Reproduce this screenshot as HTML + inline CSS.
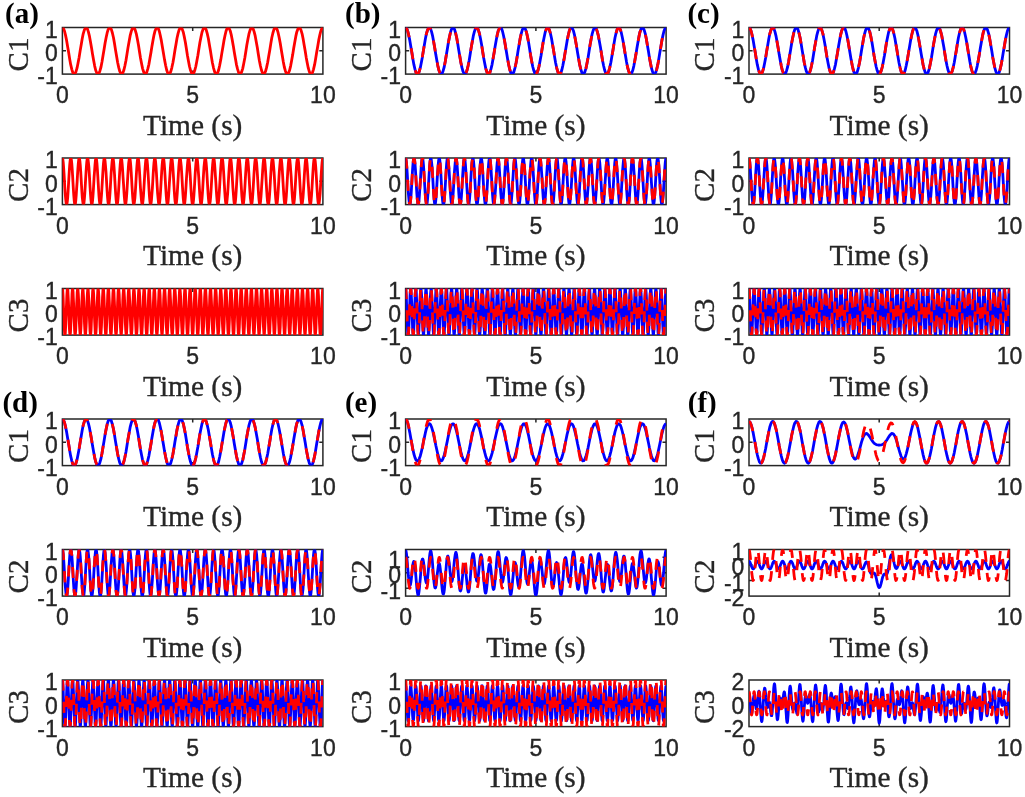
<!DOCTYPE html>
<html><head><meta charset="utf-8"><title>Figure</title><style>
html,body{margin:0;padding:0;background:#fff;}
body{width:1025px;height:797px;overflow:hidden;}
svg{display:block;}
path{fill:none;}
.r{fill:none;stroke:#ff0000;stroke-width:28.0;stroke-linejoin:round;}
.b{fill:none;stroke:#0000ff;stroke-width:28.0;stroke-linejoin:round;}
.rd{fill:none;stroke:#ff0000;stroke-width:28.0;stroke-linejoin:round;}
.box{fill:none;stroke:#262626;stroke-width:1.5;}
.tk{fill:none;stroke:#262626;stroke-width:1.5;}
.tl{font-family:"Liberation Sans",Arial,sans-serif;font-size:23px;fill:#262626;stroke:#262626;stroke-width:0.35px;}
.lb{font-family:"Liberation Serif","Times New Roman",serif;font-size:29.4px;fill:#262626;stroke:#262626;stroke-width:0.35px;}
.yl{font-family:"Liberation Serif","Times New Roman",serif;font-size:30.5px;fill:#262626;stroke:#262626;stroke-width:0.35px;}
.pl{font-family:"Liberation Serif","Times New Roman",serif;font-size:29px;font-weight:bold;fill:#000;}
</style></head>
<body>
<svg width="1025" height="797" viewBox="0 0 1025 797">
<defs>
<clipPath id="k00"><rect x="62.4" y="27.5" width="260.5" height="46.6"/></clipPath>
<clipPath id="k01"><rect x="62.4" y="158.0" width="260.5" height="46.6"/></clipPath>
<clipPath id="k02"><rect x="62.4" y="288.5" width="260.5" height="46.6"/></clipPath>
<clipPath id="k03"><rect x="62.4" y="419.0" width="260.5" height="46.6"/></clipPath>
<clipPath id="k04"><rect x="62.4" y="549.5" width="260.5" height="46.6"/></clipPath>
<clipPath id="k05"><rect x="62.4" y="680.0" width="260.5" height="46.6"/></clipPath>
<clipPath id="k10"><rect x="405.6" y="27.5" width="260.5" height="46.6"/></clipPath>
<clipPath id="k11"><rect x="405.6" y="158.0" width="260.5" height="46.6"/></clipPath>
<clipPath id="k12"><rect x="405.6" y="288.5" width="260.5" height="46.6"/></clipPath>
<clipPath id="k13"><rect x="405.6" y="419.0" width="260.5" height="46.6"/></clipPath>
<clipPath id="k14"><rect x="405.6" y="549.5" width="260.5" height="46.6"/></clipPath>
<clipPath id="k15"><rect x="405.6" y="680.0" width="260.5" height="46.6"/></clipPath>
<clipPath id="k20"><rect x="749.0" y="27.5" width="260.5" height="46.6"/></clipPath>
<clipPath id="k21"><rect x="749.0" y="158.0" width="260.5" height="46.6"/></clipPath>
<clipPath id="k22"><rect x="749.0" y="288.5" width="260.5" height="46.6"/></clipPath>
<clipPath id="k23"><rect x="749.0" y="419.0" width="260.5" height="46.6"/></clipPath>
<clipPath id="k24"><rect x="749.0" y="549.5" width="260.5" height="46.6"/></clipPath>
<clipPath id="k25"><rect x="749.0" y="680.0" width="260.5" height="46.6"/></clipPath>
</defs>
<rect width="1025" height="797" fill="#fff"/>
<text x="5.0" y="22.7" class="pl">(a)</text>
<rect class="box" x="62.4" y="27.5" width="260.5" height="46.6"/>
<path class="tk" d="M192.7 27.5v3.6M192.7 74.1v-3.6M62.4 50.8h3.6M322.9 50.8h-3.6"/>
<g clip-path="url(#k00)"><g transform="translate(62.4,27.5) scale(0.1)">
<path class="r" d="M0 0L10 9 21 35 31 76 42 129 52 189 63 253 73 316 83 372 94 418 104 450 115 465 125 462 135 443 146 407 156 358 167 299 177 236 188 172 198 113 208 63 219 26 229 5 240 1 250 14 260 44 271 89 281 145 292 207 302 271 313 332 323 386 333 428 344 455 354 466 365 459 375 434 386 395 396 343 406 282 417 218 427 155 438 98 448 52 458 19 469 2 479 3 490 21 500 55 511 103 521 161 531 224 542 288 552 348 563 399 573 437 584 460 594 466 604 454 615 425 625 382 636 327 646 265 656 201 667 139 677 84 688 41 698 12 709 0 719 6 729 29 740 67 750 118 761 178 771 242 781 305 792 363 802 411 813 445 823 463 834 464 844 447 854 414 865 368 875 311 886 248 896 184 907 123 917 71 927 32 938 7 948 0 959 11 969 38 979 80 990 134 1000 195 1011 259 1021 321 1032 377 1042 422 1052 452 1063 465 1073 461 1084 440 1094 403 1105 353 1115 294 1125 230 1136 167 1146 108 1157 59 1167 23 1177 4 1188 1 1198 16 1209 48 1219 94 1230 150 1240 213 1250 277 1261 337 1271 390 1282 431 1292 457 1302 466 1313 457 1323 431 1334 390 1344 337 1355 277 1365 213 1375 150 1386 94 1396 48 1407 16 1417 1 1428 4 1438 23 1448 59 1459 108 1469 167 1480 230 1490 294 1500 353 1511 403 1521 440 1532 461 1542 465 1553 452 1563 422 1573 377 1584 321 1594 259 1605 195 1615 134 1626 80 1636 38 1646 11 1657 0 1667 7 1678 32 1688 71 1698 123 1709 184 1719 248 1730 311 1740 368 1751 414 1761 447 1771 464 1782 463 1792 445 1803 411 1813 363 1824 305 1834 242 1844 178 1855 118 1865 67 1876 29 1886 6 1896 0 1907 12 1917 41 1928 84 1938 139 1949 201 1959 265 1969 327 1980 382 1990 425 2001 454 2011 466 2021 460 2032 437 2042 399 2053 348 2063 288 2074 224 2084 161 2094 103 2105 55 2115 21 2126 3 2136 2 2147 19 2157 52 2167 98 2178 155 2188 218 2199 282 2209 343 2219 395 2230 434 2240 459 2251 466 2261 455 2272 428 2282 386 2292 332 2303 271 2313 207 2324 145 2334 89 2344 44 2355 14 2365 1 2376 5 2386 26 2397 63 2407 113 2417 172 2428 236 2438 299 2449 358 2459 407 2470 443 2480 462 2490 465 2501 450 2511 418 2522 372 2532 316 2542 253 2553 189 2563 129 2574 76 2584 35 2595 9 2605 0"/>
</g></g>
<text class="tl" x="57.8" y="84.3" text-anchor="end">-1</text>
<text class="tl" x="57.8" y="61.0" text-anchor="end">0</text>
<text class="tl" x="57.8" y="37.7" text-anchor="end">1</text>
<text class="tl" x="62.4" y="103.2" text-anchor="middle">0</text>
<text class="tl" x="192.7" y="103.2" text-anchor="middle">5</text>
<text class="tl" x="322.9" y="103.2" text-anchor="middle">10</text>
<text class="lb" x="192.7" y="134.9" text-anchor="middle">Time (s)</text>
<text class="yl" transform="translate(27.5,54.5) rotate(-90) scale(0.95,1)" text-anchor="middle">C1</text>
<rect class="box" x="62.4" y="158.0" width="260.5" height="46.6"/>
<path class="tk" d="M192.7 158.0v3.6M192.7 204.6v-3.6M62.4 181.3h3.6M322.9 181.3h-3.6"/>
<g clip-path="url(#k01)"><g transform="translate(62.4,158.0) scale(0.1)">
<path class="r" d="M0 0L4 11 8 42 12 91 16 152 20 222 24 292 28 357 33 410 37 447 41 465 45 461 49 436 53 393 57 335 61 267 65 197 69 129 73 72 77 29 81 4 85 1 90 20 94 57 98 111 102 176 106 247 110 316 114 377 118 425 122 456 126 466 130 455 134 423 138 374 142 311 147 242 151 172 155 107 159 54 163 18 167 1 171 5 175 31 179 75 183 133 187 201 191 272 195 339 199 396 204 438 208 462 212 464 216 446 220 407 224 353 228 287 232 217 236 148 240 87 244 39 248 9 252 0 256 12 260 44 265 94 269 157 273 226 277 296 281 361 285 413 289 449 293 465 297 460 301 434 305 389 309 331 313 263 317 192 322 125 326 68 330 26 334 4 338 2 342 21 346 60 350 115 354 181 358 251 362 320 366 381 370 428 374 457 379 466 383 453 387 420 391 370 395 307 399 238 403 168 407 104 411 51 415 16 419 1 423 6 427 33 431 78 436 138 440 206 444 276 448 343 452 399 456 441 460 463 464 464 468 444 472 404 476 349 480 283 484 212 488 144 493 83 497 37 501 8 505 0 509 14 513 47 517 98 521 161 525 231 529 301 533 364 537 416 541 451 545 466 549 459 554 432 558 386 562 326 566 258 570 188 574 121 578 65 582 24 586 3 590 3 594 23 598 63 602 119 606 185 611 256 615 324 619 384 623 430 627 458 631 466 635 452 639 417 643 366 647 303 651 233 655 163 659 100 663 49 668 14 672 0 676 8 680 36 684 82 688 142 692 210 696 281 700 347 704 403 708 443 712 463 716 463 720 442 725 401 729 345 733 278 737 208 741 140 745 80 749 34 753 7 757 0 761 15 765 50 769 102 773 165 777 235 781 305 786 368 790 419 794 452 798 466 802 458 806 429 810 383 814 322 818 254 822 183 826 117 830 62 834 22 838 2 843 3 847 25 851 67 855 123 859 190 863 260 867 328 871 388 875 433 879 460 883 465 887 450 891 415 895 362 900 298 904 228 908 159 912 96 916 46 920 13 924 0 928 9 932 38 936 85 940 146 944 215 948 285 952 351 957 406 961 445 965 464 969 462 973 440 977 398 981 341 985 274 989 203 993 135 997 77 1001 32 1005 6 1009 1 1014 17 1018 53 1022 105 1026 170 1030 240 1034 309 1038 372 1042 422 1046 454 1050 466 1054 457 1058 427 1062 379 1066 318 1070 249 1075 179 1079 113 1083 59 1087 20 1091 2 1095 4 1099 28 1103 70 1107 127 1111 194 1115 265 1119 333 1123 391 1127 435 1132 461 1136 465 1140 448 1144 412 1148 359 1152 294 1156 224 1160 155 1164 92 1168 43 1172 11 1176 0 1180 10 1184 41 1189 89 1193 150 1197 219 1201 290 1205 355 1209 409 1213 446 1217 465 1221 462 1225 437 1229 394 1233 337 1237 269 1241 199 1246 131 1250 73 1254 30 1258 5 1262 1 1266 19 1270 56 1274 109 1278 174 1282 244 1286 314 1290 375 1294 424 1298 455 1302 466 1307 455 1311 424 1315 375 1319 314 1323 244 1327 174 1331 109 1335 56 1339 19 1343 1 1347 5 1351 30 1355 73 1359 131 1364 199 1368 269 1372 337 1376 394 1380 437 1384 462 1388 465 1392 446 1396 409 1400 355 1404 290 1408 219 1412 150 1416 89 1421 41 1425 10 1429 0 1433 11 1437 43 1441 92 1445 155 1449 224 1453 294 1457 359 1461 412 1465 448 1469 465 1473 461 1478 435 1482 391 1486 333 1490 265 1494 194 1498 127 1502 70 1506 28 1510 4 1514 2 1518 20 1522 59 1526 113 1530 179 1535 249 1539 318 1543 379 1547 427 1551 457 1555 466 1559 454 1563 422 1567 372 1571 309 1575 240 1579 170 1583 105 1587 53 1591 17 1596 1 1600 6 1604 32 1608 77 1612 135 1616 203 1620 274 1624 341 1628 398 1632 440 1636 462 1640 464 1644 445 1648 406 1653 351 1657 285 1661 215 1665 146 1669 85 1673 38 1677 9 1681 0 1685 13 1689 46 1693 96 1697 159 1701 228 1705 298 1710 362 1714 415 1718 450 1722 465 1726 460 1730 433 1734 388 1738 328 1742 260 1746 190 1750 123 1754 67 1758 25 1762 3 1767 2 1771 22 1775 62 1779 117 1783 183 1787 254 1791 322 1795 383 1799 429 1803 458 1807 466 1811 452 1815 419 1819 368 1824 305 1828 235 1832 165 1836 102 1840 50 1844 15 1848 0 1852 7 1856 34 1860 80 1864 140 1868 208 1872 278 1876 345 1880 401 1885 442 1889 463 1893 463 1897 443 1901 403 1905 347 1909 281 1913 210 1917 142 1921 82 1925 36 1929 8 1933 0 1937 14 1942 49 1946 100 1950 163 1954 233 1958 303 1962 366 1966 417 1970 452 1974 466 1978 458 1982 430 1986 384 1990 324 1994 256 1999 185 2003 119 2007 63 2011 23 2015 3 2019 3 2023 24 2027 65 2031 121 2035 188 2039 258 2043 326 2047 386 2051 432 2056 459 2060 466 2064 451 2068 416 2072 364 2076 301 2080 231 2084 161 2088 98 2092 47 2096 14 2100 0 2104 8 2108 37 2112 83 2117 144 2121 212 2125 283 2129 349 2133 404 2137 444 2141 464 2145 463 2149 441 2153 399 2157 343 2161 276 2165 206 2169 138 2174 78 2178 33 2182 6 2186 1 2190 16 2194 51 2198 104 2202 168 2206 238 2210 307 2214 370 2218 420 2222 453 2226 466 2231 457 2235 428 2239 381 2243 320 2247 251 2251 181 2255 115 2259 60 2263 21 2267 2 2271 4 2275 26 2279 68 2283 125 2288 192 2292 263 2296 331 2300 389 2304 434 2308 460 2312 465 2316 449 2320 413 2324 361 2328 296 2332 226 2336 157 2340 94 2344 44 2349 12 2353 0 2357 9 2361 39 2365 87 2369 148 2373 217 2377 287 2381 353 2385 407 2389 446 2393 464 2397 462 2401 438 2406 396 2410 339 2414 272 2418 201 2422 133 2426 75 2430 31 2434 5 2438 1 2442 18 2446 54 2450 107 2454 172 2458 242 2463 311 2467 374 2471 423 2475 455 2479 466 2483 456 2487 425 2491 377 2495 316 2499 247 2503 176 2507 111 2511 57 2515 20 2520 1 2524 4 2528 29 2532 72 2536 129 2540 197 2544 267 2548 335 2552 393 2556 436 2560 461 2564 465 2568 447 2572 410 2577 357 2581 292 2585 222 2589 152 2593 91 2597 42 2601 11 2605 0"/>
</g></g>
<text class="tl" x="57.8" y="214.8" text-anchor="end">-1</text>
<text class="tl" x="57.8" y="191.5" text-anchor="end">0</text>
<text class="tl" x="57.8" y="168.2" text-anchor="end">1</text>
<text class="tl" x="62.4" y="233.7" text-anchor="middle">0</text>
<text class="tl" x="192.7" y="233.7" text-anchor="middle">5</text>
<text class="tl" x="322.9" y="233.7" text-anchor="middle">10</text>
<text class="lb" x="192.7" y="265.4" text-anchor="middle">Time (s)</text>
<text class="yl" transform="translate(27.5,185.0) rotate(-90) scale(0.95,1)" text-anchor="middle">C2</text>
<rect class="box" x="62.4" y="288.5" width="260.5" height="46.6"/>
<path class="tk" d="M192.7 288.5v3.6M192.7 335.1v-3.6M62.4 311.8h3.6M322.9 311.8h-3.6"/>
<g clip-path="url(#k02)"><g transform="translate(62.4,288.5) scale(0.1)">
<path class="r" d="M0 0L3 12 5 46 8 100 10 167 13 240 16 313 18 378 21 428 23 458 26 466 29 449 31 411 34 354 36 285 39 211 42 139 44 77 47 30 49 4 52 2 55 23 57 65 60 125 63 195 65 269 68 340 70 400 73 443 76 464 78 462 81 436 83 390 86 328 89 256 91 182 94 113 96 56 99 17 102 1 104 7 107 37 109 87 112 151 115 224 117 298 120 365 122 419 125 454 128 466 130 455 133 421 135 368 138 301 141 227 143 154 146 89 148 39 151 8 154 0 156 16 159 54 162 111 164 179 167 253 169 326 172 388 175 435 177 461 180 464 182 444 185 402 188 343 190 272 193 198 195 127 198 67 201 24 203 2 206 4 208 29 211 75 214 136 216 208 219 282 221 352 224 409 227 448 229 465 232 459 234 430 237 380 240 316 242 243 245 169 247 102 250 48 253 13 255 0 258 11 260 44 263 97 266 164 268 237 271 311 274 376 276 427 279 458 281 466 284 450 287 413 289 357 292 288 294 214 297 142 300 79 302 32 305 5 307 1 310 22 313 63 315 122 318 192 320 267 323 337 326 398 328 441 331 464 333 462 336 438 339 392 341 331 344 259 346 185 349 116 352 58 354 19 357 1 359 7 362 35 365 84 367 149 370 221 373 295 375 363 378 417 380 453 383 466 386 455 388 422 391 370 393 304 396 230 399 157 401 91 404 40 406 9 409 0 412 15 414 53 417 108 419 176 422 251 425 323 427 386 430 434 432 461 435 465 438 445 440 404 443 345 445 275 448 201 451 130 453 69 456 25 458 3 461 3 464 27 466 72 469 134 472 205 474 280 477 349 479 407 482 447 485 465 487 460 490 431 492 383 495 319 498 246 500 172 503 104 505 50 508 14 511 0 513 10 516 43 518 95 521 161 524 234 526 308 529 373 531 425 534 457 537 466 539 451 542 414 544 359 547 291 550 217 552 145 555 81 557 33 560 6 563 1 565 20 568 61 570 119 573 189 576 264 578 335 581 396 584 440 586 463 589 463 591 439 594 395 597 334 599 262 602 188 604 118 607 60 610 20 612 1 615 6 617 34 620 82 623 146 625 218 628 292 630 360 633 415 636 452 638 466 641 456 643 424 646 372 649 306 651 233 654 160 656 94 659 42 662 10 664 0 667 14 669 51 672 106 675 174 677 248 680 320 683 384 685 432 688 460 690 465 693 446 696 406 698 348 701 278 703 204 706 132 709 71 711 27 714 3 716 3 719 26 722 70 724 131 727 202 729 277 732 347 735 405 737 446 740 465 742 460 745 433 748 385 750 321 753 249 755 175 758 107 761 52 763 15 766 0 768 9 771 41 774 93 776 158 779 232 781 305 784 371 787 423 789 456 792 466 795 452 797 416 800 362 802 294 805 220 808 147 810 83 813 35 815 6 818 1 821 19 823 59 826 117 828 186 831 261 834 332 836 394 839 439 841 463 844 463 847 441 849 397 852 336 854 265 857 191 860 121 862 62 865 21 867 1 870 5 873 32 875 80 878 143 880 215 883 290 886 358 888 413 891 451 894 466 896 457 899 426 901 375 904 309 907 236 909 162 912 96 914 44 917 11 920 0 922 13 925 49 927 103 930 171 933 245 935 317 938 382 940 431 943 459 946 465 948 447 951 408 953 350 956 281 959 207 961 135 964 74 966 28 969 4 972 2 974 25 977 68 979 129 982 199 985 274 987 344 990 403 993 444 995 465 998 461 1000 434 1003 387 1006 324 1008 252 1011 178 1013 109 1016 53 1019 16 1021 0 1024 8 1026 39 1029 90 1032 155 1034 229 1037 302 1039 369 1042 422 1045 455 1047 466 1050 453 1052 418 1055 364 1058 297 1060 223 1063 150 1065 86 1068 36 1071 7 1073 1 1076 18 1078 57 1081 114 1084 184 1086 258 1089 330 1091 391 1094 437 1097 462 1099 464 1102 442 1105 399 1107 339 1110 268 1112 194 1115 123 1118 64 1120 22 1123 2 1125 5 1128 31 1131 78 1133 140 1136 213 1138 287 1141 355 1144 412 1146 450 1149 466 1151 458 1154 427 1157 377 1159 312 1162 239 1164 165 1167 98 1170 45 1172 11 1175 0 1177 12 1180 47 1183 101 1185 168 1188 242 1190 315 1193 379 1196 429 1198 459 1201 465 1204 449 1206 410 1209 353 1211 284 1214 210 1217 138 1219 76 1222 30 1224 4 1227 2 1230 23 1232 66 1235 126 1237 197 1240 271 1243 341 1245 401 1248 443 1250 464 1253 462 1256 436 1258 389 1261 327 1263 255 1266 181 1269 112 1271 55 1274 17 1276 0 1279 8 1282 38 1284 88 1287 153 1289 226 1292 299 1295 366 1297 420 1300 454 1302 466 1305 454 1308 420 1310 366 1313 299 1316 226 1318 153 1321 88 1323 38 1326 8 1329 0 1331 17 1334 55 1336 112 1339 181 1342 255 1344 327 1347 389 1349 436 1352 462 1355 464 1357 443 1360 401 1362 341 1365 271 1368 197 1370 126 1373 66 1375 23 1378 2 1381 4 1383 30 1386 76 1388 138 1391 210 1394 284 1396 353 1399 410 1401 449 1404 465 1407 459 1409 429 1412 379 1415 315 1417 242 1420 168 1422 101 1425 47 1428 12 1430 0 1433 11 1435 45 1438 98 1441 165 1443 239 1446 312 1448 377 1451 427 1454 458 1456 466 1459 450 1461 412 1464 355 1467 287 1469 213 1472 140 1474 78 1477 31 1480 5 1482 2 1485 22 1487 64 1490 123 1493 194 1495 268 1498 339 1500 399 1503 442 1506 464 1508 462 1511 437 1514 391 1516 330 1519 258 1521 184 1524 114 1527 57 1529 18 1532 1 1534 7 1537 36 1540 86 1542 150 1545 223 1547 297 1550 364 1553 418 1555 453 1558 466 1560 455 1563 422 1566 369 1568 302 1571 229 1573 155 1576 90 1579 39 1581 8 1584 0 1586 16 1589 53 1592 109 1594 178 1597 252 1599 324 1602 387 1605 434 1607 461 1610 465 1612 444 1615 403 1618 344 1620 274 1623 199 1626 129 1628 68 1631 25 1633 2 1636 4 1639 28 1641 74 1644 135 1646 207 1649 281 1652 350 1654 408 1657 447 1659 465 1662 459 1665 431 1667 382 1670 317 1672 245 1675 171 1678 103 1680 49 1683 13 1685 0 1688 11 1691 44 1693 96 1696 162 1698 236 1701 309 1704 375 1706 426 1709 457 1711 466 1714 451 1717 413 1719 358 1722 290 1725 215 1727 143 1730 80 1732 32 1735 5 1738 1 1740 21 1743 62 1745 121 1748 191 1751 265 1753 336 1756 397 1758 441 1761 463 1764 463 1766 439 1769 394 1771 332 1774 261 1777 186 1779 117 1782 59 1784 19 1787 1 1790 6 1792 35 1795 83 1797 147 1800 220 1803 294 1805 362 1808 416 1810 452 1813 466 1816 456 1818 423 1821 371 1824 305 1826 232 1829 158 1831 93 1834 41 1837 9 1839 0 1842 15 1844 52 1847 107 1850 175 1852 249 1855 321 1857 385 1860 433 1863 460 1865 465 1868 446 1870 405 1873 347 1876 277 1878 202 1881 131 1883 70 1886 26 1889 3 1891 3 1894 27 1896 71 1899 132 1902 204 1904 278 1907 348 1909 406 1912 446 1915 465 1917 460 1920 432 1922 384 1925 320 1928 248 1930 174 1933 106 1936 51 1938 14 1941 0 1943 10 1946 42 1949 94 1951 160 1954 233 1956 306 1959 372 1962 424 1964 456 1967 466 1969 452 1972 415 1975 360 1977 292 1980 218 1982 146 1985 82 1988 34 1990 6 1993 1 1995 20 1998 60 2001 118 2003 188 2006 262 2008 334 2011 395 2014 439 2016 463 2019 463 2021 440 2024 396 2027 335 2029 264 2032 189 2035 119 2037 61 2040 20 2042 1 2045 6 2048 33 2050 81 2053 145 2055 217 2058 291 2061 359 2063 414 2066 451 2068 466 2071 457 2074 425 2076 373 2079 308 2081 234 2084 161 2087 95 2089 43 2092 10 2094 0 2097 14 2100 50 2102 104 2105 172 2107 246 2110 319 2113 383 2115 431 2118 460 2120 465 2123 447 2126 407 2128 349 2131 280 2133 205 2136 134 2139 72 2141 27 2144 3 2147 3 2149 25 2152 69 2154 130 2157 201 2160 275 2162 345 2165 404 2167 445 2170 465 2173 461 2175 434 2178 386 2180 323 2183 251 2186 176 2188 108 2191 53 2193 15 2196 0 2199 9 2201 40 2204 91 2206 157 2209 230 2212 304 2214 370 2217 422 2219 455 2222 466 2225 453 2227 417 2230 363 2232 295 2235 221 2238 149 2240 84 2243 35 2246 7 2248 1 2251 19 2253 58 2256 116 2259 185 2261 259 2264 331 2266 392 2269 438 2272 462 2274 464 2277 441 2279 398 2282 337 2285 267 2287 192 2290 122 2292 63 2295 22 2298 1 2300 5 2303 32 2305 79 2308 142 2311 214 2313 288 2316 357 2318 413 2321 450 2324 466 2326 458 2329 427 2331 376 2334 311 2337 237 2339 164 2342 97 2344 44 2347 11 2350 0 2352 13 2355 48 2358 102 2360 169 2363 243 2365 316 2368 380 2371 430 2373 459 2376 465 2378 448 2381 409 2384 352 2386 282 2389 208 2391 136 2394 75 2397 29 2399 4 2402 2 2404 24 2407 67 2410 127 2412 198 2415 272 2417 343 2420 402 2423 444 2425 464 2428 461 2430 435 2433 388 2436 326 2438 253 2441 179 2443 111 2446 54 2449 16 2451 0 2454 8 2457 39 2459 89 2462 154 2464 227 2467 301 2470 368 2472 421 2475 455 2477 466 2480 454 2483 419 2485 365 2488 298 2490 224 2493 151 2496 87 2498 37 2501 7 2503 1 2506 17 2509 56 2511 113 2514 182 2516 256 2519 328 2522 390 2524 436 2527 462 2529 464 2532 443 2535 400 2537 340 2540 269 2542 195 2545 125 2548 65 2550 23 2553 2 2556 4 2558 30 2561 77 2563 139 2566 211 2569 285 2571 354 2574 411 2576 449 2579 466 2582 458 2584 428 2587 378 2589 313 2592 240 2595 167 2597 100 2600 46 2602 12 2605 0"/>
</g></g>
<text class="tl" x="57.8" y="345.3" text-anchor="end">-1</text>
<text class="tl" x="57.8" y="322.0" text-anchor="end">0</text>
<text class="tl" x="57.8" y="298.7" text-anchor="end">1</text>
<text class="tl" x="62.4" y="364.2" text-anchor="middle">0</text>
<text class="tl" x="192.7" y="364.2" text-anchor="middle">5</text>
<text class="tl" x="322.9" y="364.2" text-anchor="middle">10</text>
<text class="lb" x="192.7" y="395.9" text-anchor="middle">Time (s)</text>
<text class="yl" transform="translate(27.5,315.5) rotate(-90) scale(0.95,1)" text-anchor="middle">C3</text>
<text x="2.4" y="412.2" class="pl">(d)</text>
<rect class="box" x="62.4" y="419.0" width="260.5" height="46.6"/>
<path class="tk" d="M192.7 419.0v3.6M192.7 465.6v-3.6M62.4 442.3h3.6M322.9 442.3h-3.6"/>
<g clip-path="url(#k03)"><g transform="translate(62.4,419.0) scale(0.1)">
<path class="b" d="M0 0L10 9 21 35 31 76 42 129 52 189 63 253 73 316 83 372 94 418 104 450 115 465 125 462 135 443 146 407 156 358 167 299 177 236 188 172 198 113 208 63 219 26 229 5 240 1 250 14 260 44 271 89 281 145 292 207 302 271 313 332 323 386 333 428 344 455 354 466 365 459 375 434 386 395 396 343 406 282 417 218 427 155 438 98 448 52 458 19 469 2 479 3 490 21 500 55 511 103 521 161 531 224 542 288 552 348 563 399 573 437 584 460 594 466 604 454 615 425 625 382 636 327 646 265 656 201 667 139 677 84 688 41 698 12 709 0 719 6 729 29 740 67 750 118 761 178 771 242 781 305 792 363 802 411 813 445 823 463 834 464 844 447 854 414 865 368 875 311 886 248 896 184 907 123 917 71 927 32 938 7 948 0 959 11 969 38 979 80 990 134 1000 195 1011 259 1021 321 1032 377 1042 422 1052 452 1063 465 1073 461 1084 440 1094 403 1105 353 1115 294 1125 230 1136 167 1146 108 1157 59 1167 23 1177 4 1188 1 1198 16 1209 48 1219 94 1230 150 1240 213 1250 277 1261 337 1271 390 1282 431 1292 457 1302 466 1313 457 1323 431 1334 390 1344 337 1355 277 1365 213 1375 150 1386 94 1396 48 1407 16 1417 1 1428 4 1438 23 1448 59 1459 108 1469 167 1480 230 1490 294 1500 353 1511 403 1521 440 1532 461 1542 465 1553 452 1563 422 1573 377 1584 321 1594 259 1605 195 1615 134 1626 80 1636 38 1646 11 1657 0 1667 7 1678 32 1688 71 1698 123 1709 184 1719 248 1730 311 1740 368 1751 414 1761 447 1771 464 1782 463 1792 445 1803 411 1813 363 1824 305 1834 242 1844 178 1855 118 1865 67 1876 29 1886 6 1896 0 1907 12 1917 41 1928 84 1938 139 1949 201 1959 265 1969 327 1980 382 1990 425 2001 454 2011 466 2021 460 2032 437 2042 399 2053 348 2063 288 2074 224 2084 161 2094 103 2105 55 2115 21 2126 3 2136 2 2147 19 2157 52 2167 98 2178 155 2188 218 2199 282 2209 343 2219 395 2230 434 2240 459 2251 466 2261 455 2272 428 2282 386 2292 332 2303 271 2313 207 2324 145 2334 89 2344 44 2355 14 2365 1 2376 5 2386 26 2397 63 2407 113 2417 172 2428 236 2438 299 2449 358 2459 407 2470 443 2480 462 2490 465 2501 450 2511 418 2522 372 2532 316 2542 253 2553 189 2563 129 2574 76 2584 35 2595 9 2605 0"/>
<path class="rd" stroke-dasharray="111.66 111.66" stroke-dashoffset="4.98" d="M0 0L10 9 21 35 31 76 42 129 52 189 63 253 73 316 83 372 94 418 104 450 115 465 125 462 135 443 146 407 156 358 167 299 177 236 188 172 198 113 208 63 219 26 229 5 240 1 250 14 260 44 271 89 281 145 292 207 302 271 313 332 323 386 333 428 344 455 354 466 365 459 375 434 386 395 396 343 406 282 417 218 427 155 438 98 448 52 458 19 469 2 479 3 490 21 500 55 511 103 521 161 531 224 542 288 552 348 563 399 573 437 584 460 594 466 604 454 615 425 625 382 636 327 646 265 656 201 667 139 677 84 688 41 698 12 709 0 719 6 729 29 740 67 750 118 761 178 771 242 781 305 792 363 802 411 813 445 823 463 834 464 844 447 854 414 865 368 875 311 886 248 896 184 907 123 917 71 927 32 938 7 948 0 959 11 969 38 979 80 990 134 1000 195 1011 259 1021 321 1032 377 1042 422 1052 452 1063 465 1073 461 1084 440 1094 403 1105 353 1115 294 1125 230 1136 167 1146 108 1157 59 1167 23 1177 4 1188 1 1198 16 1209 48 1219 94 1230 150 1240 213 1250 277 1261 337 1271 390 1282 431 1292 457 1302 466 1313 457 1323 431 1334 390 1344 337 1355 277 1365 213 1375 150 1386 94 1396 48 1407 16 1417 1 1428 4 1438 23 1448 59 1459 108 1469 167 1480 230 1490 294 1500 353 1511 403 1521 440 1532 461 1542 465 1553 452 1563 422 1573 377 1584 321 1594 259 1605 195 1615 134 1626 80 1636 38 1646 11 1657 0 1667 7 1678 32 1688 71 1698 123 1709 184 1719 248 1730 311 1740 368 1751 414 1761 447 1771 464 1782 463 1792 445 1803 411 1813 363 1824 305 1834 242 1844 178 1855 118 1865 67 1876 29 1886 6 1896 0 1907 12 1917 41 1928 84 1938 139 1949 201 1959 265 1969 327 1980 382 1990 425 2001 454 2011 466 2021 460 2032 437 2042 399 2053 348 2063 288 2074 224 2084 161 2094 103 2105 55 2115 21 2126 3 2136 2 2147 19 2157 52 2167 98 2178 155 2188 218 2199 282 2209 343 2219 395 2230 434 2240 459 2251 466 2261 455 2272 428 2282 386 2292 332 2303 271 2313 207 2324 145 2334 89 2344 44 2355 14 2365 1 2376 5 2386 26 2397 63 2407 113 2417 172 2428 236 2438 299 2449 358 2459 407 2470 443 2480 462 2490 465 2501 450 2511 418 2522 372 2532 316 2542 253 2553 189 2563 129 2574 76 2584 35 2595 9 2605 0"/>
</g></g>
<text class="tl" x="57.8" y="475.8" text-anchor="end">-1</text>
<text class="tl" x="57.8" y="452.5" text-anchor="end">0</text>
<text class="tl" x="57.8" y="429.2" text-anchor="end">1</text>
<text class="tl" x="62.4" y="494.7" text-anchor="middle">0</text>
<text class="tl" x="192.7" y="494.7" text-anchor="middle">5</text>
<text class="tl" x="322.9" y="494.7" text-anchor="middle">10</text>
<text class="lb" x="192.7" y="526.4" text-anchor="middle">Time (s)</text>
<text class="yl" transform="translate(27.5,446.0) rotate(-90) scale(0.95,1)" text-anchor="middle">C1</text>
<rect class="box" x="62.4" y="549.5" width="260.5" height="46.6"/>
<path class="tk" d="M192.7 549.5v3.6M192.7 596.1v-3.6M62.4 572.8h3.6M322.9 572.8h-3.6"/>
<g clip-path="url(#k04)"><g transform="translate(62.4,549.5) scale(0.1)">
<path class="b" d="M0 0L4 11 8 42 12 91 16 152 20 222 24 292 28 357 33 410 37 447 41 465 45 461 49 436 53 393 57 335 61 267 65 197 69 129 73 72 77 29 81 4 85 1 90 20 94 57 98 111 102 176 106 247 110 316 114 377 118 425 122 456 126 466 130 455 134 423 138 374 142 311 147 242 151 172 155 107 159 54 163 18 167 1 171 5 175 31 179 75 183 133 187 201 191 272 195 339 199 396 204 438 208 462 212 464 216 446 220 407 224 353 228 287 232 217 236 148 240 87 244 39 248 9 252 0 256 12 260 44 265 94 269 157 273 226 277 296 281 361 285 413 289 449 293 465 297 460 301 434 305 389 309 331 313 263 317 192 322 125 326 68 330 26 334 4 338 2 342 21 346 60 350 115 354 181 358 251 362 320 366 381 370 428 374 457 379 466 383 453 387 420 391 370 395 307 399 238 403 168 407 104 411 51 415 16 419 1 423 6 427 33 431 78 436 138 440 206 444 276 448 343 452 399 456 441 460 463 464 464 468 444 472 404 476 349 480 283 484 212 488 144 493 83 497 37 501 8 505 0 509 14 513 47 517 98 521 161 525 231 529 301 533 364 537 416 541 451 545 466 549 459 554 432 558 386 562 326 566 258 570 188 574 121 578 65 582 24 586 3 590 3 594 23 598 63 602 119 606 185 611 256 615 324 619 384 623 430 627 458 631 466 635 452 639 417 643 366 647 303 651 233 655 163 659 100 663 49 668 14 672 0 676 8 680 36 684 82 688 142 692 210 696 281 700 347 704 403 708 443 712 463 716 463 720 442 725 401 729 345 733 278 737 208 741 140 745 80 749 34 753 7 757 0 761 15 765 50 769 102 773 165 777 235 781 305 786 368 790 419 794 452 798 466 802 458 806 429 810 383 814 322 818 254 822 183 826 117 830 62 834 22 838 2 843 3 847 25 851 67 855 123 859 190 863 260 867 328 871 388 875 433 879 460 883 465 887 450 891 415 895 362 900 298 904 228 908 159 912 96 916 46 920 13 924 0 928 9 932 38 936 85 940 146 944 215 948 285 952 351 957 406 961 445 965 464 969 462 973 440 977 398 981 341 985 274 989 203 993 135 997 77 1001 32 1005 6 1009 1 1014 17 1018 53 1022 105 1026 170 1030 240 1034 309 1038 372 1042 422 1046 454 1050 466 1054 457 1058 427 1062 379 1066 318 1070 249 1075 179 1079 113 1083 59 1087 20 1091 2 1095 4 1099 28 1103 70 1107 127 1111 194 1115 265 1119 333 1123 391 1127 435 1132 461 1136 465 1140 448 1144 412 1148 359 1152 294 1156 224 1160 155 1164 92 1168 43 1172 11 1176 0 1180 10 1184 41 1189 89 1193 150 1197 219 1201 290 1205 355 1209 409 1213 446 1217 465 1221 462 1225 437 1229 394 1233 337 1237 269 1241 199 1246 131 1250 73 1254 30 1258 5 1262 1 1266 19 1270 56 1274 109 1278 174 1282 244 1286 314 1290 375 1294 424 1298 455 1302 466 1307 455 1311 424 1315 375 1319 314 1323 244 1327 174 1331 109 1335 56 1339 19 1343 1 1347 5 1351 30 1355 73 1359 131 1364 199 1368 269 1372 337 1376 394 1380 437 1384 462 1388 465 1392 446 1396 409 1400 355 1404 290 1408 219 1412 150 1416 89 1421 41 1425 10 1429 0 1433 11 1437 43 1441 92 1445 155 1449 224 1453 294 1457 359 1461 412 1465 448 1469 465 1473 461 1478 435 1482 391 1486 333 1490 265 1494 194 1498 127 1502 70 1506 28 1510 4 1514 2 1518 20 1522 59 1526 113 1530 179 1535 249 1539 318 1543 379 1547 427 1551 457 1555 466 1559 454 1563 422 1567 372 1571 309 1575 240 1579 170 1583 105 1587 53 1591 17 1596 1 1600 6 1604 32 1608 77 1612 135 1616 203 1620 274 1624 341 1628 398 1632 440 1636 462 1640 464 1644 445 1648 406 1653 351 1657 285 1661 215 1665 146 1669 85 1673 38 1677 9 1681 0 1685 13 1689 46 1693 96 1697 159 1701 228 1705 298 1710 362 1714 415 1718 450 1722 465 1726 460 1730 433 1734 388 1738 328 1742 260 1746 190 1750 123 1754 67 1758 25 1762 3 1767 2 1771 22 1775 62 1779 117 1783 183 1787 254 1791 322 1795 383 1799 429 1803 458 1807 466 1811 452 1815 419 1819 368 1824 305 1828 235 1832 165 1836 102 1840 50 1844 15 1848 0 1852 7 1856 34 1860 80 1864 140 1868 208 1872 278 1876 345 1880 401 1885 442 1889 463 1893 463 1897 443 1901 403 1905 347 1909 281 1913 210 1917 142 1921 82 1925 36 1929 8 1933 0 1937 14 1942 49 1946 100 1950 163 1954 233 1958 303 1962 366 1966 417 1970 452 1974 466 1978 458 1982 430 1986 384 1990 324 1994 256 1999 185 2003 119 2007 63 2011 23 2015 3 2019 3 2023 24 2027 65 2031 121 2035 188 2039 258 2043 326 2047 386 2051 432 2056 459 2060 466 2064 451 2068 416 2072 364 2076 301 2080 231 2084 161 2088 98 2092 47 2096 14 2100 0 2104 8 2108 37 2112 83 2117 144 2121 212 2125 283 2129 349 2133 404 2137 444 2141 464 2145 463 2149 441 2153 399 2157 343 2161 276 2165 206 2169 138 2174 78 2178 33 2182 6 2186 1 2190 16 2194 51 2198 104 2202 168 2206 238 2210 307 2214 370 2218 420 2222 453 2226 466 2231 457 2235 428 2239 381 2243 320 2247 251 2251 181 2255 115 2259 60 2263 21 2267 2 2271 4 2275 26 2279 68 2283 125 2288 192 2292 263 2296 331 2300 389 2304 434 2308 460 2312 465 2316 449 2320 413 2324 361 2328 296 2332 226 2336 157 2340 94 2344 44 2349 12 2353 0 2357 9 2361 39 2365 87 2369 148 2373 217 2377 287 2381 353 2385 407 2389 446 2393 464 2397 462 2401 438 2406 396 2410 339 2414 272 2418 201 2422 133 2426 75 2430 31 2434 5 2438 1 2442 18 2446 54 2450 107 2454 172 2458 242 2463 311 2467 374 2471 423 2475 455 2479 466 2483 456 2487 425 2491 377 2495 316 2499 247 2503 176 2507 111 2511 57 2515 20 2520 1 2524 4 2528 29 2532 72 2536 129 2540 197 2544 267 2548 335 2552 393 2556 436 2560 461 2564 465 2568 447 2572 410 2577 357 2581 292 2585 222 2589 152 2593 91 2597 42 2601 11 2605 0"/>
<path class="rd" stroke-dasharray="111.58 111.58" stroke-dashoffset="4.98" d="M0 0L4 11 8 42 12 91 16 152 20 222 24 292 28 357 33 410 37 447 41 465 45 461 49 436 53 393 57 335 61 267 65 197 69 129 73 72 77 29 81 4 85 1 90 20 94 57 98 111 102 176 106 247 110 316 114 377 118 425 122 456 126 466 130 455 134 423 138 374 142 311 147 242 151 172 155 107 159 54 163 18 167 1 171 5 175 31 179 75 183 133 187 201 191 272 195 339 199 396 204 438 208 462 212 464 216 446 220 407 224 353 228 287 232 217 236 148 240 87 244 39 248 9 252 0 256 12 260 44 265 94 269 157 273 226 277 296 281 361 285 413 289 449 293 465 297 460 301 434 305 389 309 331 313 263 317 192 322 125 326 68 330 26 334 4 338 2 342 21 346 60 350 115 354 181 358 251 362 320 366 381 370 428 374 457 379 466 383 453 387 420 391 370 395 307 399 238 403 168 407 104 411 51 415 16 419 1 423 6 427 33 431 78 436 138 440 206 444 276 448 343 452 399 456 441 460 463 464 464 468 444 472 404 476 349 480 283 484 212 488 144 493 83 497 37 501 8 505 0 509 14 513 47 517 98 521 161 525 231 529 301 533 364 537 416 541 451 545 466 549 459 554 432 558 386 562 326 566 258 570 188 574 121 578 65 582 24 586 3 590 3 594 23 598 63 602 119 606 185 611 256 615 324 619 384 623 430 627 458 631 466 635 452 639 417 643 366 647 303 651 233 655 163 659 100 663 49 668 14 672 0 676 8 680 36 684 82 688 142 692 210 696 281 700 347 704 403 708 443 712 463 716 463 720 442 725 401 729 345 733 278 737 208 741 140 745 80 749 34 753 7 757 0 761 15 765 50 769 102 773 165 777 235 781 305 786 368 790 419 794 452 798 466 802 458 806 429 810 383 814 322 818 254 822 183 826 117 830 62 834 22 838 2 843 3 847 25 851 67 855 123 859 190 863 260 867 328 871 388 875 433 879 460 883 465 887 450 891 415 895 362 900 298 904 228 908 159 912 96 916 46 920 13 924 0 928 9 932 38 936 85 940 146 944 215 948 285 952 351 957 406 961 445 965 464 969 462 973 440 977 398 981 341 985 274 989 203 993 135 997 77 1001 32 1005 6 1009 1 1014 17 1018 53 1022 105 1026 170 1030 240 1034 309 1038 372 1042 422 1046 454 1050 466 1054 457 1058 427 1062 379 1066 318 1070 249 1075 179 1079 113 1083 59 1087 20 1091 2 1095 4 1099 28 1103 70 1107 127 1111 194 1115 265 1119 333 1123 391 1127 435 1132 461 1136 465 1140 448 1144 412 1148 359 1152 294 1156 224 1160 155 1164 92 1168 43 1172 11 1176 0 1180 10 1184 41 1189 89 1193 150 1197 219 1201 290 1205 355 1209 409 1213 446 1217 465 1221 462 1225 437 1229 394 1233 337 1237 269 1241 199 1246 131 1250 73 1254 30 1258 5 1262 1 1266 19 1270 56 1274 109 1278 174 1282 244 1286 314 1290 375 1294 424 1298 455 1302 466 1307 455 1311 424 1315 375 1319 314 1323 244 1327 174 1331 109 1335 56 1339 19 1343 1 1347 5 1351 30 1355 73 1359 131 1364 199 1368 269 1372 337 1376 394 1380 437 1384 462 1388 465 1392 446 1396 409 1400 355 1404 290 1408 219 1412 150 1416 89 1421 41 1425 10 1429 0 1433 11 1437 43 1441 92 1445 155 1449 224 1453 294 1457 359 1461 412 1465 448 1469 465 1473 461 1478 435 1482 391 1486 333 1490 265 1494 194 1498 127 1502 70 1506 28 1510 4 1514 2 1518 20 1522 59 1526 113 1530 179 1535 249 1539 318 1543 379 1547 427 1551 457 1555 466 1559 454 1563 422 1567 372 1571 309 1575 240 1579 170 1583 105 1587 53 1591 17 1596 1 1600 6 1604 32 1608 77 1612 135 1616 203 1620 274 1624 341 1628 398 1632 440 1636 462 1640 464 1644 445 1648 406 1653 351 1657 285 1661 215 1665 146 1669 85 1673 38 1677 9 1681 0 1685 13 1689 46 1693 96 1697 159 1701 228 1705 298 1710 362 1714 415 1718 450 1722 465 1726 460 1730 433 1734 388 1738 328 1742 260 1746 190 1750 123 1754 67 1758 25 1762 3 1767 2 1771 22 1775 62 1779 117 1783 183 1787 254 1791 322 1795 383 1799 429 1803 458 1807 466 1811 452 1815 419 1819 368 1824 305 1828 235 1832 165 1836 102 1840 50 1844 15 1848 0 1852 7 1856 34 1860 80 1864 140 1868 208 1872 278 1876 345 1880 401 1885 442 1889 463 1893 463 1897 443 1901 403 1905 347 1909 281 1913 210 1917 142 1921 82 1925 36 1929 8 1933 0 1937 14 1942 49 1946 100 1950 163 1954 233 1958 303 1962 366 1966 417 1970 452 1974 466 1978 458 1982 430 1986 384 1990 324 1994 256 1999 185 2003 119 2007 63 2011 23 2015 3 2019 3 2023 24 2027 65 2031 121 2035 188 2039 258 2043 326 2047 386 2051 432 2056 459 2060 466 2064 451 2068 416 2072 364 2076 301 2080 231 2084 161 2088 98 2092 47 2096 14 2100 0 2104 8 2108 37 2112 83 2117 144 2121 212 2125 283 2129 349 2133 404 2137 444 2141 464 2145 463 2149 441 2153 399 2157 343 2161 276 2165 206 2169 138 2174 78 2178 33 2182 6 2186 1 2190 16 2194 51 2198 104 2202 168 2206 238 2210 307 2214 370 2218 420 2222 453 2226 466 2231 457 2235 428 2239 381 2243 320 2247 251 2251 181 2255 115 2259 60 2263 21 2267 2 2271 4 2275 26 2279 68 2283 125 2288 192 2292 263 2296 331 2300 389 2304 434 2308 460 2312 465 2316 449 2320 413 2324 361 2328 296 2332 226 2336 157 2340 94 2344 44 2349 12 2353 0 2357 9 2361 39 2365 87 2369 148 2373 217 2377 287 2381 353 2385 407 2389 446 2393 464 2397 462 2401 438 2406 396 2410 339 2414 272 2418 201 2422 133 2426 75 2430 31 2434 5 2438 1 2442 18 2446 54 2450 107 2454 172 2458 242 2463 311 2467 374 2471 423 2475 455 2479 466 2483 456 2487 425 2491 377 2495 316 2499 247 2503 176 2507 111 2511 57 2515 20 2520 1 2524 4 2528 29 2532 72 2536 129 2540 197 2544 267 2548 335 2552 393 2556 436 2560 461 2564 465 2568 447 2572 410 2577 357 2581 292 2585 222 2589 152 2593 91 2597 42 2601 11 2605 0"/>
</g></g>
<text class="tl" x="57.8" y="606.3" text-anchor="end">-1</text>
<text class="tl" x="57.8" y="583.0" text-anchor="end">0</text>
<text class="tl" x="57.8" y="559.7" text-anchor="end">1</text>
<text class="tl" x="62.4" y="625.2" text-anchor="middle">0</text>
<text class="tl" x="192.7" y="625.2" text-anchor="middle">5</text>
<text class="tl" x="322.9" y="625.2" text-anchor="middle">10</text>
<text class="lb" x="192.7" y="656.9" text-anchor="middle">Time (s)</text>
<text class="yl" transform="translate(27.5,576.5) rotate(-90) scale(0.95,1)" text-anchor="middle">C2</text>
<rect class="box" x="62.4" y="680.0" width="260.5" height="46.6"/>
<path class="tk" d="M192.7 680.0v3.6M192.7 726.6v-3.6M62.4 703.3h3.6M322.9 703.3h-3.6"/>
<g clip-path="url(#k05)"><g transform="translate(62.4,680.0) scale(0.1)">
<path class="b" d="M0 0L3 12 5 46 8 100 10 167 13 240 16 313 18 378 21 428 23 458 26 466 29 449 31 411 34 354 36 285 39 211 42 139 44 77 47 30 49 4 52 2 55 23 57 65 60 125 63 195 65 269 68 340 70 400 73 443 76 464 78 462 81 436 83 390 86 328 89 256 91 182 94 113 96 56 99 17 102 1 104 7 107 37 109 87 112 151 115 224 117 298 120 365 122 419 125 454 128 466 130 455 133 421 135 368 138 301 141 227 143 154 146 89 148 39 151 8 154 0 156 16 159 54 162 111 164 179 167 253 169 326 172 388 175 435 177 461 180 464 182 444 185 402 188 343 190 272 193 198 195 127 198 67 201 24 203 2 206 4 208 29 211 75 214 136 216 208 219 282 221 352 224 409 227 448 229 465 232 459 234 430 237 380 240 316 242 243 245 169 247 102 250 48 253 13 255 0 258 11 260 44 263 97 266 164 268 237 271 311 274 376 276 427 279 458 281 466 284 450 287 413 289 357 292 288 294 214 297 142 300 79 302 32 305 5 307 1 310 22 313 63 315 122 318 192 320 267 323 337 326 398 328 441 331 464 333 462 336 438 339 392 341 331 344 259 346 185 349 116 352 58 354 19 357 1 359 7 362 35 365 84 367 149 370 221 373 295 375 363 378 417 380 453 383 466 386 455 388 422 391 370 393 304 396 230 399 157 401 91 404 40 406 9 409 0 412 15 414 53 417 108 419 176 422 251 425 323 427 386 430 434 432 461 435 465 438 445 440 404 443 345 445 275 448 201 451 130 453 69 456 25 458 3 461 3 464 27 466 72 469 134 472 205 474 280 477 349 479 407 482 447 485 465 487 460 490 431 492 383 495 319 498 246 500 172 503 104 505 50 508 14 511 0 513 10 516 43 518 95 521 161 524 234 526 308 529 373 531 425 534 457 537 466 539 451 542 414 544 359 547 291 550 217 552 145 555 81 557 33 560 6 563 1 565 20 568 61 570 119 573 189 576 264 578 335 581 396 584 440 586 463 589 463 591 439 594 395 597 334 599 262 602 188 604 118 607 60 610 20 612 1 615 6 617 34 620 82 623 146 625 218 628 292 630 360 633 415 636 452 638 466 641 456 643 424 646 372 649 306 651 233 654 160 656 94 659 42 662 10 664 0 667 14 669 51 672 106 675 174 677 248 680 320 683 384 685 432 688 460 690 465 693 446 696 406 698 348 701 278 703 204 706 132 709 71 711 27 714 3 716 3 719 26 722 70 724 131 727 202 729 277 732 347 735 405 737 446 740 465 742 460 745 433 748 385 750 321 753 249 755 175 758 107 761 52 763 15 766 0 768 9 771 41 774 93 776 158 779 232 781 305 784 371 787 423 789 456 792 466 795 452 797 416 800 362 802 294 805 220 808 147 810 83 813 35 815 6 818 1 821 19 823 59 826 117 828 186 831 261 834 332 836 394 839 439 841 463 844 463 847 441 849 397 852 336 854 265 857 191 860 121 862 62 865 21 867 1 870 5 873 32 875 80 878 143 880 215 883 290 886 358 888 413 891 451 894 466 896 457 899 426 901 375 904 309 907 236 909 162 912 96 914 44 917 11 920 0 922 13 925 49 927 103 930 171 933 245 935 317 938 382 940 431 943 459 946 465 948 447 951 408 953 350 956 281 959 207 961 135 964 74 966 28 969 4 972 2 974 25 977 68 979 129 982 199 985 274 987 344 990 403 993 444 995 465 998 461 1000 434 1003 387 1006 324 1008 252 1011 178 1013 109 1016 53 1019 16 1021 0 1024 8 1026 39 1029 90 1032 155 1034 229 1037 302 1039 369 1042 422 1045 455 1047 466 1050 453 1052 418 1055 364 1058 297 1060 223 1063 150 1065 86 1068 36 1071 7 1073 1 1076 18 1078 57 1081 114 1084 184 1086 258 1089 330 1091 391 1094 437 1097 462 1099 464 1102 442 1105 399 1107 339 1110 268 1112 194 1115 123 1118 64 1120 22 1123 2 1125 5 1128 31 1131 78 1133 140 1136 213 1138 287 1141 355 1144 412 1146 450 1149 466 1151 458 1154 427 1157 377 1159 312 1162 239 1164 165 1167 98 1170 45 1172 11 1175 0 1177 12 1180 47 1183 101 1185 168 1188 242 1190 315 1193 379 1196 429 1198 459 1201 465 1204 449 1206 410 1209 353 1211 284 1214 210 1217 138 1219 76 1222 30 1224 4 1227 2 1230 23 1232 66 1235 126 1237 197 1240 271 1243 341 1245 401 1248 443 1250 464 1253 462 1256 436 1258 389 1261 327 1263 255 1266 181 1269 112 1271 55 1274 17 1276 0 1279 8 1282 38 1284 88 1287 153 1289 226 1292 299 1295 366 1297 420 1300 454 1302 466 1305 454 1308 420 1310 366 1313 299 1316 226 1318 153 1321 88 1323 38 1326 8 1329 0 1331 17 1334 55 1336 112 1339 181 1342 255 1344 327 1347 389 1349 436 1352 462 1355 464 1357 443 1360 401 1362 341 1365 271 1368 197 1370 126 1373 66 1375 23 1378 2 1381 4 1383 30 1386 76 1388 138 1391 210 1394 284 1396 353 1399 410 1401 449 1404 465 1407 459 1409 429 1412 379 1415 315 1417 242 1420 168 1422 101 1425 47 1428 12 1430 0 1433 11 1435 45 1438 98 1441 165 1443 239 1446 312 1448 377 1451 427 1454 458 1456 466 1459 450 1461 412 1464 355 1467 287 1469 213 1472 140 1474 78 1477 31 1480 5 1482 2 1485 22 1487 64 1490 123 1493 194 1495 268 1498 339 1500 399 1503 442 1506 464 1508 462 1511 437 1514 391 1516 330 1519 258 1521 184 1524 114 1527 57 1529 18 1532 1 1534 7 1537 36 1540 86 1542 150 1545 223 1547 297 1550 364 1553 418 1555 453 1558 466 1560 455 1563 422 1566 369 1568 302 1571 229 1573 155 1576 90 1579 39 1581 8 1584 0 1586 16 1589 53 1592 109 1594 178 1597 252 1599 324 1602 387 1605 434 1607 461 1610 465 1612 444 1615 403 1618 344 1620 274 1623 199 1626 129 1628 68 1631 25 1633 2 1636 4 1639 28 1641 74 1644 135 1646 207 1649 281 1652 350 1654 408 1657 447 1659 465 1662 459 1665 431 1667 382 1670 317 1672 245 1675 171 1678 103 1680 49 1683 13 1685 0 1688 11 1691 44 1693 96 1696 162 1698 236 1701 309 1704 375 1706 426 1709 457 1711 466 1714 451 1717 413 1719 358 1722 290 1725 215 1727 143 1730 80 1732 32 1735 5 1738 1 1740 21 1743 62 1745 121 1748 191 1751 265 1753 336 1756 397 1758 441 1761 463 1764 463 1766 439 1769 394 1771 332 1774 261 1777 186 1779 117 1782 59 1784 19 1787 1 1790 6 1792 35 1795 83 1797 147 1800 220 1803 294 1805 362 1808 416 1810 452 1813 466 1816 456 1818 423 1821 371 1824 305 1826 232 1829 158 1831 93 1834 41 1837 9 1839 0 1842 15 1844 52 1847 107 1850 175 1852 249 1855 321 1857 385 1860 433 1863 460 1865 465 1868 446 1870 405 1873 347 1876 277 1878 202 1881 131 1883 70 1886 26 1889 3 1891 3 1894 27 1896 71 1899 132 1902 204 1904 278 1907 348 1909 406 1912 446 1915 465 1917 460 1920 432 1922 384 1925 320 1928 248 1930 174 1933 106 1936 51 1938 14 1941 0 1943 10 1946 42 1949 94 1951 160 1954 233 1956 306 1959 372 1962 424 1964 456 1967 466 1969 452 1972 415 1975 360 1977 292 1980 218 1982 146 1985 82 1988 34 1990 6 1993 1 1995 20 1998 60 2001 118 2003 188 2006 262 2008 334 2011 395 2014 439 2016 463 2019 463 2021 440 2024 396 2027 335 2029 264 2032 189 2035 119 2037 61 2040 20 2042 1 2045 6 2048 33 2050 81 2053 145 2055 217 2058 291 2061 359 2063 414 2066 451 2068 466 2071 457 2074 425 2076 373 2079 308 2081 234 2084 161 2087 95 2089 43 2092 10 2094 0 2097 14 2100 50 2102 104 2105 172 2107 246 2110 319 2113 383 2115 431 2118 460 2120 465 2123 447 2126 407 2128 349 2131 280 2133 205 2136 134 2139 72 2141 27 2144 3 2147 3 2149 25 2152 69 2154 130 2157 201 2160 275 2162 345 2165 404 2167 445 2170 465 2173 461 2175 434 2178 386 2180 323 2183 251 2186 176 2188 108 2191 53 2193 15 2196 0 2199 9 2201 40 2204 91 2206 157 2209 230 2212 304 2214 370 2217 422 2219 455 2222 466 2225 453 2227 417 2230 363 2232 295 2235 221 2238 149 2240 84 2243 35 2246 7 2248 1 2251 19 2253 58 2256 116 2259 185 2261 259 2264 331 2266 392 2269 438 2272 462 2274 464 2277 441 2279 398 2282 337 2285 267 2287 192 2290 122 2292 63 2295 22 2298 1 2300 5 2303 32 2305 79 2308 142 2311 214 2313 288 2316 357 2318 413 2321 450 2324 466 2326 458 2329 427 2331 376 2334 311 2337 237 2339 164 2342 97 2344 44 2347 11 2350 0 2352 13 2355 48 2358 102 2360 169 2363 243 2365 316 2368 380 2371 430 2373 459 2376 465 2378 448 2381 409 2384 352 2386 282 2389 208 2391 136 2394 75 2397 29 2399 4 2402 2 2404 24 2407 67 2410 127 2412 198 2415 272 2417 343 2420 402 2423 444 2425 464 2428 461 2430 435 2433 388 2436 326 2438 253 2441 179 2443 111 2446 54 2449 16 2451 0 2454 8 2457 39 2459 89 2462 154 2464 227 2467 301 2470 368 2472 421 2475 455 2477 466 2480 454 2483 419 2485 365 2488 298 2490 224 2493 151 2496 87 2498 37 2501 7 2503 1 2506 17 2509 56 2511 113 2514 182 2516 256 2519 328 2522 390 2524 436 2527 462 2529 464 2532 443 2535 400 2537 340 2540 269 2542 195 2545 125 2548 65 2550 23 2553 2 2556 4 2558 30 2561 77 2563 139 2566 211 2569 285 2571 354 2574 411 2576 449 2579 466 2582 458 2584 428 2587 378 2589 313 2592 240 2595 167 2597 100 2600 46 2602 12 2605 0"/>
<path class="rd" stroke-dasharray="111.39 111.39" stroke-dashoffset="4.98" d="M0 0L3 12 5 46 8 100 10 167 13 240 16 313 18 378 21 428 23 458 26 466 29 449 31 411 34 354 36 285 39 211 42 139 44 77 47 30 49 4 52 2 55 23 57 65 60 125 63 195 65 269 68 340 70 400 73 443 76 464 78 462 81 436 83 390 86 328 89 256 91 182 94 113 96 56 99 17 102 1 104 7 107 37 109 87 112 151 115 224 117 298 120 365 122 419 125 454 128 466 130 455 133 421 135 368 138 301 141 227 143 154 146 89 148 39 151 8 154 0 156 16 159 54 162 111 164 179 167 253 169 326 172 388 175 435 177 461 180 464 182 444 185 402 188 343 190 272 193 198 195 127 198 67 201 24 203 2 206 4 208 29 211 75 214 136 216 208 219 282 221 352 224 409 227 448 229 465 232 459 234 430 237 380 240 316 242 243 245 169 247 102 250 48 253 13 255 0 258 11 260 44 263 97 266 164 268 237 271 311 274 376 276 427 279 458 281 466 284 450 287 413 289 357 292 288 294 214 297 142 300 79 302 32 305 5 307 1 310 22 313 63 315 122 318 192 320 267 323 337 326 398 328 441 331 464 333 462 336 438 339 392 341 331 344 259 346 185 349 116 352 58 354 19 357 1 359 7 362 35 365 84 367 149 370 221 373 295 375 363 378 417 380 453 383 466 386 455 388 422 391 370 393 304 396 230 399 157 401 91 404 40 406 9 409 0 412 15 414 53 417 108 419 176 422 251 425 323 427 386 430 434 432 461 435 465 438 445 440 404 443 345 445 275 448 201 451 130 453 69 456 25 458 3 461 3 464 27 466 72 469 134 472 205 474 280 477 349 479 407 482 447 485 465 487 460 490 431 492 383 495 319 498 246 500 172 503 104 505 50 508 14 511 0 513 10 516 43 518 95 521 161 524 234 526 308 529 373 531 425 534 457 537 466 539 451 542 414 544 359 547 291 550 217 552 145 555 81 557 33 560 6 563 1 565 20 568 61 570 119 573 189 576 264 578 335 581 396 584 440 586 463 589 463 591 439 594 395 597 334 599 262 602 188 604 118 607 60 610 20 612 1 615 6 617 34 620 82 623 146 625 218 628 292 630 360 633 415 636 452 638 466 641 456 643 424 646 372 649 306 651 233 654 160 656 94 659 42 662 10 664 0 667 14 669 51 672 106 675 174 677 248 680 320 683 384 685 432 688 460 690 465 693 446 696 406 698 348 701 278 703 204 706 132 709 71 711 27 714 3 716 3 719 26 722 70 724 131 727 202 729 277 732 347 735 405 737 446 740 465 742 460 745 433 748 385 750 321 753 249 755 175 758 107 761 52 763 15 766 0 768 9 771 41 774 93 776 158 779 232 781 305 784 371 787 423 789 456 792 466 795 452 797 416 800 362 802 294 805 220 808 147 810 83 813 35 815 6 818 1 821 19 823 59 826 117 828 186 831 261 834 332 836 394 839 439 841 463 844 463 847 441 849 397 852 336 854 265 857 191 860 121 862 62 865 21 867 1 870 5 873 32 875 80 878 143 880 215 883 290 886 358 888 413 891 451 894 466 896 457 899 426 901 375 904 309 907 236 909 162 912 96 914 44 917 11 920 0 922 13 925 49 927 103 930 171 933 245 935 317 938 382 940 431 943 459 946 465 948 447 951 408 953 350 956 281 959 207 961 135 964 74 966 28 969 4 972 2 974 25 977 68 979 129 982 199 985 274 987 344 990 403 993 444 995 465 998 461 1000 434 1003 387 1006 324 1008 252 1011 178 1013 109 1016 53 1019 16 1021 0 1024 8 1026 39 1029 90 1032 155 1034 229 1037 302 1039 369 1042 422 1045 455 1047 466 1050 453 1052 418 1055 364 1058 297 1060 223 1063 150 1065 86 1068 36 1071 7 1073 1 1076 18 1078 57 1081 114 1084 184 1086 258 1089 330 1091 391 1094 437 1097 462 1099 464 1102 442 1105 399 1107 339 1110 268 1112 194 1115 123 1118 64 1120 22 1123 2 1125 5 1128 31 1131 78 1133 140 1136 213 1138 287 1141 355 1144 412 1146 450 1149 466 1151 458 1154 427 1157 377 1159 312 1162 239 1164 165 1167 98 1170 45 1172 11 1175 0 1177 12 1180 47 1183 101 1185 168 1188 242 1190 315 1193 379 1196 429 1198 459 1201 465 1204 449 1206 410 1209 353 1211 284 1214 210 1217 138 1219 76 1222 30 1224 4 1227 2 1230 23 1232 66 1235 126 1237 197 1240 271 1243 341 1245 401 1248 443 1250 464 1253 462 1256 436 1258 389 1261 327 1263 255 1266 181 1269 112 1271 55 1274 17 1276 0 1279 8 1282 38 1284 88 1287 153 1289 226 1292 299 1295 366 1297 420 1300 454 1302 466 1305 454 1308 420 1310 366 1313 299 1316 226 1318 153 1321 88 1323 38 1326 8 1329 0 1331 17 1334 55 1336 112 1339 181 1342 255 1344 327 1347 389 1349 436 1352 462 1355 464 1357 443 1360 401 1362 341 1365 271 1368 197 1370 126 1373 66 1375 23 1378 2 1381 4 1383 30 1386 76 1388 138 1391 210 1394 284 1396 353 1399 410 1401 449 1404 465 1407 459 1409 429 1412 379 1415 315 1417 242 1420 168 1422 101 1425 47 1428 12 1430 0 1433 11 1435 45 1438 98 1441 165 1443 239 1446 312 1448 377 1451 427 1454 458 1456 466 1459 450 1461 412 1464 355 1467 287 1469 213 1472 140 1474 78 1477 31 1480 5 1482 2 1485 22 1487 64 1490 123 1493 194 1495 268 1498 339 1500 399 1503 442 1506 464 1508 462 1511 437 1514 391 1516 330 1519 258 1521 184 1524 114 1527 57 1529 18 1532 1 1534 7 1537 36 1540 86 1542 150 1545 223 1547 297 1550 364 1553 418 1555 453 1558 466 1560 455 1563 422 1566 369 1568 302 1571 229 1573 155 1576 90 1579 39 1581 8 1584 0 1586 16 1589 53 1592 109 1594 178 1597 252 1599 324 1602 387 1605 434 1607 461 1610 465 1612 444 1615 403 1618 344 1620 274 1623 199 1626 129 1628 68 1631 25 1633 2 1636 4 1639 28 1641 74 1644 135 1646 207 1649 281 1652 350 1654 408 1657 447 1659 465 1662 459 1665 431 1667 382 1670 317 1672 245 1675 171 1678 103 1680 49 1683 13 1685 0 1688 11 1691 44 1693 96 1696 162 1698 236 1701 309 1704 375 1706 426 1709 457 1711 466 1714 451 1717 413 1719 358 1722 290 1725 215 1727 143 1730 80 1732 32 1735 5 1738 1 1740 21 1743 62 1745 121 1748 191 1751 265 1753 336 1756 397 1758 441 1761 463 1764 463 1766 439 1769 394 1771 332 1774 261 1777 186 1779 117 1782 59 1784 19 1787 1 1790 6 1792 35 1795 83 1797 147 1800 220 1803 294 1805 362 1808 416 1810 452 1813 466 1816 456 1818 423 1821 371 1824 305 1826 232 1829 158 1831 93 1834 41 1837 9 1839 0 1842 15 1844 52 1847 107 1850 175 1852 249 1855 321 1857 385 1860 433 1863 460 1865 465 1868 446 1870 405 1873 347 1876 277 1878 202 1881 131 1883 70 1886 26 1889 3 1891 3 1894 27 1896 71 1899 132 1902 204 1904 278 1907 348 1909 406 1912 446 1915 465 1917 460 1920 432 1922 384 1925 320 1928 248 1930 174 1933 106 1936 51 1938 14 1941 0 1943 10 1946 42 1949 94 1951 160 1954 233 1956 306 1959 372 1962 424 1964 456 1967 466 1969 452 1972 415 1975 360 1977 292 1980 218 1982 146 1985 82 1988 34 1990 6 1993 1 1995 20 1998 60 2001 118 2003 188 2006 262 2008 334 2011 395 2014 439 2016 463 2019 463 2021 440 2024 396 2027 335 2029 264 2032 189 2035 119 2037 61 2040 20 2042 1 2045 6 2048 33 2050 81 2053 145 2055 217 2058 291 2061 359 2063 414 2066 451 2068 466 2071 457 2074 425 2076 373 2079 308 2081 234 2084 161 2087 95 2089 43 2092 10 2094 0 2097 14 2100 50 2102 104 2105 172 2107 246 2110 319 2113 383 2115 431 2118 460 2120 465 2123 447 2126 407 2128 349 2131 280 2133 205 2136 134 2139 72 2141 27 2144 3 2147 3 2149 25 2152 69 2154 130 2157 201 2160 275 2162 345 2165 404 2167 445 2170 465 2173 461 2175 434 2178 386 2180 323 2183 251 2186 176 2188 108 2191 53 2193 15 2196 0 2199 9 2201 40 2204 91 2206 157 2209 230 2212 304 2214 370 2217 422 2219 455 2222 466 2225 453 2227 417 2230 363 2232 295 2235 221 2238 149 2240 84 2243 35 2246 7 2248 1 2251 19 2253 58 2256 116 2259 185 2261 259 2264 331 2266 392 2269 438 2272 462 2274 464 2277 441 2279 398 2282 337 2285 267 2287 192 2290 122 2292 63 2295 22 2298 1 2300 5 2303 32 2305 79 2308 142 2311 214 2313 288 2316 357 2318 413 2321 450 2324 466 2326 458 2329 427 2331 376 2334 311 2337 237 2339 164 2342 97 2344 44 2347 11 2350 0 2352 13 2355 48 2358 102 2360 169 2363 243 2365 316 2368 380 2371 430 2373 459 2376 465 2378 448 2381 409 2384 352 2386 282 2389 208 2391 136 2394 75 2397 29 2399 4 2402 2 2404 24 2407 67 2410 127 2412 198 2415 272 2417 343 2420 402 2423 444 2425 464 2428 461 2430 435 2433 388 2436 326 2438 253 2441 179 2443 111 2446 54 2449 16 2451 0 2454 8 2457 39 2459 89 2462 154 2464 227 2467 301 2470 368 2472 421 2475 455 2477 466 2480 454 2483 419 2485 365 2488 298 2490 224 2493 151 2496 87 2498 37 2501 7 2503 1 2506 17 2509 56 2511 113 2514 182 2516 256 2519 328 2522 390 2524 436 2527 462 2529 464 2532 443 2535 400 2537 340 2540 269 2542 195 2545 125 2548 65 2550 23 2553 2 2556 4 2558 30 2561 77 2563 139 2566 211 2569 285 2571 354 2574 411 2576 449 2579 466 2582 458 2584 428 2587 378 2589 313 2592 240 2595 167 2597 100 2600 46 2602 12 2605 0"/>
</g></g>
<text class="tl" x="57.8" y="736.8" text-anchor="end">-1</text>
<text class="tl" x="57.8" y="713.5" text-anchor="end">0</text>
<text class="tl" x="57.8" y="690.2" text-anchor="end">1</text>
<text class="tl" x="62.4" y="755.7" text-anchor="middle">0</text>
<text class="tl" x="192.7" y="755.7" text-anchor="middle">5</text>
<text class="tl" x="322.9" y="755.7" text-anchor="middle">10</text>
<text class="lb" x="192.7" y="787.4" text-anchor="middle">Time (s)</text>
<text class="yl" transform="translate(27.5,707.0) rotate(-90) scale(0.95,1)" text-anchor="middle">C3</text>
<text x="345.0" y="22.7" class="pl">(b)</text>
<rect class="box" x="405.6" y="27.5" width="260.5" height="46.6"/>
<path class="tk" d="M535.9 27.5v3.6M535.9 74.1v-3.6M405.6 50.8h3.6M666.1 50.8h-3.6"/>
<g clip-path="url(#k10)"><g transform="translate(405.6,27.5) scale(0.1)">
<path class="b" d="M0 0L10 9 21 35 31 76 42 129 52 189 63 253 73 316 83 372 94 418 104 450 115 465 125 462 135 443 146 407 156 358 167 299 177 236 188 172 198 113 208 63 219 26 229 5 240 1 250 14 260 44 271 89 281 145 292 207 302 271 313 332 323 386 333 428 344 455 354 466 365 459 375 434 386 395 396 343 406 282 417 218 427 155 438 98 448 52 458 19 469 2 479 3 490 21 500 55 511 103 521 161 531 224 542 288 552 348 563 399 573 437 584 460 594 466 604 454 615 425 625 382 636 327 646 265 656 201 667 139 677 84 688 41 698 12 709 0 719 6 729 29 740 67 750 118 761 178 771 242 781 305 792 363 802 411 813 445 823 463 834 464 844 447 854 414 865 368 875 311 886 248 896 184 907 123 917 71 927 32 938 7 948 0 959 11 969 38 979 80 990 134 1000 195 1011 259 1021 321 1032 377 1042 422 1052 452 1063 465 1073 461 1084 440 1094 403 1105 353 1115 294 1125 230 1136 167 1146 108 1157 59 1167 23 1177 4 1188 1 1198 16 1209 48 1219 94 1230 150 1240 213 1250 277 1261 337 1271 390 1282 431 1292 457 1302 466 1313 457 1323 431 1334 390 1344 337 1355 277 1365 213 1375 150 1386 94 1396 48 1407 16 1417 1 1428 4 1438 23 1448 59 1459 108 1469 167 1480 230 1490 294 1500 353 1511 403 1521 440 1532 461 1542 465 1553 452 1563 422 1573 377 1584 321 1594 259 1605 195 1615 134 1626 80 1636 38 1646 11 1657 0 1667 7 1678 32 1688 71 1698 123 1709 184 1719 248 1730 311 1740 368 1751 414 1761 447 1771 464 1782 463 1792 445 1803 411 1813 363 1824 305 1834 242 1844 178 1855 118 1865 67 1876 29 1886 6 1896 0 1907 12 1917 41 1928 84 1938 139 1949 201 1959 265 1969 327 1980 382 1990 425 2001 454 2011 466 2021 460 2032 437 2042 399 2053 348 2063 288 2074 224 2084 161 2094 103 2105 55 2115 21 2126 3 2136 2 2147 19 2157 52 2167 98 2178 155 2188 218 2199 282 2209 343 2219 395 2230 434 2240 459 2251 466 2261 455 2272 428 2282 386 2292 332 2303 271 2313 207 2324 145 2334 89 2344 44 2355 14 2365 1 2376 5 2386 26 2397 63 2407 113 2417 172 2428 236 2438 299 2449 358 2459 407 2470 443 2480 462 2490 465 2501 450 2511 418 2522 372 2532 316 2542 253 2553 189 2563 129 2574 76 2584 35 2595 9 2605 0"/>
<path class="rd" stroke-dasharray="111.66 111.66" stroke-dashoffset="4.98" d="M0 0L10 9 21 35 31 76 42 129 52 189 63 253 73 316 83 372 94 418 104 450 115 465 125 462 135 443 146 407 156 358 167 299 177 236 188 172 198 113 208 63 219 26 229 5 240 1 250 14 260 44 271 89 281 145 292 207 302 271 313 332 323 386 333 428 344 455 354 466 365 459 375 434 386 395 396 343 406 282 417 218 427 155 438 98 448 52 458 19 469 2 479 3 490 21 500 55 511 103 521 161 531 224 542 288 552 348 563 399 573 437 584 460 594 466 604 454 615 425 625 382 636 327 646 265 656 201 667 139 677 84 688 41 698 12 709 0 719 6 729 29 740 67 750 118 761 178 771 242 781 305 792 363 802 411 813 445 823 463 834 464 844 447 854 414 865 368 875 311 886 248 896 184 907 123 917 71 927 32 938 7 948 0 959 11 969 38 979 80 990 134 1000 195 1011 259 1021 321 1032 377 1042 422 1052 452 1063 465 1073 461 1084 440 1094 403 1105 353 1115 294 1125 230 1136 167 1146 108 1157 59 1167 23 1177 4 1188 1 1198 16 1209 48 1219 94 1230 150 1240 213 1250 277 1261 337 1271 390 1282 431 1292 457 1302 466 1313 457 1323 431 1334 390 1344 337 1355 277 1365 213 1375 150 1386 94 1396 48 1407 16 1417 1 1428 4 1438 23 1448 59 1459 108 1469 167 1480 230 1490 294 1500 353 1511 403 1521 440 1532 461 1542 465 1553 452 1563 422 1573 377 1584 321 1594 259 1605 195 1615 134 1626 80 1636 38 1646 11 1657 0 1667 7 1678 32 1688 71 1698 123 1709 184 1719 248 1730 311 1740 368 1751 414 1761 447 1771 464 1782 463 1792 445 1803 411 1813 363 1824 305 1834 242 1844 178 1855 118 1865 67 1876 29 1886 6 1896 0 1907 12 1917 41 1928 84 1938 139 1949 201 1959 265 1969 327 1980 382 1990 425 2001 454 2011 466 2021 460 2032 437 2042 399 2053 348 2063 288 2074 224 2084 161 2094 103 2105 55 2115 21 2126 3 2136 2 2147 19 2157 52 2167 98 2178 155 2188 218 2199 282 2209 343 2219 395 2230 434 2240 459 2251 466 2261 455 2272 428 2282 386 2292 332 2303 271 2313 207 2324 145 2334 89 2344 44 2355 14 2365 1 2376 5 2386 26 2397 63 2407 113 2417 172 2428 236 2438 299 2449 358 2459 407 2470 443 2480 462 2490 465 2501 450 2511 418 2522 372 2532 316 2542 253 2553 189 2563 129 2574 76 2584 35 2595 9 2605 0"/>
</g></g>
<text class="tl" x="401.0" y="84.3" text-anchor="end">-1</text>
<text class="tl" x="401.0" y="61.0" text-anchor="end">0</text>
<text class="tl" x="401.0" y="37.7" text-anchor="end">1</text>
<text class="tl" x="405.6" y="103.2" text-anchor="middle">0</text>
<text class="tl" x="535.9" y="103.2" text-anchor="middle">5</text>
<text class="tl" x="666.1" y="103.2" text-anchor="middle">10</text>
<text class="lb" x="535.9" y="134.9" text-anchor="middle">Time (s)</text>
<text class="yl" transform="translate(370.7,54.5) rotate(-90) scale(0.95,1)" text-anchor="middle">C1</text>
<rect class="box" x="405.6" y="158.0" width="260.5" height="46.6"/>
<path class="tk" d="M535.9 158.0v3.6M535.9 204.6v-3.6M405.6 181.3h3.6M666.1 181.3h-3.6"/>
<g clip-path="url(#k11)"><g transform="translate(405.6,158.0) scale(0.1)">
<path class="b" d="M0 0L4 11 8 42 12 91 16 152 20 222 24 292 28 357 33 410 37 447 41 465 45 461 49 436 53 393 57 335 61 267 65 197 69 129 73 72 77 29 81 4 85 1 90 20 94 57 98 111 102 176 106 247 110 316 114 377 118 425 122 456 126 466 130 455 134 423 138 374 142 311 147 242 151 172 155 107 159 54 163 18 167 1 171 5 175 31 179 75 183 133 187 201 191 272 195 339 199 396 204 438 208 462 212 464 216 446 220 407 224 353 228 287 232 217 236 148 240 87 244 39 248 9 252 0 256 12 260 44 265 94 269 157 273 226 277 296 281 361 285 413 289 449 293 465 297 460 301 434 305 389 309 331 313 263 317 192 322 125 326 68 330 26 334 4 338 2 342 21 346 60 350 115 354 181 358 251 362 320 366 381 370 428 374 457 379 466 383 453 387 420 391 370 395 307 399 238 403 168 407 104 411 51 415 16 419 1 423 6 427 33 431 78 436 138 440 206 444 276 448 343 452 399 456 441 460 463 464 464 468 444 472 404 476 349 480 283 484 212 488 144 493 83 497 37 501 8 505 0 509 14 513 47 517 98 521 161 525 231 529 301 533 364 537 416 541 451 545 466 549 459 554 432 558 386 562 326 566 258 570 188 574 121 578 65 582 24 586 3 590 3 594 23 598 63 602 119 606 185 611 256 615 324 619 384 623 430 627 458 631 466 635 452 639 417 643 366 647 303 651 233 655 163 659 100 663 49 668 14 672 0 676 8 680 36 684 82 688 142 692 210 696 281 700 347 704 403 708 443 712 463 716 463 720 442 725 401 729 345 733 278 737 208 741 140 745 80 749 34 753 7 757 0 761 15 765 50 769 102 773 165 777 235 781 305 786 368 790 419 794 452 798 466 802 458 806 429 810 383 814 322 818 254 822 183 826 117 830 62 834 22 838 2 843 3 847 25 851 67 855 123 859 190 863 260 867 328 871 388 875 433 879 460 883 465 887 450 891 415 895 362 900 298 904 228 908 159 912 96 916 46 920 13 924 0 928 9 932 38 936 85 940 146 944 215 948 285 952 351 957 406 961 445 965 464 969 462 973 440 977 398 981 341 985 274 989 203 993 135 997 77 1001 32 1005 6 1009 1 1014 17 1018 53 1022 105 1026 170 1030 240 1034 309 1038 372 1042 422 1046 454 1050 466 1054 457 1058 427 1062 379 1066 318 1070 249 1075 179 1079 113 1083 59 1087 20 1091 2 1095 4 1099 28 1103 70 1107 127 1111 194 1115 265 1119 333 1123 391 1127 435 1132 461 1136 465 1140 448 1144 412 1148 359 1152 294 1156 224 1160 155 1164 92 1168 43 1172 11 1176 0 1180 10 1184 41 1189 89 1193 150 1197 219 1201 290 1205 355 1209 409 1213 446 1217 465 1221 462 1225 437 1229 394 1233 337 1237 269 1241 199 1246 131 1250 73 1254 30 1258 5 1262 1 1266 19 1270 56 1274 109 1278 174 1282 244 1286 314 1290 375 1294 424 1298 455 1302 466 1307 455 1311 424 1315 375 1319 314 1323 244 1327 174 1331 109 1335 56 1339 19 1343 1 1347 5 1351 30 1355 73 1359 131 1364 199 1368 269 1372 337 1376 394 1380 437 1384 462 1388 465 1392 446 1396 409 1400 355 1404 290 1408 219 1412 150 1416 89 1421 41 1425 10 1429 0 1433 11 1437 43 1441 92 1445 155 1449 224 1453 294 1457 359 1461 412 1465 448 1469 465 1473 461 1478 435 1482 391 1486 333 1490 265 1494 194 1498 127 1502 70 1506 28 1510 4 1514 2 1518 20 1522 59 1526 113 1530 179 1535 249 1539 318 1543 379 1547 427 1551 457 1555 466 1559 454 1563 422 1567 372 1571 309 1575 240 1579 170 1583 105 1587 53 1591 17 1596 1 1600 6 1604 32 1608 77 1612 135 1616 203 1620 274 1624 341 1628 398 1632 440 1636 462 1640 464 1644 445 1648 406 1653 351 1657 285 1661 215 1665 146 1669 85 1673 38 1677 9 1681 0 1685 13 1689 46 1693 96 1697 159 1701 228 1705 298 1710 362 1714 415 1718 450 1722 465 1726 460 1730 433 1734 388 1738 328 1742 260 1746 190 1750 123 1754 67 1758 25 1762 3 1767 2 1771 22 1775 62 1779 117 1783 183 1787 254 1791 322 1795 383 1799 429 1803 458 1807 466 1811 452 1815 419 1819 368 1824 305 1828 235 1832 165 1836 102 1840 50 1844 15 1848 0 1852 7 1856 34 1860 80 1864 140 1868 208 1872 278 1876 345 1880 401 1885 442 1889 463 1893 463 1897 443 1901 403 1905 347 1909 281 1913 210 1917 142 1921 82 1925 36 1929 8 1933 0 1937 14 1942 49 1946 100 1950 163 1954 233 1958 303 1962 366 1966 417 1970 452 1974 466 1978 458 1982 430 1986 384 1990 324 1994 256 1999 185 2003 119 2007 63 2011 23 2015 3 2019 3 2023 24 2027 65 2031 121 2035 188 2039 258 2043 326 2047 386 2051 432 2056 459 2060 466 2064 451 2068 416 2072 364 2076 301 2080 231 2084 161 2088 98 2092 47 2096 14 2100 0 2104 8 2108 37 2112 83 2117 144 2121 212 2125 283 2129 349 2133 404 2137 444 2141 464 2145 463 2149 441 2153 399 2157 343 2161 276 2165 206 2169 138 2174 78 2178 33 2182 6 2186 1 2190 16 2194 51 2198 104 2202 168 2206 238 2210 307 2214 370 2218 420 2222 453 2226 466 2231 457 2235 428 2239 381 2243 320 2247 251 2251 181 2255 115 2259 60 2263 21 2267 2 2271 4 2275 26 2279 68 2283 125 2288 192 2292 263 2296 331 2300 389 2304 434 2308 460 2312 465 2316 449 2320 413 2324 361 2328 296 2332 226 2336 157 2340 94 2344 44 2349 12 2353 0 2357 9 2361 39 2365 87 2369 148 2373 217 2377 287 2381 353 2385 407 2389 446 2393 464 2397 462 2401 438 2406 396 2410 339 2414 272 2418 201 2422 133 2426 75 2430 31 2434 5 2438 1 2442 18 2446 54 2450 107 2454 172 2458 242 2463 311 2467 374 2471 423 2475 455 2479 466 2483 456 2487 425 2491 377 2495 316 2499 247 2503 176 2507 111 2511 57 2515 20 2520 1 2524 4 2528 29 2532 72 2536 129 2540 197 2544 267 2548 335 2552 393 2556 436 2560 461 2564 465 2568 447 2572 410 2577 357 2581 292 2585 222 2589 152 2593 91 2597 42 2601 11 2605 0"/>
<path class="rd" stroke-dasharray="111.58 111.58" stroke-dashoffset="4.98" d="M0 0L4 11 8 42 12 91 16 152 20 222 24 292 28 357 33 410 37 447 41 465 45 461 49 436 53 393 57 335 61 267 65 197 69 129 73 72 77 29 81 4 85 1 90 20 94 57 98 111 102 176 106 247 110 316 114 377 118 425 122 456 126 466 130 455 134 423 138 374 142 311 147 242 151 172 155 107 159 54 163 18 167 1 171 5 175 31 179 75 183 133 187 201 191 272 195 339 199 396 204 438 208 462 212 464 216 446 220 407 224 353 228 287 232 217 236 148 240 87 244 39 248 9 252 0 256 12 260 44 265 94 269 157 273 226 277 296 281 361 285 413 289 449 293 465 297 460 301 434 305 389 309 331 313 263 317 192 322 125 326 68 330 26 334 4 338 2 342 21 346 60 350 115 354 181 358 251 362 320 366 381 370 428 374 457 379 466 383 453 387 420 391 370 395 307 399 238 403 168 407 104 411 51 415 16 419 1 423 6 427 33 431 78 436 138 440 206 444 276 448 343 452 399 456 441 460 463 464 464 468 444 472 404 476 349 480 283 484 212 488 144 493 83 497 37 501 8 505 0 509 14 513 47 517 98 521 161 525 231 529 301 533 364 537 416 541 451 545 466 549 459 554 432 558 386 562 326 566 258 570 188 574 121 578 65 582 24 586 3 590 3 594 23 598 63 602 119 606 185 611 256 615 324 619 384 623 430 627 458 631 466 635 452 639 417 643 366 647 303 651 233 655 163 659 100 663 49 668 14 672 0 676 8 680 36 684 82 688 142 692 210 696 281 700 347 704 403 708 443 712 463 716 463 720 442 725 401 729 345 733 278 737 208 741 140 745 80 749 34 753 7 757 0 761 15 765 50 769 102 773 165 777 235 781 305 786 368 790 419 794 452 798 466 802 458 806 429 810 383 814 322 818 254 822 183 826 117 830 62 834 22 838 2 843 3 847 25 851 67 855 123 859 190 863 260 867 328 871 388 875 433 879 460 883 465 887 450 891 415 895 362 900 298 904 228 908 159 912 96 916 46 920 13 924 0 928 9 932 38 936 85 940 146 944 215 948 285 952 351 957 406 961 445 965 464 969 462 973 440 977 398 981 341 985 274 989 203 993 135 997 77 1001 32 1005 6 1009 1 1014 17 1018 53 1022 105 1026 170 1030 240 1034 309 1038 372 1042 422 1046 454 1050 466 1054 457 1058 427 1062 379 1066 318 1070 249 1075 179 1079 113 1083 59 1087 20 1091 2 1095 4 1099 28 1103 70 1107 127 1111 194 1115 265 1119 333 1123 391 1127 435 1132 461 1136 465 1140 448 1144 412 1148 359 1152 294 1156 224 1160 155 1164 92 1168 43 1172 11 1176 0 1180 10 1184 41 1189 89 1193 150 1197 219 1201 290 1205 355 1209 409 1213 446 1217 465 1221 462 1225 437 1229 394 1233 337 1237 269 1241 199 1246 131 1250 73 1254 30 1258 5 1262 1 1266 19 1270 56 1274 109 1278 174 1282 244 1286 314 1290 375 1294 424 1298 455 1302 466 1307 455 1311 424 1315 375 1319 314 1323 244 1327 174 1331 109 1335 56 1339 19 1343 1 1347 5 1351 30 1355 73 1359 131 1364 199 1368 269 1372 337 1376 394 1380 437 1384 462 1388 465 1392 446 1396 409 1400 355 1404 290 1408 219 1412 150 1416 89 1421 41 1425 10 1429 0 1433 11 1437 43 1441 92 1445 155 1449 224 1453 294 1457 359 1461 412 1465 448 1469 465 1473 461 1478 435 1482 391 1486 333 1490 265 1494 194 1498 127 1502 70 1506 28 1510 4 1514 2 1518 20 1522 59 1526 113 1530 179 1535 249 1539 318 1543 379 1547 427 1551 457 1555 466 1559 454 1563 422 1567 372 1571 309 1575 240 1579 170 1583 105 1587 53 1591 17 1596 1 1600 6 1604 32 1608 77 1612 135 1616 203 1620 274 1624 341 1628 398 1632 440 1636 462 1640 464 1644 445 1648 406 1653 351 1657 285 1661 215 1665 146 1669 85 1673 38 1677 9 1681 0 1685 13 1689 46 1693 96 1697 159 1701 228 1705 298 1710 362 1714 415 1718 450 1722 465 1726 460 1730 433 1734 388 1738 328 1742 260 1746 190 1750 123 1754 67 1758 25 1762 3 1767 2 1771 22 1775 62 1779 117 1783 183 1787 254 1791 322 1795 383 1799 429 1803 458 1807 466 1811 452 1815 419 1819 368 1824 305 1828 235 1832 165 1836 102 1840 50 1844 15 1848 0 1852 7 1856 34 1860 80 1864 140 1868 208 1872 278 1876 345 1880 401 1885 442 1889 463 1893 463 1897 443 1901 403 1905 347 1909 281 1913 210 1917 142 1921 82 1925 36 1929 8 1933 0 1937 14 1942 49 1946 100 1950 163 1954 233 1958 303 1962 366 1966 417 1970 452 1974 466 1978 458 1982 430 1986 384 1990 324 1994 256 1999 185 2003 119 2007 63 2011 23 2015 3 2019 3 2023 24 2027 65 2031 121 2035 188 2039 258 2043 326 2047 386 2051 432 2056 459 2060 466 2064 451 2068 416 2072 364 2076 301 2080 231 2084 161 2088 98 2092 47 2096 14 2100 0 2104 8 2108 37 2112 83 2117 144 2121 212 2125 283 2129 349 2133 404 2137 444 2141 464 2145 463 2149 441 2153 399 2157 343 2161 276 2165 206 2169 138 2174 78 2178 33 2182 6 2186 1 2190 16 2194 51 2198 104 2202 168 2206 238 2210 307 2214 370 2218 420 2222 453 2226 466 2231 457 2235 428 2239 381 2243 320 2247 251 2251 181 2255 115 2259 60 2263 21 2267 2 2271 4 2275 26 2279 68 2283 125 2288 192 2292 263 2296 331 2300 389 2304 434 2308 460 2312 465 2316 449 2320 413 2324 361 2328 296 2332 226 2336 157 2340 94 2344 44 2349 12 2353 0 2357 9 2361 39 2365 87 2369 148 2373 217 2377 287 2381 353 2385 407 2389 446 2393 464 2397 462 2401 438 2406 396 2410 339 2414 272 2418 201 2422 133 2426 75 2430 31 2434 5 2438 1 2442 18 2446 54 2450 107 2454 172 2458 242 2463 311 2467 374 2471 423 2475 455 2479 466 2483 456 2487 425 2491 377 2495 316 2499 247 2503 176 2507 111 2511 57 2515 20 2520 1 2524 4 2528 29 2532 72 2536 129 2540 197 2544 267 2548 335 2552 393 2556 436 2560 461 2564 465 2568 447 2572 410 2577 357 2581 292 2585 222 2589 152 2593 91 2597 42 2601 11 2605 0"/>
</g></g>
<text class="tl" x="401.0" y="214.8" text-anchor="end">-1</text>
<text class="tl" x="401.0" y="191.5" text-anchor="end">0</text>
<text class="tl" x="401.0" y="168.2" text-anchor="end">1</text>
<text class="tl" x="405.6" y="233.7" text-anchor="middle">0</text>
<text class="tl" x="535.9" y="233.7" text-anchor="middle">5</text>
<text class="tl" x="666.1" y="233.7" text-anchor="middle">10</text>
<text class="lb" x="535.9" y="265.4" text-anchor="middle">Time (s)</text>
<text class="yl" transform="translate(370.7,185.0) rotate(-90) scale(0.95,1)" text-anchor="middle">C2</text>
<rect class="box" x="405.6" y="288.5" width="260.5" height="46.6"/>
<path class="tk" d="M535.9 288.5v3.6M535.9 335.1v-3.6M405.6 311.8h3.6M666.1 311.8h-3.6"/>
<g clip-path="url(#k12)"><g transform="translate(405.6,288.5) scale(0.1)">
<path class="b" d="M0 0L3 12 5 46 8 100 10 167 13 240 16 313 18 378 21 428 23 458 26 466 29 449 31 411 34 354 36 285 39 211 42 139 44 77 47 30 49 4 52 2 55 23 57 65 60 125 63 195 65 269 68 340 70 400 73 443 76 464 78 462 81 436 83 390 86 328 89 256 91 182 94 113 96 56 99 17 102 1 104 7 107 37 109 87 112 151 115 224 117 298 120 365 122 419 125 454 128 466 130 455 133 421 135 368 138 301 141 227 143 154 146 89 148 39 151 8 154 0 156 16 159 54 162 111 164 179 167 253 169 326 172 388 175 435 177 461 180 464 182 444 185 402 188 343 190 272 193 198 195 127 198 67 201 24 203 2 206 4 208 29 211 75 214 136 216 208 219 282 221 352 224 409 227 448 229 465 232 459 234 430 237 380 240 316 242 243 245 169 247 102 250 48 253 13 255 0 258 11 260 44 263 97 266 164 268 237 271 311 274 376 276 427 279 458 281 466 284 450 287 413 289 357 292 288 294 214 297 142 300 79 302 32 305 5 307 1 310 22 313 63 315 122 318 192 320 267 323 337 326 398 328 441 331 464 333 462 336 438 339 392 341 331 344 259 346 185 349 116 352 58 354 19 357 1 359 7 362 35 365 84 367 149 370 221 373 295 375 363 378 417 380 453 383 466 386 455 388 422 391 370 393 304 396 230 399 157 401 91 404 40 406 9 409 0 412 15 414 53 417 108 419 176 422 251 425 323 427 386 430 434 432 461 435 465 438 445 440 404 443 345 445 275 448 201 451 130 453 69 456 25 458 3 461 3 464 27 466 72 469 134 472 205 474 280 477 349 479 407 482 447 485 465 487 460 490 431 492 383 495 319 498 246 500 172 503 104 505 50 508 14 511 0 513 10 516 43 518 95 521 161 524 234 526 308 529 373 531 425 534 457 537 466 539 451 542 414 544 359 547 291 550 217 552 145 555 81 557 33 560 6 563 1 565 20 568 61 570 119 573 189 576 264 578 335 581 396 584 440 586 463 589 463 591 439 594 395 597 334 599 262 602 188 604 118 607 60 610 20 612 1 615 6 617 34 620 82 623 146 625 218 628 292 630 360 633 415 636 452 638 466 641 456 643 424 646 372 649 306 651 233 654 160 656 94 659 42 662 10 664 0 667 14 669 51 672 106 675 174 677 248 680 320 683 384 685 432 688 460 690 465 693 446 696 406 698 348 701 278 703 204 706 132 709 71 711 27 714 3 716 3 719 26 722 70 724 131 727 202 729 277 732 347 735 405 737 446 740 465 742 460 745 433 748 385 750 321 753 249 755 175 758 107 761 52 763 15 766 0 768 9 771 41 774 93 776 158 779 232 781 305 784 371 787 423 789 456 792 466 795 452 797 416 800 362 802 294 805 220 808 147 810 83 813 35 815 6 818 1 821 19 823 59 826 117 828 186 831 261 834 332 836 394 839 439 841 463 844 463 847 441 849 397 852 336 854 265 857 191 860 121 862 62 865 21 867 1 870 5 873 32 875 80 878 143 880 215 883 290 886 358 888 413 891 451 894 466 896 457 899 426 901 375 904 309 907 236 909 162 912 96 914 44 917 11 920 0 922 13 925 49 927 103 930 171 933 245 935 317 938 382 940 431 943 459 946 465 948 447 951 408 953 350 956 281 959 207 961 135 964 74 966 28 969 4 972 2 974 25 977 68 979 129 982 199 985 274 987 344 990 403 993 444 995 465 998 461 1000 434 1003 387 1006 324 1008 252 1011 178 1013 109 1016 53 1019 16 1021 0 1024 8 1026 39 1029 90 1032 155 1034 229 1037 302 1039 369 1042 422 1045 455 1047 466 1050 453 1052 418 1055 364 1058 297 1060 223 1063 150 1065 86 1068 36 1071 7 1073 1 1076 18 1078 57 1081 114 1084 184 1086 258 1089 330 1091 391 1094 437 1097 462 1099 464 1102 442 1105 399 1107 339 1110 268 1112 194 1115 123 1118 64 1120 22 1123 2 1125 5 1128 31 1131 78 1133 140 1136 213 1138 287 1141 355 1144 412 1146 450 1149 466 1151 458 1154 427 1157 377 1159 312 1162 239 1164 165 1167 98 1170 45 1172 11 1175 0 1177 12 1180 47 1183 101 1185 168 1188 242 1190 315 1193 379 1196 429 1198 459 1201 465 1204 449 1206 410 1209 353 1211 284 1214 210 1217 138 1219 76 1222 30 1224 4 1227 2 1230 23 1232 66 1235 126 1237 197 1240 271 1243 341 1245 401 1248 443 1250 464 1253 462 1256 436 1258 389 1261 327 1263 255 1266 181 1269 112 1271 55 1274 17 1276 0 1279 8 1282 38 1284 88 1287 153 1289 226 1292 299 1295 366 1297 420 1300 454 1302 466 1305 454 1308 420 1310 366 1313 299 1316 226 1318 153 1321 88 1323 38 1326 8 1329 0 1331 17 1334 55 1336 112 1339 181 1342 255 1344 327 1347 389 1349 436 1352 462 1355 464 1357 443 1360 401 1362 341 1365 271 1368 197 1370 126 1373 66 1375 23 1378 2 1381 4 1383 30 1386 76 1388 138 1391 210 1394 284 1396 353 1399 410 1401 449 1404 465 1407 459 1409 429 1412 379 1415 315 1417 242 1420 168 1422 101 1425 47 1428 12 1430 0 1433 11 1435 45 1438 98 1441 165 1443 239 1446 312 1448 377 1451 427 1454 458 1456 466 1459 450 1461 412 1464 355 1467 287 1469 213 1472 140 1474 78 1477 31 1480 5 1482 2 1485 22 1487 64 1490 123 1493 194 1495 268 1498 339 1500 399 1503 442 1506 464 1508 462 1511 437 1514 391 1516 330 1519 258 1521 184 1524 114 1527 57 1529 18 1532 1 1534 7 1537 36 1540 86 1542 150 1545 223 1547 297 1550 364 1553 418 1555 453 1558 466 1560 455 1563 422 1566 369 1568 302 1571 229 1573 155 1576 90 1579 39 1581 8 1584 0 1586 16 1589 53 1592 109 1594 178 1597 252 1599 324 1602 387 1605 434 1607 461 1610 465 1612 444 1615 403 1618 344 1620 274 1623 199 1626 129 1628 68 1631 25 1633 2 1636 4 1639 28 1641 74 1644 135 1646 207 1649 281 1652 350 1654 408 1657 447 1659 465 1662 459 1665 431 1667 382 1670 317 1672 245 1675 171 1678 103 1680 49 1683 13 1685 0 1688 11 1691 44 1693 96 1696 162 1698 236 1701 309 1704 375 1706 426 1709 457 1711 466 1714 451 1717 413 1719 358 1722 290 1725 215 1727 143 1730 80 1732 32 1735 5 1738 1 1740 21 1743 62 1745 121 1748 191 1751 265 1753 336 1756 397 1758 441 1761 463 1764 463 1766 439 1769 394 1771 332 1774 261 1777 186 1779 117 1782 59 1784 19 1787 1 1790 6 1792 35 1795 83 1797 147 1800 220 1803 294 1805 362 1808 416 1810 452 1813 466 1816 456 1818 423 1821 371 1824 305 1826 232 1829 158 1831 93 1834 41 1837 9 1839 0 1842 15 1844 52 1847 107 1850 175 1852 249 1855 321 1857 385 1860 433 1863 460 1865 465 1868 446 1870 405 1873 347 1876 277 1878 202 1881 131 1883 70 1886 26 1889 3 1891 3 1894 27 1896 71 1899 132 1902 204 1904 278 1907 348 1909 406 1912 446 1915 465 1917 460 1920 432 1922 384 1925 320 1928 248 1930 174 1933 106 1936 51 1938 14 1941 0 1943 10 1946 42 1949 94 1951 160 1954 233 1956 306 1959 372 1962 424 1964 456 1967 466 1969 452 1972 415 1975 360 1977 292 1980 218 1982 146 1985 82 1988 34 1990 6 1993 1 1995 20 1998 60 2001 118 2003 188 2006 262 2008 334 2011 395 2014 439 2016 463 2019 463 2021 440 2024 396 2027 335 2029 264 2032 189 2035 119 2037 61 2040 20 2042 1 2045 6 2048 33 2050 81 2053 145 2055 217 2058 291 2061 359 2063 414 2066 451 2068 466 2071 457 2074 425 2076 373 2079 308 2081 234 2084 161 2087 95 2089 43 2092 10 2094 0 2097 14 2100 50 2102 104 2105 172 2107 246 2110 319 2113 383 2115 431 2118 460 2120 465 2123 447 2126 407 2128 349 2131 280 2133 205 2136 134 2139 72 2141 27 2144 3 2147 3 2149 25 2152 69 2154 130 2157 201 2160 275 2162 345 2165 404 2167 445 2170 465 2173 461 2175 434 2178 386 2180 323 2183 251 2186 176 2188 108 2191 53 2193 15 2196 0 2199 9 2201 40 2204 91 2206 157 2209 230 2212 304 2214 370 2217 422 2219 455 2222 466 2225 453 2227 417 2230 363 2232 295 2235 221 2238 149 2240 84 2243 35 2246 7 2248 1 2251 19 2253 58 2256 116 2259 185 2261 259 2264 331 2266 392 2269 438 2272 462 2274 464 2277 441 2279 398 2282 337 2285 267 2287 192 2290 122 2292 63 2295 22 2298 1 2300 5 2303 32 2305 79 2308 142 2311 214 2313 288 2316 357 2318 413 2321 450 2324 466 2326 458 2329 427 2331 376 2334 311 2337 237 2339 164 2342 97 2344 44 2347 11 2350 0 2352 13 2355 48 2358 102 2360 169 2363 243 2365 316 2368 380 2371 430 2373 459 2376 465 2378 448 2381 409 2384 352 2386 282 2389 208 2391 136 2394 75 2397 29 2399 4 2402 2 2404 24 2407 67 2410 127 2412 198 2415 272 2417 343 2420 402 2423 444 2425 464 2428 461 2430 435 2433 388 2436 326 2438 253 2441 179 2443 111 2446 54 2449 16 2451 0 2454 8 2457 39 2459 89 2462 154 2464 227 2467 301 2470 368 2472 421 2475 455 2477 466 2480 454 2483 419 2485 365 2488 298 2490 224 2493 151 2496 87 2498 37 2501 7 2503 1 2506 17 2509 56 2511 113 2514 182 2516 256 2519 328 2522 390 2524 436 2527 462 2529 464 2532 443 2535 400 2537 340 2540 269 2542 195 2545 125 2548 65 2550 23 2553 2 2556 4 2558 30 2561 77 2563 139 2566 211 2569 285 2571 354 2574 411 2576 449 2579 466 2582 458 2584 428 2587 378 2589 313 2592 240 2595 167 2597 100 2600 46 2602 12 2605 0"/>
<path class="rd" stroke-dasharray="111.39 111.39" stroke-dashoffset="4.98" d="M0 0L3 12 5 46 8 100 10 167 13 240 16 313 18 378 21 428 23 458 26 466 29 449 31 411 34 354 36 285 39 211 42 139 44 77 47 30 49 4 52 2 55 23 57 65 60 125 63 195 65 269 68 340 70 400 73 443 76 464 78 462 81 436 83 390 86 328 89 256 91 182 94 113 96 56 99 17 102 1 104 7 107 37 109 87 112 151 115 224 117 298 120 365 122 419 125 454 128 466 130 455 133 421 135 368 138 301 141 227 143 154 146 89 148 39 151 8 154 0 156 16 159 54 162 111 164 179 167 253 169 326 172 388 175 435 177 461 180 464 182 444 185 402 188 343 190 272 193 198 195 127 198 67 201 24 203 2 206 4 208 29 211 75 214 136 216 208 219 282 221 352 224 409 227 448 229 465 232 459 234 430 237 380 240 316 242 243 245 169 247 102 250 48 253 13 255 0 258 11 260 44 263 97 266 164 268 237 271 311 274 376 276 427 279 458 281 466 284 450 287 413 289 357 292 288 294 214 297 142 300 79 302 32 305 5 307 1 310 22 313 63 315 122 318 192 320 267 323 337 326 398 328 441 331 464 333 462 336 438 339 392 341 331 344 259 346 185 349 116 352 58 354 19 357 1 359 7 362 35 365 84 367 149 370 221 373 295 375 363 378 417 380 453 383 466 386 455 388 422 391 370 393 304 396 230 399 157 401 91 404 40 406 9 409 0 412 15 414 53 417 108 419 176 422 251 425 323 427 386 430 434 432 461 435 465 438 445 440 404 443 345 445 275 448 201 451 130 453 69 456 25 458 3 461 3 464 27 466 72 469 134 472 205 474 280 477 349 479 407 482 447 485 465 487 460 490 431 492 383 495 319 498 246 500 172 503 104 505 50 508 14 511 0 513 10 516 43 518 95 521 161 524 234 526 308 529 373 531 425 534 457 537 466 539 451 542 414 544 359 547 291 550 217 552 145 555 81 557 33 560 6 563 1 565 20 568 61 570 119 573 189 576 264 578 335 581 396 584 440 586 463 589 463 591 439 594 395 597 334 599 262 602 188 604 118 607 60 610 20 612 1 615 6 617 34 620 82 623 146 625 218 628 292 630 360 633 415 636 452 638 466 641 456 643 424 646 372 649 306 651 233 654 160 656 94 659 42 662 10 664 0 667 14 669 51 672 106 675 174 677 248 680 320 683 384 685 432 688 460 690 465 693 446 696 406 698 348 701 278 703 204 706 132 709 71 711 27 714 3 716 3 719 26 722 70 724 131 727 202 729 277 732 347 735 405 737 446 740 465 742 460 745 433 748 385 750 321 753 249 755 175 758 107 761 52 763 15 766 0 768 9 771 41 774 93 776 158 779 232 781 305 784 371 787 423 789 456 792 466 795 452 797 416 800 362 802 294 805 220 808 147 810 83 813 35 815 6 818 1 821 19 823 59 826 117 828 186 831 261 834 332 836 394 839 439 841 463 844 463 847 441 849 397 852 336 854 265 857 191 860 121 862 62 865 21 867 1 870 5 873 32 875 80 878 143 880 215 883 290 886 358 888 413 891 451 894 466 896 457 899 426 901 375 904 309 907 236 909 162 912 96 914 44 917 11 920 0 922 13 925 49 927 103 930 171 933 245 935 317 938 382 940 431 943 459 946 465 948 447 951 408 953 350 956 281 959 207 961 135 964 74 966 28 969 4 972 2 974 25 977 68 979 129 982 199 985 274 987 344 990 403 993 444 995 465 998 461 1000 434 1003 387 1006 324 1008 252 1011 178 1013 109 1016 53 1019 16 1021 0 1024 8 1026 39 1029 90 1032 155 1034 229 1037 302 1039 369 1042 422 1045 455 1047 466 1050 453 1052 418 1055 364 1058 297 1060 223 1063 150 1065 86 1068 36 1071 7 1073 1 1076 18 1078 57 1081 114 1084 184 1086 258 1089 330 1091 391 1094 437 1097 462 1099 464 1102 442 1105 399 1107 339 1110 268 1112 194 1115 123 1118 64 1120 22 1123 2 1125 5 1128 31 1131 78 1133 140 1136 213 1138 287 1141 355 1144 412 1146 450 1149 466 1151 458 1154 427 1157 377 1159 312 1162 239 1164 165 1167 98 1170 45 1172 11 1175 0 1177 12 1180 47 1183 101 1185 168 1188 242 1190 315 1193 379 1196 429 1198 459 1201 465 1204 449 1206 410 1209 353 1211 284 1214 210 1217 138 1219 76 1222 30 1224 4 1227 2 1230 23 1232 66 1235 126 1237 197 1240 271 1243 341 1245 401 1248 443 1250 464 1253 462 1256 436 1258 389 1261 327 1263 255 1266 181 1269 112 1271 55 1274 17 1276 0 1279 8 1282 38 1284 88 1287 153 1289 226 1292 299 1295 366 1297 420 1300 454 1302 466 1305 454 1308 420 1310 366 1313 299 1316 226 1318 153 1321 88 1323 38 1326 8 1329 0 1331 17 1334 55 1336 112 1339 181 1342 255 1344 327 1347 389 1349 436 1352 462 1355 464 1357 443 1360 401 1362 341 1365 271 1368 197 1370 126 1373 66 1375 23 1378 2 1381 4 1383 30 1386 76 1388 138 1391 210 1394 284 1396 353 1399 410 1401 449 1404 465 1407 459 1409 429 1412 379 1415 315 1417 242 1420 168 1422 101 1425 47 1428 12 1430 0 1433 11 1435 45 1438 98 1441 165 1443 239 1446 312 1448 377 1451 427 1454 458 1456 466 1459 450 1461 412 1464 355 1467 287 1469 213 1472 140 1474 78 1477 31 1480 5 1482 2 1485 22 1487 64 1490 123 1493 194 1495 268 1498 339 1500 399 1503 442 1506 464 1508 462 1511 437 1514 391 1516 330 1519 258 1521 184 1524 114 1527 57 1529 18 1532 1 1534 7 1537 36 1540 86 1542 150 1545 223 1547 297 1550 364 1553 418 1555 453 1558 466 1560 455 1563 422 1566 369 1568 302 1571 229 1573 155 1576 90 1579 39 1581 8 1584 0 1586 16 1589 53 1592 109 1594 178 1597 252 1599 324 1602 387 1605 434 1607 461 1610 465 1612 444 1615 403 1618 344 1620 274 1623 199 1626 129 1628 68 1631 25 1633 2 1636 4 1639 28 1641 74 1644 135 1646 207 1649 281 1652 350 1654 408 1657 447 1659 465 1662 459 1665 431 1667 382 1670 317 1672 245 1675 171 1678 103 1680 49 1683 13 1685 0 1688 11 1691 44 1693 96 1696 162 1698 236 1701 309 1704 375 1706 426 1709 457 1711 466 1714 451 1717 413 1719 358 1722 290 1725 215 1727 143 1730 80 1732 32 1735 5 1738 1 1740 21 1743 62 1745 121 1748 191 1751 265 1753 336 1756 397 1758 441 1761 463 1764 463 1766 439 1769 394 1771 332 1774 261 1777 186 1779 117 1782 59 1784 19 1787 1 1790 6 1792 35 1795 83 1797 147 1800 220 1803 294 1805 362 1808 416 1810 452 1813 466 1816 456 1818 423 1821 371 1824 305 1826 232 1829 158 1831 93 1834 41 1837 9 1839 0 1842 15 1844 52 1847 107 1850 175 1852 249 1855 321 1857 385 1860 433 1863 460 1865 465 1868 446 1870 405 1873 347 1876 277 1878 202 1881 131 1883 70 1886 26 1889 3 1891 3 1894 27 1896 71 1899 132 1902 204 1904 278 1907 348 1909 406 1912 446 1915 465 1917 460 1920 432 1922 384 1925 320 1928 248 1930 174 1933 106 1936 51 1938 14 1941 0 1943 10 1946 42 1949 94 1951 160 1954 233 1956 306 1959 372 1962 424 1964 456 1967 466 1969 452 1972 415 1975 360 1977 292 1980 218 1982 146 1985 82 1988 34 1990 6 1993 1 1995 20 1998 60 2001 118 2003 188 2006 262 2008 334 2011 395 2014 439 2016 463 2019 463 2021 440 2024 396 2027 335 2029 264 2032 189 2035 119 2037 61 2040 20 2042 1 2045 6 2048 33 2050 81 2053 145 2055 217 2058 291 2061 359 2063 414 2066 451 2068 466 2071 457 2074 425 2076 373 2079 308 2081 234 2084 161 2087 95 2089 43 2092 10 2094 0 2097 14 2100 50 2102 104 2105 172 2107 246 2110 319 2113 383 2115 431 2118 460 2120 465 2123 447 2126 407 2128 349 2131 280 2133 205 2136 134 2139 72 2141 27 2144 3 2147 3 2149 25 2152 69 2154 130 2157 201 2160 275 2162 345 2165 404 2167 445 2170 465 2173 461 2175 434 2178 386 2180 323 2183 251 2186 176 2188 108 2191 53 2193 15 2196 0 2199 9 2201 40 2204 91 2206 157 2209 230 2212 304 2214 370 2217 422 2219 455 2222 466 2225 453 2227 417 2230 363 2232 295 2235 221 2238 149 2240 84 2243 35 2246 7 2248 1 2251 19 2253 58 2256 116 2259 185 2261 259 2264 331 2266 392 2269 438 2272 462 2274 464 2277 441 2279 398 2282 337 2285 267 2287 192 2290 122 2292 63 2295 22 2298 1 2300 5 2303 32 2305 79 2308 142 2311 214 2313 288 2316 357 2318 413 2321 450 2324 466 2326 458 2329 427 2331 376 2334 311 2337 237 2339 164 2342 97 2344 44 2347 11 2350 0 2352 13 2355 48 2358 102 2360 169 2363 243 2365 316 2368 380 2371 430 2373 459 2376 465 2378 448 2381 409 2384 352 2386 282 2389 208 2391 136 2394 75 2397 29 2399 4 2402 2 2404 24 2407 67 2410 127 2412 198 2415 272 2417 343 2420 402 2423 444 2425 464 2428 461 2430 435 2433 388 2436 326 2438 253 2441 179 2443 111 2446 54 2449 16 2451 0 2454 8 2457 39 2459 89 2462 154 2464 227 2467 301 2470 368 2472 421 2475 455 2477 466 2480 454 2483 419 2485 365 2488 298 2490 224 2493 151 2496 87 2498 37 2501 7 2503 1 2506 17 2509 56 2511 113 2514 182 2516 256 2519 328 2522 390 2524 436 2527 462 2529 464 2532 443 2535 400 2537 340 2540 269 2542 195 2545 125 2548 65 2550 23 2553 2 2556 4 2558 30 2561 77 2563 139 2566 211 2569 285 2571 354 2574 411 2576 449 2579 466 2582 458 2584 428 2587 378 2589 313 2592 240 2595 167 2597 100 2600 46 2602 12 2605 0"/>
</g></g>
<text class="tl" x="401.0" y="345.3" text-anchor="end">-1</text>
<text class="tl" x="401.0" y="322.0" text-anchor="end">0</text>
<text class="tl" x="401.0" y="298.7" text-anchor="end">1</text>
<text class="tl" x="405.6" y="364.2" text-anchor="middle">0</text>
<text class="tl" x="535.9" y="364.2" text-anchor="middle">5</text>
<text class="tl" x="666.1" y="364.2" text-anchor="middle">10</text>
<text class="lb" x="535.9" y="395.9" text-anchor="middle">Time (s)</text>
<text class="yl" transform="translate(370.7,315.5) rotate(-90) scale(0.95,1)" text-anchor="middle">C3</text>
<text x="344.9" y="412.2" class="pl">(e)</text>
<rect class="box" x="405.6" y="419.0" width="260.5" height="46.6"/>
<path class="tk" d="M535.9 419.0v3.6M535.9 465.6v-3.6M405.6 442.3h3.6M666.1 442.3h-3.6"/>
<g clip-path="url(#k13)"><g transform="translate(405.6,419.0) scale(0.1)">
<path class="b" d="M0 0L10 10 21 39 31 82 42 136 52 193 63 251 73 304 83 350 94 386 104 410 115 421 125 418 135 401 146 372 156 333 167 286 177 235 188 184 198 137 208 97 219 67 229 50 240 47 250 58 260 82 271 118 281 162 292 212 302 263 313 312 323 355 333 389 344 411 354 419 365 414 375 394 386 362 396 321 406 273 417 221 427 171 438 125 448 88 458 61 469 48 479 49 490 63 500 91 511 129 521 175 531 226 542 277 552 325 563 366 573 396 584 415 594 419 604 410 615 387 625 352 636 308 646 259 656 207 667 158 677 114 688 79 698 56 709 47 719 51 729 70 740 100 750 141 761 189 771 240 781 291 792 337 802 375 813 403 823 417 834 418 844 405 854 378 865 341 875 295 886 245 896 193 907 145 917 104 927 72 938 52 948 47 959 55 969 77 979 111 990 154 1000 203 1011 254 1021 304 1032 348 1042 384 1052 408 1063 419 1073 416 1084 399 1094 369 1105 329 1115 282 1125 231 1136 180 1146 133 1157 94 1167 65 1177 49 1188 48 1198 60 1209 85 1219 122 1230 167 1240 217 1250 268 1261 317 1271 359 1282 392 1292 412 1302 419 1313 412 1323 392 1334 359 1344 317 1355 268 1365 217 1375 167 1386 122 1396 85 1407 60 1417 48 1428 49 1438 65 1448 94 1459 133 1469 180 1480 231 1490 282 1500 329 1511 369 1521 399 1532 416 1542 419 1553 408 1563 384 1573 348 1584 304 1594 254 1605 203 1615 154 1626 111 1636 77 1646 55 1657 47 1667 52 1678 72 1688 104 1698 145 1709 193 1719 245 1730 295 1740 341 1751 378 1761 405 1771 418 1782 417 1792 403 1803 375 1813 337 1824 291 1834 240 1844 189 1855 141 1865 100 1876 70 1886 51 1896 47 1907 56 1917 79 1928 114 1938 158 1949 207 1959 259 1969 308 1980 352 1990 387 2001 410 2011 419 2021 415 2032 396 2042 366 2053 325 2063 277 2074 226 2084 175 2094 129 2105 91 2115 63 2126 49 2136 48 2147 61 2157 88 2167 125 2178 171 2188 221 2199 273 2209 321 2219 362 2230 394 2240 414 2251 419 2261 411 2272 389 2282 355 2292 312 2303 263 2313 212 2324 162 2334 118 2344 82 2355 58 2365 47 2376 50 2386 67 2397 97 2407 137 2417 184 2428 235 2438 286 2449 333 2459 372 2470 401 2480 417 2490 418 2501 406 2511 381 2522 344 2532 299 2542 249 2553 198 2563 149 2574 107 2584 74 2595 54 2605 47"/>
<path class="rd" stroke-dasharray="111.66 111.66" stroke-dashoffset="4.98" d="M0 0L10 9 21 35 31 76 42 129 52 189 63 253 73 316 83 372 94 418 104 450 115 465 125 462 135 443 146 407 156 358 167 299 177 236 188 172 198 113 208 63 219 26 229 5 240 1 250 14 260 44 271 89 281 145 292 207 302 271 313 332 323 386 333 428 344 455 354 466 365 459 375 434 386 395 396 343 406 282 417 218 427 155 438 98 448 52 458 19 469 2 479 3 490 21 500 55 511 103 521 161 531 224 542 288 552 348 563 399 573 437 584 460 594 466 604 454 615 425 625 382 636 327 646 265 656 201 667 139 677 84 688 41 698 12 709 0 719 6 729 29 740 67 750 118 761 178 771 242 781 305 792 363 802 411 813 445 823 463 834 464 844 447 854 414 865 368 875 311 886 248 896 184 907 123 917 71 927 32 938 7 948 0 959 11 969 38 979 80 990 134 1000 195 1011 259 1021 321 1032 377 1042 422 1052 452 1063 465 1073 461 1084 440 1094 403 1105 353 1115 294 1125 230 1136 167 1146 108 1157 59 1167 23 1177 4 1188 1 1198 16 1209 48 1219 94 1230 150 1240 213 1250 277 1261 337 1271 390 1282 431 1292 457 1302 466 1313 457 1323 431 1334 390 1344 337 1355 277 1365 213 1375 150 1386 94 1396 48 1407 16 1417 1 1428 4 1438 23 1448 59 1459 108 1469 167 1480 230 1490 294 1500 353 1511 403 1521 440 1532 461 1542 465 1553 452 1563 422 1573 377 1584 321 1594 259 1605 195 1615 134 1626 80 1636 38 1646 11 1657 0 1667 7 1678 32 1688 71 1698 123 1709 184 1719 248 1730 311 1740 368 1751 414 1761 447 1771 464 1782 463 1792 445 1803 411 1813 363 1824 305 1834 242 1844 178 1855 118 1865 67 1876 29 1886 6 1896 0 1907 12 1917 41 1928 84 1938 139 1949 201 1959 265 1969 327 1980 382 1990 425 2001 454 2011 466 2021 460 2032 437 2042 399 2053 348 2063 288 2074 224 2084 161 2094 103 2105 55 2115 21 2126 3 2136 2 2147 19 2157 52 2167 98 2178 155 2188 218 2199 282 2209 343 2219 395 2230 434 2240 459 2251 466 2261 455 2272 428 2282 386 2292 332 2303 271 2313 207 2324 145 2334 89 2344 44 2355 14 2365 1 2376 5 2386 26 2397 63 2407 113 2417 172 2428 236 2438 299 2449 358 2459 407 2470 443 2480 462 2490 465 2501 450 2511 418 2522 372 2532 316 2542 253 2553 189 2563 129 2574 76 2584 35 2595 9 2605 0"/>
</g></g>
<text class="tl" x="401.0" y="475.8" text-anchor="end">-1</text>
<text class="tl" x="401.0" y="452.5" text-anchor="end">0</text>
<text class="tl" x="401.0" y="429.2" text-anchor="end">1</text>
<text class="tl" x="405.6" y="494.7" text-anchor="middle">0</text>
<text class="tl" x="535.9" y="494.7" text-anchor="middle">5</text>
<text class="tl" x="666.1" y="494.7" text-anchor="middle">10</text>
<text class="lb" x="535.9" y="526.4" text-anchor="middle">Time (s)</text>
<text class="yl" transform="translate(370.7,446.0) rotate(-90) scale(0.95,1)" text-anchor="middle">C1</text>
<rect class="box" x="405.6" y="549.5" width="260.5" height="46.6"/>
<path class="tk" d="M535.9 549.5v3.6M535.9 596.1v-3.6M405.6 588.3h3.6M666.1 588.3h-3.6M405.6 572.8h3.6M666.1 572.8h-3.6M405.6 557.3h3.6M666.1 557.3h-3.6"/>
<g clip-path="url(#k14)"><g transform="translate(405.6,549.5) scale(0.1)">
<path class="b" d="M0 8L4 15 8 37 12 72 16 116 20 165 24 216 28 265 33 306 37 337 41 355 45 359 49 350 53 328 57 297 61 259 65 220 69 182 73 151 77 129 81 119 85 123 90 141 94 171 98 211 102 258 106 308 110 356 114 399 118 431 122 451 126 457 130 447 134 423 138 387 142 341 147 290 151 238 155 189 159 147 163 116 167 98 171 94 175 103 179 125 183 156 187 194 191 234 195 272 199 303 204 326 208 336 212 332 216 315 220 286 224 247 228 201 232 153 236 106 240 66 244 35 248 17 252 14 256 25 260 51 265 89 269 136 273 188 277 241 281 291 285 333 289 364 293 382 297 386 301 377 305 354 309 322 313 284 317 243 322 205 326 173 330 150 334 139 338 142 342 158 346 186 350 224 354 268 358 315 362 360 366 398 370 427 374 443 379 445 383 432 387 405 391 365 395 317 399 264 403 210 407 160 411 118 415 87 419 69 423 66 427 76 431 99 436 132 440 171 444 213 448 252 452 285 456 309 460 321 464 319 468 304 472 277 476 240 480 197 484 152 488 109 493 72 497 45 501 30 505 30 509 45 513 74 517 114 521 163 525 217 529 271 533 321 537 363 541 394 545 411 549 414 554 402 558 378 562 344 566 303 570 261 574 220 578 186 582 161 586 149 590 149 594 163 598 189 602 224 606 266 611 310 615 352 619 387 623 413 627 425 631 424 635 408 639 378 643 337 647 287 651 233 655 179 659 129 663 88 668 58 672 42 676 41 680 53 684 79 688 114 692 156 696 200 700 242 704 277 708 303 712 317 716 317 720 305 725 280 729 246 733 205 737 163 741 122 745 88 749 64 753 52 757 55 761 72 765 103 769 145 773 195 777 249 781 303 786 352 790 392 794 421 798 436 802 436 806 421 810 394 814 357 818 314 822 269 826 226 830 189 834 162 838 147 843 145 847 157 851 181 855 214 859 253 863 295 867 334 871 367 875 390 879 400 883 397 887 379 891 348 895 306 900 256 904 202 908 149 912 101 916 61 920 34 924 21 928 23 932 39 936 68 940 106 944 151 948 198 952 242 957 280 961 308 965 324 969 327 973 316 977 293 981 261 985 223 989 182 993 144 997 112 1001 89 1005 80 1009 84 1014 102 1018 133 1022 175 1026 225 1030 278 1034 330 1038 377 1042 415 1046 441 1050 452 1054 449 1058 431 1062 400 1066 360 1070 313 1075 265 1079 219 1083 180 1087 151 1091 134 1095 130 1099 140 1103 163 1107 194 1111 232 1115 272 1119 310 1123 341 1127 363 1132 372 1136 368 1140 350 1144 319 1148 277 1152 228 1156 176 1160 125 1164 79 1168 43 1172 19 1176 9 1180 15 1184 35 1189 67 1193 110 1197 158 1201 208 1205 255 1209 295 1213 325 1217 343 1221 347 1225 337 1229 315 1233 284 1237 246 1241 207 1246 169 1250 138 1254 116 1258 107 1262 111 1266 129 1270 160 1274 201 1278 250 1282 301 1286 350 1290 394 1294 429 1298 451 1302 458 1307 451 1311 429 1315 394 1319 350 1323 301 1327 250 1331 201 1335 160 1339 129 1343 111 1347 107 1351 116 1355 138 1359 169 1364 207 1368 246 1372 284 1376 315 1380 337 1384 347 1388 343 1392 325 1396 295 1400 255 1404 208 1408 158 1412 110 1416 67 1421 35 1425 15 1429 9 1433 19 1437 43 1441 79 1445 125 1449 176 1453 228 1457 277 1461 319 1465 350 1469 368 1473 372 1478 363 1482 341 1486 310 1490 272 1494 232 1498 194 1502 163 1506 140 1510 130 1514 134 1518 151 1522 180 1526 219 1530 265 1535 313 1539 360 1543 400 1547 431 1551 449 1555 452 1559 441 1563 415 1567 377 1571 330 1575 278 1579 225 1583 175 1587 133 1591 102 1596 84 1600 80 1604 89 1608 112 1612 144 1616 182 1620 223 1624 261 1628 293 1632 316 1636 327 1640 324 1644 308 1648 280 1653 242 1657 198 1661 151 1665 106 1669 68 1673 39 1677 23 1681 21 1685 34 1689 61 1693 101 1697 149 1701 202 1705 256 1710 306 1714 348 1718 379 1722 397 1726 400 1730 390 1734 367 1738 334 1742 295 1746 253 1750 214 1754 181 1758 157 1762 145 1767 147 1771 162 1775 189 1779 226 1783 269 1787 314 1791 357 1795 394 1799 421 1803 436 1807 436 1811 421 1815 392 1819 352 1824 303 1828 249 1832 195 1836 145 1840 103 1844 72 1848 55 1852 52 1856 64 1860 88 1864 122 1868 163 1872 205 1876 246 1880 280 1885 305 1889 317 1893 317 1897 303 1901 277 1905 242 1909 200 1913 156 1917 114 1921 79 1925 53 1929 41 1933 42 1937 58 1942 88 1946 129 1950 179 1954 233 1958 287 1962 337 1966 378 1970 408 1974 424 1978 425 1982 413 1986 387 1990 352 1994 310 1999 266 2003 224 2007 189 2011 163 2015 149 2019 149 2023 161 2027 186 2031 220 2035 261 2039 303 2043 344 2047 378 2051 402 2056 414 2060 411 2064 394 2068 363 2072 321 2076 271 2080 217 2084 163 2088 114 2092 74 2096 45 2100 30 2104 30 2108 45 2112 72 2117 109 2121 152 2125 197 2129 240 2133 277 2137 304 2141 319 2145 321 2149 309 2153 285 2157 252 2161 213 2165 171 2169 132 2174 99 2178 76 2182 66 2186 69 2190 87 2194 118 2198 160 2202 210 2206 264 2210 317 2214 365 2218 405 2222 432 2226 445 2231 443 2235 427 2239 398 2243 360 2247 315 2251 268 2255 224 2259 186 2263 158 2267 142 2271 139 2275 150 2279 173 2283 205 2288 243 2292 284 2296 322 2300 354 2304 377 2308 386 2312 382 2316 364 2320 333 2324 291 2328 241 2332 188 2336 136 2340 89 2344 51 2349 25 2353 14 2357 17 2361 35 2365 66 2369 106 2373 153 2377 201 2381 247 2385 286 2389 315 2393 332 2397 336 2401 326 2406 303 2410 272 2414 234 2418 194 2422 156 2426 125 2430 103 2434 94 2438 98 2442 116 2446 147 2450 189 2454 238 2458 290 2463 341 2467 387 2471 423 2475 447 2479 457 2483 451 2487 431 2491 399 2495 356 2499 308 2503 258 2507 211 2511 171 2515 141 2520 123 2524 119 2528 129 2532 151 2536 182 2540 220 2544 259 2548 297 2552 328 2556 350 2560 359 2564 355 2568 337 2572 306 2577 265 2581 216 2585 165 2589 116 2593 72 2597 37 2601 15 2605 8"/>
<path class="rd" stroke-dasharray="111.54 111.54" stroke-dashoffset="4.98" d="M0 78L4 85 8 106 12 138 16 179 20 225 24 272 28 315 33 351 37 376 41 388 45 385 49 369 53 340 57 301 61 256 65 209 69 164 73 125 77 97 81 81 85 79 90 91 94 116 98 152 102 195 106 242 110 288 114 329 118 361 122 382 126 388 130 381 134 360 138 327 142 285 147 239 151 192 155 149 159 114 163 89 167 78 171 81 175 98 179 128 183 167 187 212 191 259 195 304 199 342 204 370 208 386 212 387 216 375 220 349 224 313 228 269 232 222 236 176 240 136 244 104 248 84 252 78 256 86 260 107 265 140 269 182 273 228 277 275 281 318 285 353 289 377 293 388 297 384 301 367 305 337 309 298 313 253 317 206 322 161 326 123 330 95 334 80 338 79 342 92 346 118 350 154 354 198 358 245 362 291 366 332 370 363 374 383 379 388 383 380 387 358 391 324 395 282 399 236 403 189 407 147 411 112 415 88 419 78 423 82 427 100 431 130 436 169 440 215 444 262 448 306 452 344 456 371 460 386 464 387 468 373 472 347 476 310 480 266 484 219 488 174 493 133 497 102 501 83 505 78 509 87 513 109 517 143 521 185 525 231 529 278 533 321 537 355 541 378 545 388 549 384 554 365 558 335 562 295 566 250 570 203 574 158 578 121 582 94 586 80 590 79 594 93 598 120 602 157 606 201 611 248 615 294 619 334 623 365 627 383 631 388 635 379 639 356 643 322 647 280 651 233 655 186 659 144 663 110 668 87 672 78 676 83 680 101 684 132 688 172 692 218 696 265 700 309 704 346 708 373 712 387 716 386 720 372 725 345 729 308 733 263 737 216 741 171 745 131 749 101 753 82 757 78 761 88 765 111 769 145 773 188 777 235 781 281 786 323 790 357 794 379 798 388 802 383 806 364 810 333 814 292 818 247 822 200 826 156 830 119 834 93 838 79 843 80 847 95 851 122 855 160 859 204 863 251 867 297 871 336 875 366 879 384 883 388 887 378 891 354 895 319 900 277 904 230 908 184 912 142 916 108 920 86 924 78 928 83 932 103 936 134 940 175 944 221 948 268 952 312 957 348 961 374 965 387 969 386 973 371 977 343 981 305 985 260 989 213 993 168 997 129 1001 99 1005 82 1009 78 1014 89 1018 113 1022 148 1026 191 1030 238 1034 284 1038 326 1042 359 1046 380 1050 388 1054 382 1058 362 1062 330 1066 290 1070 244 1075 197 1079 153 1083 117 1087 91 1091 79 1095 80 1099 96 1103 124 1107 162 1111 207 1115 254 1119 299 1123 338 1127 368 1132 385 1136 388 1140 377 1144 352 1148 317 1152 274 1156 227 1160 181 1164 139 1168 106 1172 85 1176 78 1180 84 1184 105 1189 137 1193 178 1197 224 1201 271 1205 314 1209 350 1213 375 1217 387 1221 385 1225 369 1229 341 1233 302 1237 257 1241 210 1246 165 1250 126 1254 97 1258 81 1262 78 1266 90 1270 115 1274 151 1278 194 1282 241 1286 287 1290 328 1294 360 1298 381 1302 388 1307 381 1311 360 1315 328 1319 287 1323 241 1327 194 1331 151 1335 115 1339 90 1343 78 1347 81 1351 97 1355 126 1359 165 1364 210 1368 257 1372 302 1376 341 1380 369 1384 385 1388 387 1392 375 1396 350 1400 314 1404 271 1408 224 1412 178 1416 137 1421 105 1425 84 1429 78 1433 85 1437 106 1441 139 1445 181 1449 227 1453 274 1457 317 1461 352 1465 377 1469 388 1473 385 1478 368 1482 338 1486 299 1490 254 1494 207 1498 162 1502 124 1506 96 1510 80 1514 79 1518 91 1522 117 1526 153 1530 197 1535 244 1539 290 1543 330 1547 362 1551 382 1555 388 1559 380 1563 359 1567 326 1571 284 1575 238 1579 191 1583 148 1587 113 1591 89 1596 78 1600 82 1604 99 1608 129 1612 168 1616 213 1620 260 1624 305 1628 343 1632 371 1636 386 1640 387 1644 374 1648 348 1653 312 1657 268 1661 221 1665 175 1669 134 1673 103 1677 83 1681 78 1685 86 1689 108 1693 142 1697 184 1701 230 1705 277 1710 319 1714 354 1718 378 1722 388 1726 384 1730 366 1734 336 1738 297 1742 251 1746 204 1750 160 1754 122 1758 95 1762 80 1767 79 1771 93 1775 119 1779 156 1783 200 1787 247 1791 292 1795 333 1799 364 1803 383 1807 388 1811 379 1815 357 1819 323 1824 281 1828 235 1832 188 1836 145 1840 111 1844 88 1848 78 1852 82 1856 101 1860 131 1864 171 1868 216 1872 263 1876 308 1880 345 1885 372 1889 386 1893 387 1897 373 1901 346 1905 309 1909 265 1913 218 1917 172 1921 132 1925 101 1929 83 1933 78 1937 87 1942 110 1946 144 1950 186 1954 233 1958 280 1962 322 1966 356 1970 379 1974 388 1978 383 1982 365 1986 334 1990 294 1994 248 1999 201 2003 157 2007 120 2011 93 2015 79 2019 80 2023 94 2027 121 2031 158 2035 203 2039 250 2043 295 2047 335 2051 365 2056 384 2060 388 2064 378 2068 355 2072 321 2076 278 2080 231 2084 185 2088 143 2092 109 2096 87 2100 78 2104 83 2108 102 2112 133 2117 174 2121 219 2125 266 2129 310 2133 347 2137 373 2141 387 2145 386 2149 371 2153 344 2157 306 2161 262 2165 215 2169 169 2174 130 2178 100 2182 82 2186 78 2190 88 2194 112 2198 147 2202 189 2206 236 2210 282 2214 324 2218 358 2222 380 2226 388 2231 383 2235 363 2239 332 2243 291 2247 245 2251 198 2255 154 2259 118 2263 92 2267 79 2271 80 2275 95 2279 123 2283 161 2288 206 2292 253 2296 298 2300 337 2304 367 2308 384 2312 388 2316 377 2320 353 2324 318 2328 275 2332 228 2336 182 2340 140 2344 107 2349 86 2353 78 2357 84 2361 104 2365 136 2369 176 2373 222 2377 269 2381 313 2385 349 2389 375 2393 387 2397 386 2401 370 2406 342 2410 304 2414 259 2418 212 2422 167 2426 128 2430 98 2434 81 2438 78 2442 89 2446 114 2450 149 2454 192 2458 239 2463 285 2467 327 2471 360 2475 381 2479 388 2483 382 2487 361 2491 329 2495 288 2499 242 2503 195 2507 152 2511 116 2515 91 2520 79 2524 81 2528 97 2532 125 2536 164 2540 209 2544 256 2548 301 2552 340 2556 369 2560 385 2564 388 2568 376 2572 351 2577 315 2581 272 2585 225 2589 179 2593 138 2597 106 2601 85 2605 78"/>
</g></g>
<text class="tl" x="401.0" y="598.5" text-anchor="end">-1</text>
<text class="tl" x="401.0" y="583.0" text-anchor="end">0</text>
<text class="tl" x="401.0" y="567.5" text-anchor="end">1</text>
<text class="tl" x="405.6" y="625.2" text-anchor="middle">0</text>
<text class="tl" x="535.9" y="625.2" text-anchor="middle">5</text>
<text class="tl" x="666.1" y="625.2" text-anchor="middle">10</text>
<text class="lb" x="535.9" y="656.9" text-anchor="middle">Time (s)</text>
<text class="yl" transform="translate(370.7,576.5) rotate(-90) scale(0.95,1)" text-anchor="middle">C2</text>
<rect class="box" x="405.6" y="680.0" width="260.5" height="46.6"/>
<path class="tk" d="M535.9 680.0v3.6M535.9 726.6v-3.6M405.6 703.3h3.6M666.1 703.3h-3.6"/>
<g clip-path="url(#k15)"><g transform="translate(405.6,680.0) scale(0.1)">
<path class="b" d="M0 58L3 67 5 93 8 133 10 183 13 238 16 293 18 342 21 379 23 402 26 407 29 395 31 366 34 324 36 272 39 217 42 163 44 116 47 81 49 62 52 60 55 75 57 107 60 152 63 205 65 260 68 313 70 358 73 390 76 406 78 405 81 386 83 351 86 304 89 251 91 195 94 143 96 100 99 71 102 59 104 64 107 86 109 123 112 172 115 226 117 282 120 332 122 372 125 399 128 408 130 399 133 374 135 334 138 284 141 229 143 174 146 125 148 87 151 64 154 59 156 71 159 99 162 141 164 193 167 248 169 302 172 349 175 385 177 404 180 407 182 391 185 360 188 315 190 263 193 207 195 154 198 109 201 76 203 60 206 61 208 80 211 114 214 161 216 214 219 270 221 322 224 365 227 394 229 407 232 403 234 381 237 344 240 295 242 241 245 185 247 135 250 94 253 68 255 58 258 66 260 92 263 131 266 181 268 236 271 291 274 340 276 378 279 401 281 408 284 396 287 368 289 326 292 274 294 219 297 165 300 117 302 82 305 62 307 59 310 74 313 106 315 150 318 202 320 258 323 311 326 357 328 389 331 406 333 405 336 387 339 353 341 306 344 253 346 197 349 145 352 102 354 72 357 59 359 63 362 85 365 122 367 170 370 224 373 280 375 330 378 371 380 398 383 408 386 400 388 375 391 336 393 286 396 231 399 176 401 127 404 88 406 65 409 58 412 70 414 98 417 139 419 191 422 246 425 300 427 348 430 383 432 404 435 407 438 392 440 361 443 317 445 265 448 209 451 156 453 110 456 77 458 60 461 61 464 79 466 113 469 159 472 212 474 268 477 320 479 363 482 393 485 407 487 403 490 382 492 345 495 297 498 243 500 187 503 137 505 96 508 69 511 58 513 66 516 90 518 129 521 179 524 234 526 289 529 338 531 377 534 401 537 408 539 397 542 369 544 328 547 276 550 221 552 167 555 119 557 83 560 62 563 59 565 74 568 104 570 148 573 200 576 256 578 309 581 355 584 388 586 406 589 405 591 388 594 354 597 308 599 255 602 199 604 147 607 103 610 73 612 59 615 63 617 84 620 120 623 168 625 222 628 278 630 328 633 370 636 397 638 408 641 401 643 376 646 337 649 288 651 233 654 178 656 129 659 90 662 65 664 58 667 69 669 96 672 138 675 188 677 244 680 298 683 346 685 382 688 403 690 407 693 393 696 363 698 319 701 267 703 211 706 158 709 112 711 78 714 61 716 60 719 78 722 111 724 157 727 210 729 266 732 318 735 362 737 392 740 407 742 404 745 383 748 347 750 299 753 245 755 190 758 138 761 97 763 69 766 58 768 65 771 89 774 128 776 177 779 232 781 287 784 337 787 376 789 400 792 408 795 397 797 370 800 329 802 279 805 223 808 169 810 121 813 84 815 63 818 59 821 73 823 103 826 146 828 198 831 254 834 307 836 353 839 387 841 405 844 406 847 389 849 356 852 310 854 257 857 201 860 149 862 105 865 74 867 59 870 62 873 83 875 118 878 166 880 220 883 275 886 327 888 368 891 396 894 408 896 401 899 378 901 339 904 290 907 235 909 180 912 130 914 91 917 66 920 58 922 68 925 95 927 136 930 186 933 242 935 296 938 344 940 381 943 403 946 407 948 394 951 364 953 321 956 269 959 213 961 160 964 113 966 79 969 61 972 60 974 77 977 109 979 155 982 208 985 264 987 316 990 360 993 392 995 407 998 404 1000 384 1003 349 1006 301 1008 247 1011 192 1013 140 1016 98 1019 70 1021 58 1024 65 1026 88 1029 126 1032 175 1034 230 1037 285 1039 335 1042 374 1045 400 1047 408 1050 398 1052 372 1055 331 1058 281 1060 225 1063 171 1065 122 1068 85 1071 63 1073 59 1076 72 1078 101 1081 144 1084 196 1086 252 1089 305 1091 352 1094 386 1097 405 1099 406 1102 390 1105 357 1107 312 1110 259 1112 203 1115 151 1118 106 1120 75 1123 59 1125 62 1128 81 1131 117 1133 164 1136 218 1138 273 1141 325 1144 367 1146 395 1149 407 1151 402 1154 379 1157 341 1159 292 1162 237 1164 182 1167 132 1170 92 1172 67 1175 58 1177 67 1180 94 1183 134 1185 184 1188 240 1190 294 1193 343 1196 380 1198 402 1201 407 1204 395 1206 366 1209 323 1211 271 1214 215 1217 162 1219 115 1222 80 1224 61 1227 60 1230 76 1232 108 1235 153 1237 206 1240 261 1243 314 1245 359 1248 391 1250 406 1253 404 1256 385 1258 350 1261 303 1263 249 1266 194 1269 142 1271 100 1274 71 1276 59 1279 64 1282 87 1284 124 1287 173 1289 228 1292 283 1295 333 1297 373 1300 399 1302 408 1305 399 1308 373 1310 333 1313 283 1316 228 1318 173 1321 124 1323 87 1326 64 1329 59 1331 71 1334 100 1336 142 1339 194 1342 249 1344 303 1347 350 1349 385 1352 404 1355 406 1357 391 1360 359 1362 314 1365 261 1368 206 1370 153 1373 108 1375 76 1378 60 1381 61 1383 80 1386 115 1388 162 1391 215 1394 271 1396 323 1399 366 1401 395 1404 407 1407 402 1409 380 1412 343 1415 294 1417 240 1420 184 1422 134 1425 94 1428 67 1430 58 1433 67 1435 92 1438 132 1441 182 1443 237 1446 292 1448 341 1451 379 1454 402 1456 407 1459 395 1461 367 1464 325 1467 273 1469 218 1472 164 1474 117 1477 81 1480 62 1482 59 1485 75 1487 106 1490 151 1493 203 1495 259 1498 312 1500 357 1503 390 1506 406 1508 405 1511 386 1514 352 1516 305 1519 252 1521 196 1524 144 1527 101 1529 72 1532 59 1534 63 1537 85 1540 122 1542 171 1545 225 1547 281 1550 331 1553 372 1555 398 1558 408 1560 400 1563 374 1566 335 1568 285 1571 230 1573 175 1576 126 1579 88 1581 65 1584 58 1586 70 1589 98 1592 140 1594 192 1597 247 1599 301 1602 349 1605 384 1607 404 1610 407 1612 392 1615 360 1618 316 1620 264 1623 208 1626 155 1628 109 1631 77 1633 60 1636 61 1639 79 1641 113 1644 160 1646 213 1649 269 1652 321 1654 364 1657 394 1659 407 1662 403 1665 381 1667 344 1670 296 1672 242 1675 186 1678 136 1680 95 1683 68 1685 58 1688 66 1691 91 1693 130 1696 180 1698 235 1701 290 1704 339 1706 378 1709 401 1711 408 1714 396 1717 368 1719 327 1722 275 1725 220 1727 166 1730 118 1732 83 1735 62 1738 59 1740 74 1743 105 1745 149 1748 201 1751 257 1753 310 1756 356 1758 389 1761 406 1764 405 1766 387 1769 353 1771 307 1774 254 1777 198 1779 146 1782 103 1784 73 1787 59 1790 63 1792 84 1795 121 1797 169 1800 223 1803 279 1805 329 1808 370 1810 397 1813 408 1816 400 1818 376 1821 337 1824 287 1826 232 1829 177 1831 128 1834 89 1837 65 1839 58 1842 69 1844 97 1847 138 1850 190 1852 245 1855 299 1857 347 1860 383 1863 404 1865 407 1868 392 1870 362 1873 318 1876 266 1878 210 1881 157 1883 111 1886 78 1889 60 1891 61 1894 78 1896 112 1899 158 1902 211 1904 267 1907 319 1909 363 1912 393 1915 407 1917 403 1920 382 1922 346 1925 298 1928 244 1930 188 1933 138 1936 96 1938 69 1941 58 1943 65 1946 90 1949 129 1951 178 1954 233 1956 288 1959 337 1962 376 1964 401 1967 408 1969 397 1972 370 1975 328 1977 278 1980 222 1982 168 1985 120 1988 84 1990 63 1993 59 1995 73 1998 103 2001 147 2003 199 2006 255 2008 308 2011 354 2014 388 2016 405 2019 406 2021 388 2024 355 2027 309 2029 256 2032 200 2035 148 2037 104 2040 74 2042 59 2045 62 2048 83 2050 119 2053 167 2055 221 2058 276 2061 328 2063 369 2066 397 2068 408 2071 401 2074 377 2076 338 2079 289 2081 234 2084 179 2087 129 2089 90 2092 66 2094 58 2097 69 2100 96 2102 137 2105 187 2107 243 2110 297 2113 345 2115 382 2118 403 2120 407 2123 393 2126 363 2128 320 2131 268 2133 212 2136 159 2139 113 2141 79 2144 61 2147 60 2149 77 2152 110 2154 156 2157 209 2160 265 2162 317 2165 361 2167 392 2170 407 2173 404 2175 383 2178 348 2180 300 2183 246 2186 191 2188 139 2191 98 2193 70 2196 58 2199 65 2201 88 2204 127 2206 176 2209 231 2212 286 2214 336 2217 375 2219 400 2222 408 2225 398 2227 371 2230 330 2232 280 2235 224 2238 170 2240 122 2243 85 2246 63 2248 59 2251 72 2253 102 2256 145 2259 197 2261 253 2264 306 2266 353 2269 387 2272 405 2274 406 2277 389 2279 357 2282 311 2285 258 2287 202 2290 150 2292 106 2295 74 2298 59 2300 62 2303 82 2305 117 2308 165 2311 219 2313 274 2316 326 2318 368 2321 396 2324 408 2326 401 2329 378 2331 340 2334 291 2337 236 2339 181 2342 131 2344 92 2347 66 2350 58 2352 68 2355 94 2358 135 2360 185 2363 241 2365 295 2368 344 2371 381 2373 403 2376 407 2378 394 2381 365 2384 322 2386 270 2389 214 2391 161 2394 114 2397 80 2399 61 2402 60 2404 76 2407 109 2410 154 2412 207 2415 263 2417 315 2420 360 2423 391 2425 407 2428 404 2430 385 2433 349 2436 302 2438 248 2441 193 2443 141 2446 99 2449 71 2451 59 2454 64 2457 87 2459 125 2462 174 2464 229 2467 284 2470 334 2472 374 2475 399 2477 408 2480 399 2483 372 2485 332 2488 282 2490 226 2493 172 2496 123 2498 86 2501 64 2503 59 2506 71 2509 100 2511 143 2514 195 2516 251 2519 304 2522 351 2524 386 2527 405 2529 406 2532 390 2535 358 2537 313 2540 260 2542 205 2545 152 2548 107 2550 75 2553 60 2556 62 2558 81 2561 116 2563 163 2566 217 2569 272 2571 324 2574 366 2576 395 2579 407 2582 402 2584 379 2587 342 2589 293 2592 238 2595 183 2597 133 2600 93 2602 67 2605 58"/>
<path class="rd" stroke-dasharray="111.39 111.39" stroke-dashoffset="4.98" d="M0 0L3 12 5 46 8 100 10 167 13 240 16 313 18 378 21 428 23 458 26 466 29 449 31 411 34 354 36 285 39 211 42 139 44 77 47 30 49 4 52 2 55 23 57 65 60 125 63 195 65 269 68 340 70 400 73 443 76 464 78 462 81 436 83 390 86 328 89 256 91 182 94 113 96 56 99 17 102 1 104 7 107 37 109 87 112 151 115 224 117 298 120 365 122 419 125 454 128 466 130 455 133 421 135 368 138 301 141 227 143 154 146 89 148 39 151 8 154 0 156 16 159 54 162 111 164 179 167 253 169 326 172 388 175 435 177 461 180 464 182 444 185 402 188 343 190 272 193 198 195 127 198 67 201 24 203 2 206 4 208 29 211 75 214 136 216 208 219 282 221 352 224 409 227 448 229 465 232 459 234 430 237 380 240 316 242 243 245 169 247 102 250 48 253 13 255 0 258 11 260 44 263 97 266 164 268 237 271 311 274 376 276 427 279 458 281 466 284 450 287 413 289 357 292 288 294 214 297 142 300 79 302 32 305 5 307 1 310 22 313 63 315 122 318 192 320 267 323 337 326 398 328 441 331 464 333 462 336 438 339 392 341 331 344 259 346 185 349 116 352 58 354 19 357 1 359 7 362 35 365 84 367 149 370 221 373 295 375 363 378 417 380 453 383 466 386 455 388 422 391 370 393 304 396 230 399 157 401 91 404 40 406 9 409 0 412 15 414 53 417 108 419 176 422 251 425 323 427 386 430 434 432 461 435 465 438 445 440 404 443 345 445 275 448 201 451 130 453 69 456 25 458 3 461 3 464 27 466 72 469 134 472 205 474 280 477 349 479 407 482 447 485 465 487 460 490 431 492 383 495 319 498 246 500 172 503 104 505 50 508 14 511 0 513 10 516 43 518 95 521 161 524 234 526 308 529 373 531 425 534 457 537 466 539 451 542 414 544 359 547 291 550 217 552 145 555 81 557 33 560 6 563 1 565 20 568 61 570 119 573 189 576 264 578 335 581 396 584 440 586 463 589 463 591 439 594 395 597 334 599 262 602 188 604 118 607 60 610 20 612 1 615 6 617 34 620 82 623 146 625 218 628 292 630 360 633 415 636 452 638 466 641 456 643 424 646 372 649 306 651 233 654 160 656 94 659 42 662 10 664 0 667 14 669 51 672 106 675 174 677 248 680 320 683 384 685 432 688 460 690 465 693 446 696 406 698 348 701 278 703 204 706 132 709 71 711 27 714 3 716 3 719 26 722 70 724 131 727 202 729 277 732 347 735 405 737 446 740 465 742 460 745 433 748 385 750 321 753 249 755 175 758 107 761 52 763 15 766 0 768 9 771 41 774 93 776 158 779 232 781 305 784 371 787 423 789 456 792 466 795 452 797 416 800 362 802 294 805 220 808 147 810 83 813 35 815 6 818 1 821 19 823 59 826 117 828 186 831 261 834 332 836 394 839 439 841 463 844 463 847 441 849 397 852 336 854 265 857 191 860 121 862 62 865 21 867 1 870 5 873 32 875 80 878 143 880 215 883 290 886 358 888 413 891 451 894 466 896 457 899 426 901 375 904 309 907 236 909 162 912 96 914 44 917 11 920 0 922 13 925 49 927 103 930 171 933 245 935 317 938 382 940 431 943 459 946 465 948 447 951 408 953 350 956 281 959 207 961 135 964 74 966 28 969 4 972 2 974 25 977 68 979 129 982 199 985 274 987 344 990 403 993 444 995 465 998 461 1000 434 1003 387 1006 324 1008 252 1011 178 1013 109 1016 53 1019 16 1021 0 1024 8 1026 39 1029 90 1032 155 1034 229 1037 302 1039 369 1042 422 1045 455 1047 466 1050 453 1052 418 1055 364 1058 297 1060 223 1063 150 1065 86 1068 36 1071 7 1073 1 1076 18 1078 57 1081 114 1084 184 1086 258 1089 330 1091 391 1094 437 1097 462 1099 464 1102 442 1105 399 1107 339 1110 268 1112 194 1115 123 1118 64 1120 22 1123 2 1125 5 1128 31 1131 78 1133 140 1136 213 1138 287 1141 355 1144 412 1146 450 1149 466 1151 458 1154 427 1157 377 1159 312 1162 239 1164 165 1167 98 1170 45 1172 11 1175 0 1177 12 1180 47 1183 101 1185 168 1188 242 1190 315 1193 379 1196 429 1198 459 1201 465 1204 449 1206 410 1209 353 1211 284 1214 210 1217 138 1219 76 1222 30 1224 4 1227 2 1230 23 1232 66 1235 126 1237 197 1240 271 1243 341 1245 401 1248 443 1250 464 1253 462 1256 436 1258 389 1261 327 1263 255 1266 181 1269 112 1271 55 1274 17 1276 0 1279 8 1282 38 1284 88 1287 153 1289 226 1292 299 1295 366 1297 420 1300 454 1302 466 1305 454 1308 420 1310 366 1313 299 1316 226 1318 153 1321 88 1323 38 1326 8 1329 0 1331 17 1334 55 1336 112 1339 181 1342 255 1344 327 1347 389 1349 436 1352 462 1355 464 1357 443 1360 401 1362 341 1365 271 1368 197 1370 126 1373 66 1375 23 1378 2 1381 4 1383 30 1386 76 1388 138 1391 210 1394 284 1396 353 1399 410 1401 449 1404 465 1407 459 1409 429 1412 379 1415 315 1417 242 1420 168 1422 101 1425 47 1428 12 1430 0 1433 11 1435 45 1438 98 1441 165 1443 239 1446 312 1448 377 1451 427 1454 458 1456 466 1459 450 1461 412 1464 355 1467 287 1469 213 1472 140 1474 78 1477 31 1480 5 1482 2 1485 22 1487 64 1490 123 1493 194 1495 268 1498 339 1500 399 1503 442 1506 464 1508 462 1511 437 1514 391 1516 330 1519 258 1521 184 1524 114 1527 57 1529 18 1532 1 1534 7 1537 36 1540 86 1542 150 1545 223 1547 297 1550 364 1553 418 1555 453 1558 466 1560 455 1563 422 1566 369 1568 302 1571 229 1573 155 1576 90 1579 39 1581 8 1584 0 1586 16 1589 53 1592 109 1594 178 1597 252 1599 324 1602 387 1605 434 1607 461 1610 465 1612 444 1615 403 1618 344 1620 274 1623 199 1626 129 1628 68 1631 25 1633 2 1636 4 1639 28 1641 74 1644 135 1646 207 1649 281 1652 350 1654 408 1657 447 1659 465 1662 459 1665 431 1667 382 1670 317 1672 245 1675 171 1678 103 1680 49 1683 13 1685 0 1688 11 1691 44 1693 96 1696 162 1698 236 1701 309 1704 375 1706 426 1709 457 1711 466 1714 451 1717 413 1719 358 1722 290 1725 215 1727 143 1730 80 1732 32 1735 5 1738 1 1740 21 1743 62 1745 121 1748 191 1751 265 1753 336 1756 397 1758 441 1761 463 1764 463 1766 439 1769 394 1771 332 1774 261 1777 186 1779 117 1782 59 1784 19 1787 1 1790 6 1792 35 1795 83 1797 147 1800 220 1803 294 1805 362 1808 416 1810 452 1813 466 1816 456 1818 423 1821 371 1824 305 1826 232 1829 158 1831 93 1834 41 1837 9 1839 0 1842 15 1844 52 1847 107 1850 175 1852 249 1855 321 1857 385 1860 433 1863 460 1865 465 1868 446 1870 405 1873 347 1876 277 1878 202 1881 131 1883 70 1886 26 1889 3 1891 3 1894 27 1896 71 1899 132 1902 204 1904 278 1907 348 1909 406 1912 446 1915 465 1917 460 1920 432 1922 384 1925 320 1928 248 1930 174 1933 106 1936 51 1938 14 1941 0 1943 10 1946 42 1949 94 1951 160 1954 233 1956 306 1959 372 1962 424 1964 456 1967 466 1969 452 1972 415 1975 360 1977 292 1980 218 1982 146 1985 82 1988 34 1990 6 1993 1 1995 20 1998 60 2001 118 2003 188 2006 262 2008 334 2011 395 2014 439 2016 463 2019 463 2021 440 2024 396 2027 335 2029 264 2032 189 2035 119 2037 61 2040 20 2042 1 2045 6 2048 33 2050 81 2053 145 2055 217 2058 291 2061 359 2063 414 2066 451 2068 466 2071 457 2074 425 2076 373 2079 308 2081 234 2084 161 2087 95 2089 43 2092 10 2094 0 2097 14 2100 50 2102 104 2105 172 2107 246 2110 319 2113 383 2115 431 2118 460 2120 465 2123 447 2126 407 2128 349 2131 280 2133 205 2136 134 2139 72 2141 27 2144 3 2147 3 2149 25 2152 69 2154 130 2157 201 2160 275 2162 345 2165 404 2167 445 2170 465 2173 461 2175 434 2178 386 2180 323 2183 251 2186 176 2188 108 2191 53 2193 15 2196 0 2199 9 2201 40 2204 91 2206 157 2209 230 2212 304 2214 370 2217 422 2219 455 2222 466 2225 453 2227 417 2230 363 2232 295 2235 221 2238 149 2240 84 2243 35 2246 7 2248 1 2251 19 2253 58 2256 116 2259 185 2261 259 2264 331 2266 392 2269 438 2272 462 2274 464 2277 441 2279 398 2282 337 2285 267 2287 192 2290 122 2292 63 2295 22 2298 1 2300 5 2303 32 2305 79 2308 142 2311 214 2313 288 2316 357 2318 413 2321 450 2324 466 2326 458 2329 427 2331 376 2334 311 2337 237 2339 164 2342 97 2344 44 2347 11 2350 0 2352 13 2355 48 2358 102 2360 169 2363 243 2365 316 2368 380 2371 430 2373 459 2376 465 2378 448 2381 409 2384 352 2386 282 2389 208 2391 136 2394 75 2397 29 2399 4 2402 2 2404 24 2407 67 2410 127 2412 198 2415 272 2417 343 2420 402 2423 444 2425 464 2428 461 2430 435 2433 388 2436 326 2438 253 2441 179 2443 111 2446 54 2449 16 2451 0 2454 8 2457 39 2459 89 2462 154 2464 227 2467 301 2470 368 2472 421 2475 455 2477 466 2480 454 2483 419 2485 365 2488 298 2490 224 2493 151 2496 87 2498 37 2501 7 2503 1 2506 17 2509 56 2511 113 2514 182 2516 256 2519 328 2522 390 2524 436 2527 462 2529 464 2532 443 2535 400 2537 340 2540 269 2542 195 2545 125 2548 65 2550 23 2553 2 2556 4 2558 30 2561 77 2563 139 2566 211 2569 285 2571 354 2574 411 2576 449 2579 466 2582 458 2584 428 2587 378 2589 313 2592 240 2595 167 2597 100 2600 46 2602 12 2605 0"/>
</g></g>
<text class="tl" x="401.0" y="736.8" text-anchor="end">-1</text>
<text class="tl" x="401.0" y="713.5" text-anchor="end">0</text>
<text class="tl" x="401.0" y="690.2" text-anchor="end">1</text>
<text class="tl" x="405.6" y="755.7" text-anchor="middle">0</text>
<text class="tl" x="535.9" y="755.7" text-anchor="middle">5</text>
<text class="tl" x="666.1" y="755.7" text-anchor="middle">10</text>
<text class="lb" x="535.9" y="787.4" text-anchor="middle">Time (s)</text>
<text class="yl" transform="translate(370.7,707.0) rotate(-90) scale(0.95,1)" text-anchor="middle">C3</text>
<text x="687.4" y="22.7" class="pl">(c)</text>
<rect class="box" x="749.0" y="27.5" width="260.5" height="46.6"/>
<path class="tk" d="M879.2 27.5v3.6M879.2 74.1v-3.6M749.0 50.8h3.6M1009.5 50.8h-3.6"/>
<g clip-path="url(#k20)"><g transform="translate(749.0,27.5) scale(0.1)">
<path class="b" d="M0 0L10 9 21 35 31 76 42 129 52 189 63 253 73 316 83 372 94 418 104 450 115 465 125 462 135 443 146 407 156 358 167 299 177 236 188 172 198 113 208 63 219 26 229 5 240 1 250 14 260 44 271 89 281 145 292 207 302 271 313 332 323 386 333 428 344 455 354 466 365 459 375 434 386 395 396 343 406 282 417 218 427 155 438 98 448 52 458 19 469 2 479 3 490 21 500 55 511 103 521 161 531 224 542 288 552 348 563 399 573 437 584 460 594 466 604 454 615 425 625 382 636 327 646 265 656 201 667 139 677 84 688 41 698 12 709 0 719 6 729 29 740 67 750 118 761 178 771 242 781 305 792 363 802 411 813 445 823 463 834 464 844 447 854 414 865 368 875 311 886 248 896 184 907 123 917 71 927 32 938 7 948 0 959 11 969 38 979 80 990 134 1000 195 1011 259 1021 321 1032 377 1042 422 1052 452 1063 465 1073 461 1084 440 1094 403 1105 353 1115 294 1125 230 1136 167 1146 108 1157 59 1167 23 1177 4 1188 1 1198 16 1209 48 1219 94 1230 150 1240 213 1250 277 1261 337 1271 390 1282 431 1292 457 1302 466 1313 457 1323 431 1334 390 1344 337 1355 277 1365 213 1375 150 1386 94 1396 48 1407 16 1417 1 1428 4 1438 23 1448 59 1459 108 1469 167 1480 230 1490 294 1500 353 1511 403 1521 440 1532 461 1542 465 1553 452 1563 422 1573 377 1584 321 1594 259 1605 195 1615 134 1626 80 1636 38 1646 11 1657 0 1667 7 1678 32 1688 71 1698 123 1709 184 1719 248 1730 311 1740 368 1751 414 1761 447 1771 464 1782 463 1792 445 1803 411 1813 363 1824 305 1834 242 1844 178 1855 118 1865 67 1876 29 1886 6 1896 0 1907 12 1917 41 1928 84 1938 139 1949 201 1959 265 1969 327 1980 382 1990 425 2001 454 2011 466 2021 460 2032 437 2042 399 2053 348 2063 288 2074 224 2084 161 2094 103 2105 55 2115 21 2126 3 2136 2 2147 19 2157 52 2167 98 2178 155 2188 218 2199 282 2209 343 2219 395 2230 434 2240 459 2251 466 2261 455 2272 428 2282 386 2292 332 2303 271 2313 207 2324 145 2334 89 2344 44 2355 14 2365 1 2376 5 2386 26 2397 63 2407 113 2417 172 2428 236 2438 299 2449 358 2459 407 2470 443 2480 462 2490 465 2501 450 2511 418 2522 372 2532 316 2542 253 2553 189 2563 129 2574 76 2584 35 2595 9 2605 0"/>
<path class="rd" stroke-dasharray="111.66 111.66" stroke-dashoffset="4.98" d="M0 0L10 9 21 35 31 76 42 129 52 189 63 253 73 316 83 372 94 418 104 450 115 465 125 462 135 443 146 407 156 358 167 299 177 236 188 172 198 113 208 63 219 26 229 5 240 1 250 14 260 44 271 89 281 145 292 207 302 271 313 332 323 386 333 428 344 455 354 466 365 459 375 434 386 395 396 343 406 282 417 218 427 155 438 98 448 52 458 19 469 2 479 3 490 21 500 55 511 103 521 161 531 224 542 288 552 348 563 399 573 437 584 460 594 466 604 454 615 425 625 382 636 327 646 265 656 201 667 139 677 84 688 41 698 12 709 0 719 6 729 29 740 67 750 118 761 178 771 242 781 305 792 363 802 411 813 445 823 463 834 464 844 447 854 414 865 368 875 311 886 248 896 184 907 123 917 71 927 32 938 7 948 0 959 11 969 38 979 80 990 134 1000 195 1011 259 1021 321 1032 377 1042 422 1052 452 1063 465 1073 461 1084 440 1094 403 1105 353 1115 294 1125 230 1136 167 1146 108 1157 59 1167 23 1177 4 1188 1 1198 16 1209 48 1219 94 1230 150 1240 213 1250 277 1261 337 1271 390 1282 431 1292 457 1302 466 1313 457 1323 431 1334 390 1344 337 1355 277 1365 213 1375 150 1386 94 1396 48 1407 16 1417 1 1428 4 1438 23 1448 59 1459 108 1469 167 1480 230 1490 294 1500 353 1511 403 1521 440 1532 461 1542 465 1553 452 1563 422 1573 377 1584 321 1594 259 1605 195 1615 134 1626 80 1636 38 1646 11 1657 0 1667 7 1678 32 1688 71 1698 123 1709 184 1719 248 1730 311 1740 368 1751 414 1761 447 1771 464 1782 463 1792 445 1803 411 1813 363 1824 305 1834 242 1844 178 1855 118 1865 67 1876 29 1886 6 1896 0 1907 12 1917 41 1928 84 1938 139 1949 201 1959 265 1969 327 1980 382 1990 425 2001 454 2011 466 2021 460 2032 437 2042 399 2053 348 2063 288 2074 224 2084 161 2094 103 2105 55 2115 21 2126 3 2136 2 2147 19 2157 52 2167 98 2178 155 2188 218 2199 282 2209 343 2219 395 2230 434 2240 459 2251 466 2261 455 2272 428 2282 386 2292 332 2303 271 2313 207 2324 145 2334 89 2344 44 2355 14 2365 1 2376 5 2386 26 2397 63 2407 113 2417 172 2428 236 2438 299 2449 358 2459 407 2470 443 2480 462 2490 465 2501 450 2511 418 2522 372 2532 316 2542 253 2553 189 2563 129 2574 76 2584 35 2595 9 2605 0"/>
</g></g>
<text class="tl" x="744.4" y="84.3" text-anchor="end">-1</text>
<text class="tl" x="744.4" y="61.0" text-anchor="end">0</text>
<text class="tl" x="744.4" y="37.7" text-anchor="end">1</text>
<text class="tl" x="749.0" y="103.2" text-anchor="middle">0</text>
<text class="tl" x="879.2" y="103.2" text-anchor="middle">5</text>
<text class="tl" x="1009.5" y="103.2" text-anchor="middle">10</text>
<text class="lb" x="879.2" y="134.9" text-anchor="middle">Time (s)</text>
<text class="yl" transform="translate(714.1,54.5) rotate(-90) scale(0.95,1)" text-anchor="middle">C1</text>
<rect class="box" x="749.0" y="158.0" width="260.5" height="46.6"/>
<path class="tk" d="M879.2 158.0v3.6M879.2 204.6v-3.6M749.0 181.3h3.6M1009.5 181.3h-3.6"/>
<g clip-path="url(#k21)"><g transform="translate(749.0,158.0) scale(0.1)">
<path class="b" d="M0 0L4 11 8 42 12 91 16 152 20 222 24 292 28 357 33 410 37 447 41 465 45 461 49 436 53 393 57 335 61 267 65 197 69 129 73 72 77 29 81 4 85 1 90 20 94 57 98 111 102 176 106 247 110 316 114 377 118 425 122 456 126 466 130 455 134 423 138 374 142 311 147 242 151 172 155 107 159 54 163 18 167 1 171 5 175 31 179 75 183 133 187 201 191 272 195 339 199 396 204 438 208 462 212 464 216 446 220 407 224 353 228 287 232 217 236 148 240 87 244 39 248 9 252 0 256 12 260 44 265 94 269 157 273 226 277 296 281 361 285 413 289 449 293 465 297 460 301 434 305 389 309 331 313 263 317 192 322 125 326 68 330 26 334 4 338 2 342 21 346 60 350 115 354 181 358 251 362 320 366 381 370 428 374 457 379 466 383 453 387 420 391 370 395 307 399 238 403 168 407 104 411 51 415 16 419 1 423 6 427 33 431 78 436 138 440 206 444 276 448 343 452 399 456 441 460 463 464 464 468 444 472 404 476 349 480 283 484 212 488 144 493 83 497 37 501 8 505 0 509 14 513 47 517 98 521 161 525 231 529 301 533 364 537 416 541 451 545 466 549 459 554 432 558 386 562 326 566 258 570 188 574 121 578 65 582 24 586 3 590 3 594 23 598 63 602 119 606 185 611 256 615 324 619 384 623 430 627 458 631 466 635 452 639 417 643 366 647 303 651 233 655 163 659 100 663 49 668 14 672 0 676 8 680 36 684 82 688 142 692 210 696 281 700 347 704 403 708 443 712 463 716 463 720 442 725 401 729 345 733 278 737 208 741 140 745 80 749 34 753 7 757 0 761 15 765 50 769 102 773 165 777 235 781 305 786 368 790 419 794 452 798 466 802 458 806 429 810 383 814 322 818 254 822 183 826 117 830 62 834 22 838 2 843 3 847 25 851 67 855 123 859 190 863 260 867 328 871 388 875 433 879 460 883 465 887 450 891 415 895 362 900 298 904 228 908 159 912 96 916 46 920 13 924 0 928 9 932 38 936 85 940 146 944 215 948 285 952 351 957 406 961 445 965 464 969 462 973 440 977 398 981 341 985 274 989 203 993 135 997 77 1001 32 1005 6 1009 1 1014 17 1018 53 1022 105 1026 170 1030 240 1034 309 1038 372 1042 422 1046 454 1050 466 1054 457 1058 427 1062 379 1066 318 1070 249 1075 179 1079 113 1083 59 1087 20 1091 2 1095 4 1099 28 1103 70 1107 127 1111 194 1115 265 1119 333 1123 391 1127 435 1132 461 1136 465 1140 448 1144 412 1148 359 1152 294 1156 224 1160 155 1164 92 1168 43 1172 11 1176 0 1180 10 1184 41 1189 89 1193 150 1197 219 1201 290 1205 355 1209 409 1213 446 1217 465 1221 462 1225 437 1229 394 1233 337 1237 269 1241 199 1246 131 1250 73 1254 30 1258 5 1262 1 1266 19 1270 56 1274 109 1278 174 1282 244 1286 314 1290 375 1294 424 1298 455 1302 466 1307 455 1311 424 1315 375 1319 314 1323 244 1327 174 1331 109 1335 56 1339 19 1343 1 1347 5 1351 30 1355 73 1359 131 1364 199 1368 269 1372 337 1376 394 1380 437 1384 462 1388 465 1392 446 1396 409 1400 355 1404 290 1408 219 1412 150 1416 89 1421 41 1425 10 1429 0 1433 11 1437 43 1441 92 1445 155 1449 224 1453 294 1457 359 1461 412 1465 448 1469 465 1473 461 1478 435 1482 391 1486 333 1490 265 1494 194 1498 127 1502 70 1506 28 1510 4 1514 2 1518 20 1522 59 1526 113 1530 179 1535 249 1539 318 1543 379 1547 427 1551 457 1555 466 1559 454 1563 422 1567 372 1571 309 1575 240 1579 170 1583 105 1587 53 1591 17 1596 1 1600 6 1604 32 1608 77 1612 135 1616 203 1620 274 1624 341 1628 398 1632 440 1636 462 1640 464 1644 445 1648 406 1653 351 1657 285 1661 215 1665 146 1669 85 1673 38 1677 9 1681 0 1685 13 1689 46 1693 96 1697 159 1701 228 1705 298 1710 362 1714 415 1718 450 1722 465 1726 460 1730 433 1734 388 1738 328 1742 260 1746 190 1750 123 1754 67 1758 25 1762 3 1767 2 1771 22 1775 62 1779 117 1783 183 1787 254 1791 322 1795 383 1799 429 1803 458 1807 466 1811 452 1815 419 1819 368 1824 305 1828 235 1832 165 1836 102 1840 50 1844 15 1848 0 1852 7 1856 34 1860 80 1864 140 1868 208 1872 278 1876 345 1880 401 1885 442 1889 463 1893 463 1897 443 1901 403 1905 347 1909 281 1913 210 1917 142 1921 82 1925 36 1929 8 1933 0 1937 14 1942 49 1946 100 1950 163 1954 233 1958 303 1962 366 1966 417 1970 452 1974 466 1978 458 1982 430 1986 384 1990 324 1994 256 1999 185 2003 119 2007 63 2011 23 2015 3 2019 3 2023 24 2027 65 2031 121 2035 188 2039 258 2043 326 2047 386 2051 432 2056 459 2060 466 2064 451 2068 416 2072 364 2076 301 2080 231 2084 161 2088 98 2092 47 2096 14 2100 0 2104 8 2108 37 2112 83 2117 144 2121 212 2125 283 2129 349 2133 404 2137 444 2141 464 2145 463 2149 441 2153 399 2157 343 2161 276 2165 206 2169 138 2174 78 2178 33 2182 6 2186 1 2190 16 2194 51 2198 104 2202 168 2206 238 2210 307 2214 370 2218 420 2222 453 2226 466 2231 457 2235 428 2239 381 2243 320 2247 251 2251 181 2255 115 2259 60 2263 21 2267 2 2271 4 2275 26 2279 68 2283 125 2288 192 2292 263 2296 331 2300 389 2304 434 2308 460 2312 465 2316 449 2320 413 2324 361 2328 296 2332 226 2336 157 2340 94 2344 44 2349 12 2353 0 2357 9 2361 39 2365 87 2369 148 2373 217 2377 287 2381 353 2385 407 2389 446 2393 464 2397 462 2401 438 2406 396 2410 339 2414 272 2418 201 2422 133 2426 75 2430 31 2434 5 2438 1 2442 18 2446 54 2450 107 2454 172 2458 242 2463 311 2467 374 2471 423 2475 455 2479 466 2483 456 2487 425 2491 377 2495 316 2499 247 2503 176 2507 111 2511 57 2515 20 2520 1 2524 4 2528 29 2532 72 2536 129 2540 197 2544 267 2548 335 2552 393 2556 436 2560 461 2564 465 2568 447 2572 410 2577 357 2581 292 2585 222 2589 152 2593 91 2597 42 2601 11 2605 0"/>
<path class="rd" stroke-dasharray="111.58 111.58" stroke-dashoffset="4.98" d="M0 0L4 11 8 42 12 91 16 152 20 222 24 292 28 357 33 410 37 447 41 465 45 461 49 436 53 393 57 335 61 267 65 197 69 129 73 72 77 29 81 4 85 1 90 20 94 57 98 111 102 176 106 247 110 316 114 377 118 425 122 456 126 466 130 455 134 423 138 374 142 311 147 242 151 172 155 107 159 54 163 18 167 1 171 5 175 31 179 75 183 133 187 201 191 272 195 339 199 396 204 438 208 462 212 464 216 446 220 407 224 353 228 287 232 217 236 148 240 87 244 39 248 9 252 0 256 12 260 44 265 94 269 157 273 226 277 296 281 361 285 413 289 449 293 465 297 460 301 434 305 389 309 331 313 263 317 192 322 125 326 68 330 26 334 4 338 2 342 21 346 60 350 115 354 181 358 251 362 320 366 381 370 428 374 457 379 466 383 453 387 420 391 370 395 307 399 238 403 168 407 104 411 51 415 16 419 1 423 6 427 33 431 78 436 138 440 206 444 276 448 343 452 399 456 441 460 463 464 464 468 444 472 404 476 349 480 283 484 212 488 144 493 83 497 37 501 8 505 0 509 14 513 47 517 98 521 161 525 231 529 301 533 364 537 416 541 451 545 466 549 459 554 432 558 386 562 326 566 258 570 188 574 121 578 65 582 24 586 3 590 3 594 23 598 63 602 119 606 185 611 256 615 324 619 384 623 430 627 458 631 466 635 452 639 417 643 366 647 303 651 233 655 163 659 100 663 49 668 14 672 0 676 8 680 36 684 82 688 142 692 210 696 281 700 347 704 403 708 443 712 463 716 463 720 442 725 401 729 345 733 278 737 208 741 140 745 80 749 34 753 7 757 0 761 15 765 50 769 102 773 165 777 235 781 305 786 368 790 419 794 452 798 466 802 458 806 429 810 383 814 322 818 254 822 183 826 117 830 62 834 22 838 2 843 3 847 25 851 67 855 123 859 190 863 260 867 328 871 388 875 433 879 460 883 465 887 450 891 415 895 362 900 298 904 228 908 159 912 96 916 46 920 13 924 0 928 9 932 38 936 85 940 146 944 215 948 285 952 351 957 406 961 445 965 464 969 462 973 440 977 398 981 341 985 274 989 203 993 135 997 77 1001 32 1005 6 1009 1 1014 17 1018 53 1022 105 1026 170 1030 240 1034 309 1038 372 1042 422 1046 454 1050 466 1054 457 1058 427 1062 379 1066 318 1070 249 1075 179 1079 113 1083 59 1087 20 1091 2 1095 4 1099 28 1103 70 1107 127 1111 194 1115 265 1119 333 1123 391 1127 435 1132 461 1136 465 1140 448 1144 412 1148 359 1152 294 1156 224 1160 155 1164 92 1168 43 1172 11 1176 0 1180 10 1184 41 1189 89 1193 150 1197 219 1201 290 1205 355 1209 409 1213 446 1217 465 1221 462 1225 437 1229 394 1233 337 1237 269 1241 199 1246 131 1250 73 1254 30 1258 5 1262 1 1266 19 1270 56 1274 109 1278 174 1282 244 1286 314 1290 375 1294 424 1298 455 1302 466 1307 455 1311 424 1315 375 1319 314 1323 244 1327 174 1331 109 1335 56 1339 19 1343 1 1347 5 1351 30 1355 73 1359 131 1364 199 1368 269 1372 337 1376 394 1380 437 1384 462 1388 465 1392 446 1396 409 1400 355 1404 290 1408 219 1412 150 1416 89 1421 41 1425 10 1429 0 1433 11 1437 43 1441 92 1445 155 1449 224 1453 294 1457 359 1461 412 1465 448 1469 465 1473 461 1478 435 1482 391 1486 333 1490 265 1494 194 1498 127 1502 70 1506 28 1510 4 1514 2 1518 20 1522 59 1526 113 1530 179 1535 249 1539 318 1543 379 1547 427 1551 457 1555 466 1559 454 1563 422 1567 372 1571 309 1575 240 1579 170 1583 105 1587 53 1591 17 1596 1 1600 6 1604 32 1608 77 1612 135 1616 203 1620 274 1624 341 1628 398 1632 440 1636 462 1640 464 1644 445 1648 406 1653 351 1657 285 1661 215 1665 146 1669 85 1673 38 1677 9 1681 0 1685 13 1689 46 1693 96 1697 159 1701 228 1705 298 1710 362 1714 415 1718 450 1722 465 1726 460 1730 433 1734 388 1738 328 1742 260 1746 190 1750 123 1754 67 1758 25 1762 3 1767 2 1771 22 1775 62 1779 117 1783 183 1787 254 1791 322 1795 383 1799 429 1803 458 1807 466 1811 452 1815 419 1819 368 1824 305 1828 235 1832 165 1836 102 1840 50 1844 15 1848 0 1852 7 1856 34 1860 80 1864 140 1868 208 1872 278 1876 345 1880 401 1885 442 1889 463 1893 463 1897 443 1901 403 1905 347 1909 281 1913 210 1917 142 1921 82 1925 36 1929 8 1933 0 1937 14 1942 49 1946 100 1950 163 1954 233 1958 303 1962 366 1966 417 1970 452 1974 466 1978 458 1982 430 1986 384 1990 324 1994 256 1999 185 2003 119 2007 63 2011 23 2015 3 2019 3 2023 24 2027 65 2031 121 2035 188 2039 258 2043 326 2047 386 2051 432 2056 459 2060 466 2064 451 2068 416 2072 364 2076 301 2080 231 2084 161 2088 98 2092 47 2096 14 2100 0 2104 8 2108 37 2112 83 2117 144 2121 212 2125 283 2129 349 2133 404 2137 444 2141 464 2145 463 2149 441 2153 399 2157 343 2161 276 2165 206 2169 138 2174 78 2178 33 2182 6 2186 1 2190 16 2194 51 2198 104 2202 168 2206 238 2210 307 2214 370 2218 420 2222 453 2226 466 2231 457 2235 428 2239 381 2243 320 2247 251 2251 181 2255 115 2259 60 2263 21 2267 2 2271 4 2275 26 2279 68 2283 125 2288 192 2292 263 2296 331 2300 389 2304 434 2308 460 2312 465 2316 449 2320 413 2324 361 2328 296 2332 226 2336 157 2340 94 2344 44 2349 12 2353 0 2357 9 2361 39 2365 87 2369 148 2373 217 2377 287 2381 353 2385 407 2389 446 2393 464 2397 462 2401 438 2406 396 2410 339 2414 272 2418 201 2422 133 2426 75 2430 31 2434 5 2438 1 2442 18 2446 54 2450 107 2454 172 2458 242 2463 311 2467 374 2471 423 2475 455 2479 466 2483 456 2487 425 2491 377 2495 316 2499 247 2503 176 2507 111 2511 57 2515 20 2520 1 2524 4 2528 29 2532 72 2536 129 2540 197 2544 267 2548 335 2552 393 2556 436 2560 461 2564 465 2568 447 2572 410 2577 357 2581 292 2585 222 2589 152 2593 91 2597 42 2601 11 2605 0"/>
</g></g>
<text class="tl" x="744.4" y="214.8" text-anchor="end">-1</text>
<text class="tl" x="744.4" y="191.5" text-anchor="end">0</text>
<text class="tl" x="744.4" y="168.2" text-anchor="end">1</text>
<text class="tl" x="749.0" y="233.7" text-anchor="middle">0</text>
<text class="tl" x="879.2" y="233.7" text-anchor="middle">5</text>
<text class="tl" x="1009.5" y="233.7" text-anchor="middle">10</text>
<text class="lb" x="879.2" y="265.4" text-anchor="middle">Time (s)</text>
<text class="yl" transform="translate(714.1,185.0) rotate(-90) scale(0.95,1)" text-anchor="middle">C2</text>
<rect class="box" x="749.0" y="288.5" width="260.5" height="46.6"/>
<path class="tk" d="M879.2 288.5v3.6M879.2 335.1v-3.6M749.0 311.8h3.6M1009.5 311.8h-3.6"/>
<g clip-path="url(#k22)"><g transform="translate(749.0,288.5) scale(0.1)">
<path class="b" d="M0 0L3 12 5 46 8 100 10 167 13 240 16 313 18 378 21 428 23 458 26 466 29 449 31 411 34 354 36 285 39 211 42 139 44 77 47 30 49 4 52 2 55 23 57 65 60 125 63 195 65 269 68 340 70 400 73 443 76 464 78 462 81 436 83 390 86 328 89 256 91 182 94 113 96 56 99 17 102 1 104 7 107 37 109 87 112 151 115 224 117 298 120 365 122 419 125 454 128 466 130 455 133 421 135 368 138 301 141 227 143 154 146 89 148 39 151 8 154 0 156 16 159 54 162 111 164 179 167 253 169 326 172 388 175 435 177 461 180 464 182 444 185 402 188 343 190 272 193 198 195 127 198 67 201 24 203 2 206 4 208 29 211 75 214 136 216 208 219 282 221 352 224 409 227 448 229 465 232 459 234 430 237 380 240 316 242 243 245 169 247 102 250 48 253 13 255 0 258 11 260 44 263 97 266 164 268 237 271 311 274 376 276 427 279 458 281 466 284 450 287 413 289 357 292 288 294 214 297 142 300 79 302 32 305 5 307 1 310 22 313 63 315 122 318 192 320 267 323 337 326 398 328 441 331 464 333 462 336 438 339 392 341 331 344 259 346 185 349 116 352 58 354 19 357 1 359 7 362 35 365 84 367 149 370 221 373 295 375 363 378 417 380 453 383 466 386 455 388 422 391 370 393 304 396 230 399 157 401 91 404 40 406 9 409 0 412 15 414 53 417 108 419 176 422 251 425 323 427 386 430 434 432 461 435 465 438 445 440 404 443 345 445 275 448 201 451 130 453 69 456 25 458 3 461 3 464 27 466 72 469 134 472 205 474 280 477 349 479 407 482 447 485 465 487 460 490 431 492 383 495 319 498 246 500 172 503 104 505 50 508 14 511 0 513 10 516 43 518 95 521 161 524 234 526 308 529 373 531 425 534 457 537 466 539 451 542 414 544 359 547 291 550 217 552 145 555 81 557 33 560 6 563 1 565 20 568 61 570 119 573 189 576 264 578 335 581 396 584 440 586 463 589 463 591 439 594 395 597 334 599 262 602 188 604 118 607 60 610 20 612 1 615 6 617 34 620 82 623 146 625 218 628 292 630 360 633 415 636 452 638 466 641 456 643 424 646 372 649 306 651 233 654 160 656 94 659 42 662 10 664 0 667 14 669 51 672 106 675 174 677 248 680 320 683 384 685 432 688 460 690 465 693 446 696 406 698 348 701 278 703 204 706 132 709 71 711 27 714 3 716 3 719 26 722 70 724 131 727 202 729 277 732 347 735 405 737 446 740 465 742 460 745 433 748 385 750 321 753 249 755 175 758 107 761 52 763 15 766 0 768 9 771 41 774 93 776 158 779 232 781 305 784 371 787 423 789 456 792 466 795 452 797 416 800 362 802 294 805 220 808 147 810 83 813 35 815 6 818 1 821 19 823 59 826 117 828 186 831 261 834 332 836 394 839 439 841 463 844 463 847 441 849 397 852 336 854 265 857 191 860 121 862 62 865 21 867 1 870 5 873 32 875 80 878 143 880 215 883 290 886 358 888 413 891 451 894 466 896 457 899 426 901 375 904 309 907 236 909 162 912 96 914 44 917 11 920 0 922 13 925 49 927 103 930 171 933 245 935 317 938 382 940 431 943 459 946 465 948 447 951 408 953 350 956 281 959 207 961 135 964 74 966 28 969 4 972 2 974 25 977 68 979 129 982 199 985 274 987 344 990 403 993 444 995 465 998 461 1000 434 1003 387 1006 324 1008 252 1011 178 1013 109 1016 53 1019 16 1021 0 1024 8 1026 39 1029 90 1032 155 1034 229 1037 302 1039 369 1042 422 1045 455 1047 466 1050 453 1052 418 1055 364 1058 297 1060 223 1063 150 1065 86 1068 36 1071 7 1073 1 1076 18 1078 57 1081 114 1084 184 1086 258 1089 330 1091 391 1094 437 1097 462 1099 464 1102 442 1105 399 1107 339 1110 268 1112 194 1115 123 1118 64 1120 22 1123 2 1125 5 1128 31 1131 78 1133 140 1136 213 1138 287 1141 355 1144 412 1146 450 1149 466 1151 458 1154 427 1157 377 1159 312 1162 239 1164 165 1167 98 1170 45 1172 11 1175 0 1177 12 1180 47 1183 101 1185 168 1188 242 1190 315 1193 379 1196 429 1198 459 1201 465 1204 449 1206 410 1209 353 1211 284 1214 210 1217 138 1219 76 1222 30 1224 4 1227 2 1230 23 1232 66 1235 126 1237 197 1240 271 1243 341 1245 401 1248 443 1250 464 1253 462 1256 436 1258 389 1261 327 1263 255 1266 181 1269 112 1271 55 1274 17 1276 0 1279 8 1282 38 1284 88 1287 153 1289 226 1292 299 1295 366 1297 420 1300 454 1302 466 1305 454 1308 420 1310 366 1313 299 1316 226 1318 153 1321 88 1323 38 1326 8 1329 0 1331 17 1334 55 1336 112 1339 181 1342 255 1344 327 1347 389 1349 436 1352 462 1355 464 1357 443 1360 401 1362 341 1365 271 1368 197 1370 126 1373 66 1375 23 1378 2 1381 4 1383 30 1386 76 1388 138 1391 210 1394 284 1396 353 1399 410 1401 449 1404 465 1407 459 1409 429 1412 379 1415 315 1417 242 1420 168 1422 101 1425 47 1428 12 1430 0 1433 11 1435 45 1438 98 1441 165 1443 239 1446 312 1448 377 1451 427 1454 458 1456 466 1459 450 1461 412 1464 355 1467 287 1469 213 1472 140 1474 78 1477 31 1480 5 1482 2 1485 22 1487 64 1490 123 1493 194 1495 268 1498 339 1500 399 1503 442 1506 464 1508 462 1511 437 1514 391 1516 330 1519 258 1521 184 1524 114 1527 57 1529 18 1532 1 1534 7 1537 36 1540 86 1542 150 1545 223 1547 297 1550 364 1553 418 1555 453 1558 466 1560 455 1563 422 1566 369 1568 302 1571 229 1573 155 1576 90 1579 39 1581 8 1584 0 1586 16 1589 53 1592 109 1594 178 1597 252 1599 324 1602 387 1605 434 1607 461 1610 465 1612 444 1615 403 1618 344 1620 274 1623 199 1626 129 1628 68 1631 25 1633 2 1636 4 1639 28 1641 74 1644 135 1646 207 1649 281 1652 350 1654 408 1657 447 1659 465 1662 459 1665 431 1667 382 1670 317 1672 245 1675 171 1678 103 1680 49 1683 13 1685 0 1688 11 1691 44 1693 96 1696 162 1698 236 1701 309 1704 375 1706 426 1709 457 1711 466 1714 451 1717 413 1719 358 1722 290 1725 215 1727 143 1730 80 1732 32 1735 5 1738 1 1740 21 1743 62 1745 121 1748 191 1751 265 1753 336 1756 397 1758 441 1761 463 1764 463 1766 439 1769 394 1771 332 1774 261 1777 186 1779 117 1782 59 1784 19 1787 1 1790 6 1792 35 1795 83 1797 147 1800 220 1803 294 1805 362 1808 416 1810 452 1813 466 1816 456 1818 423 1821 371 1824 305 1826 232 1829 158 1831 93 1834 41 1837 9 1839 0 1842 15 1844 52 1847 107 1850 175 1852 249 1855 321 1857 385 1860 433 1863 460 1865 465 1868 446 1870 405 1873 347 1876 277 1878 202 1881 131 1883 70 1886 26 1889 3 1891 3 1894 27 1896 71 1899 132 1902 204 1904 278 1907 348 1909 406 1912 446 1915 465 1917 460 1920 432 1922 384 1925 320 1928 248 1930 174 1933 106 1936 51 1938 14 1941 0 1943 10 1946 42 1949 94 1951 160 1954 233 1956 306 1959 372 1962 424 1964 456 1967 466 1969 452 1972 415 1975 360 1977 292 1980 218 1982 146 1985 82 1988 34 1990 6 1993 1 1995 20 1998 60 2001 118 2003 188 2006 262 2008 334 2011 395 2014 439 2016 463 2019 463 2021 440 2024 396 2027 335 2029 264 2032 189 2035 119 2037 61 2040 20 2042 1 2045 6 2048 33 2050 81 2053 145 2055 217 2058 291 2061 359 2063 414 2066 451 2068 466 2071 457 2074 425 2076 373 2079 308 2081 234 2084 161 2087 95 2089 43 2092 10 2094 0 2097 14 2100 50 2102 104 2105 172 2107 246 2110 319 2113 383 2115 431 2118 460 2120 465 2123 447 2126 407 2128 349 2131 280 2133 205 2136 134 2139 72 2141 27 2144 3 2147 3 2149 25 2152 69 2154 130 2157 201 2160 275 2162 345 2165 404 2167 445 2170 465 2173 461 2175 434 2178 386 2180 323 2183 251 2186 176 2188 108 2191 53 2193 15 2196 0 2199 9 2201 40 2204 91 2206 157 2209 230 2212 304 2214 370 2217 422 2219 455 2222 466 2225 453 2227 417 2230 363 2232 295 2235 221 2238 149 2240 84 2243 35 2246 7 2248 1 2251 19 2253 58 2256 116 2259 185 2261 259 2264 331 2266 392 2269 438 2272 462 2274 464 2277 441 2279 398 2282 337 2285 267 2287 192 2290 122 2292 63 2295 22 2298 1 2300 5 2303 32 2305 79 2308 142 2311 214 2313 288 2316 357 2318 413 2321 450 2324 466 2326 458 2329 427 2331 376 2334 311 2337 237 2339 164 2342 97 2344 44 2347 11 2350 0 2352 13 2355 48 2358 102 2360 169 2363 243 2365 316 2368 380 2371 430 2373 459 2376 465 2378 448 2381 409 2384 352 2386 282 2389 208 2391 136 2394 75 2397 29 2399 4 2402 2 2404 24 2407 67 2410 127 2412 198 2415 272 2417 343 2420 402 2423 444 2425 464 2428 461 2430 435 2433 388 2436 326 2438 253 2441 179 2443 111 2446 54 2449 16 2451 0 2454 8 2457 39 2459 89 2462 154 2464 227 2467 301 2470 368 2472 421 2475 455 2477 466 2480 454 2483 419 2485 365 2488 298 2490 224 2493 151 2496 87 2498 37 2501 7 2503 1 2506 17 2509 56 2511 113 2514 182 2516 256 2519 328 2522 390 2524 436 2527 462 2529 464 2532 443 2535 400 2537 340 2540 269 2542 195 2545 125 2548 65 2550 23 2553 2 2556 4 2558 30 2561 77 2563 139 2566 211 2569 285 2571 354 2574 411 2576 449 2579 466 2582 458 2584 428 2587 378 2589 313 2592 240 2595 167 2597 100 2600 46 2602 12 2605 0"/>
<path class="rd" stroke-dasharray="111.39 111.39" stroke-dashoffset="4.98" d="M0 0L3 12 5 46 8 100 10 167 13 240 16 313 18 378 21 428 23 458 26 466 29 449 31 411 34 354 36 285 39 211 42 139 44 77 47 30 49 4 52 2 55 23 57 65 60 125 63 195 65 269 68 340 70 400 73 443 76 464 78 462 81 436 83 390 86 328 89 256 91 182 94 113 96 56 99 17 102 1 104 7 107 37 109 87 112 151 115 224 117 298 120 365 122 419 125 454 128 466 130 455 133 421 135 368 138 301 141 227 143 154 146 89 148 39 151 8 154 0 156 16 159 54 162 111 164 179 167 253 169 326 172 388 175 435 177 461 180 464 182 444 185 402 188 343 190 272 193 198 195 127 198 67 201 24 203 2 206 4 208 29 211 75 214 136 216 208 219 282 221 352 224 409 227 448 229 465 232 459 234 430 237 380 240 316 242 243 245 169 247 102 250 48 253 13 255 0 258 11 260 44 263 97 266 164 268 237 271 311 274 376 276 427 279 458 281 466 284 450 287 413 289 357 292 288 294 214 297 142 300 79 302 32 305 5 307 1 310 22 313 63 315 122 318 192 320 267 323 337 326 398 328 441 331 464 333 462 336 438 339 392 341 331 344 259 346 185 349 116 352 58 354 19 357 1 359 7 362 35 365 84 367 149 370 221 373 295 375 363 378 417 380 453 383 466 386 455 388 422 391 370 393 304 396 230 399 157 401 91 404 40 406 9 409 0 412 15 414 53 417 108 419 176 422 251 425 323 427 386 430 434 432 461 435 465 438 445 440 404 443 345 445 275 448 201 451 130 453 69 456 25 458 3 461 3 464 27 466 72 469 134 472 205 474 280 477 349 479 407 482 447 485 465 487 460 490 431 492 383 495 319 498 246 500 172 503 104 505 50 508 14 511 0 513 10 516 43 518 95 521 161 524 234 526 308 529 373 531 425 534 457 537 466 539 451 542 414 544 359 547 291 550 217 552 145 555 81 557 33 560 6 563 1 565 20 568 61 570 119 573 189 576 264 578 335 581 396 584 440 586 463 589 463 591 439 594 395 597 334 599 262 602 188 604 118 607 60 610 20 612 1 615 6 617 34 620 82 623 146 625 218 628 292 630 360 633 415 636 452 638 466 641 456 643 424 646 372 649 306 651 233 654 160 656 94 659 42 662 10 664 0 667 14 669 51 672 106 675 174 677 248 680 320 683 384 685 432 688 460 690 465 693 446 696 406 698 348 701 278 703 204 706 132 709 71 711 27 714 3 716 3 719 26 722 70 724 131 727 202 729 277 732 347 735 405 737 446 740 465 742 460 745 433 748 385 750 321 753 249 755 175 758 107 761 52 763 15 766 0 768 9 771 41 774 93 776 158 779 232 781 305 784 371 787 423 789 456 792 466 795 452 797 416 800 362 802 294 805 220 808 147 810 83 813 35 815 6 818 1 821 19 823 59 826 117 828 186 831 261 834 332 836 394 839 439 841 463 844 463 847 441 849 397 852 336 854 265 857 191 860 121 862 62 865 21 867 1 870 5 873 32 875 80 878 143 880 215 883 290 886 358 888 413 891 451 894 466 896 457 899 426 901 375 904 309 907 236 909 162 912 96 914 44 917 11 920 0 922 13 925 49 927 103 930 171 933 245 935 317 938 382 940 431 943 459 946 465 948 447 951 408 953 350 956 281 959 207 961 135 964 74 966 28 969 4 972 2 974 25 977 68 979 129 982 199 985 274 987 344 990 403 993 444 995 465 998 461 1000 434 1003 387 1006 324 1008 252 1011 178 1013 109 1016 53 1019 16 1021 0 1024 8 1026 39 1029 90 1032 155 1034 229 1037 302 1039 369 1042 422 1045 455 1047 466 1050 453 1052 418 1055 364 1058 297 1060 223 1063 150 1065 86 1068 36 1071 7 1073 1 1076 18 1078 57 1081 114 1084 184 1086 258 1089 330 1091 391 1094 437 1097 462 1099 464 1102 442 1105 399 1107 339 1110 268 1112 194 1115 123 1118 64 1120 22 1123 2 1125 5 1128 31 1131 78 1133 140 1136 213 1138 287 1141 355 1144 412 1146 450 1149 466 1151 458 1154 427 1157 377 1159 312 1162 239 1164 165 1167 98 1170 45 1172 11 1175 0 1177 12 1180 47 1183 101 1185 168 1188 242 1190 315 1193 379 1196 429 1198 459 1201 465 1204 449 1206 410 1209 353 1211 284 1214 210 1217 138 1219 76 1222 30 1224 4 1227 2 1230 23 1232 66 1235 126 1237 197 1240 271 1243 341 1245 401 1248 443 1250 464 1253 462 1256 436 1258 389 1261 327 1263 255 1266 181 1269 112 1271 55 1274 17 1276 0 1279 8 1282 38 1284 88 1287 153 1289 226 1292 299 1295 366 1297 420 1300 454 1302 466 1305 454 1308 420 1310 366 1313 299 1316 226 1318 153 1321 88 1323 38 1326 8 1329 0 1331 17 1334 55 1336 112 1339 181 1342 255 1344 327 1347 389 1349 436 1352 462 1355 464 1357 443 1360 401 1362 341 1365 271 1368 197 1370 126 1373 66 1375 23 1378 2 1381 4 1383 30 1386 76 1388 138 1391 210 1394 284 1396 353 1399 410 1401 449 1404 465 1407 459 1409 429 1412 379 1415 315 1417 242 1420 168 1422 101 1425 47 1428 12 1430 0 1433 11 1435 45 1438 98 1441 165 1443 239 1446 312 1448 377 1451 427 1454 458 1456 466 1459 450 1461 412 1464 355 1467 287 1469 213 1472 140 1474 78 1477 31 1480 5 1482 2 1485 22 1487 64 1490 123 1493 194 1495 268 1498 339 1500 399 1503 442 1506 464 1508 462 1511 437 1514 391 1516 330 1519 258 1521 184 1524 114 1527 57 1529 18 1532 1 1534 7 1537 36 1540 86 1542 150 1545 223 1547 297 1550 364 1553 418 1555 453 1558 466 1560 455 1563 422 1566 369 1568 302 1571 229 1573 155 1576 90 1579 39 1581 8 1584 0 1586 16 1589 53 1592 109 1594 178 1597 252 1599 324 1602 387 1605 434 1607 461 1610 465 1612 444 1615 403 1618 344 1620 274 1623 199 1626 129 1628 68 1631 25 1633 2 1636 4 1639 28 1641 74 1644 135 1646 207 1649 281 1652 350 1654 408 1657 447 1659 465 1662 459 1665 431 1667 382 1670 317 1672 245 1675 171 1678 103 1680 49 1683 13 1685 0 1688 11 1691 44 1693 96 1696 162 1698 236 1701 309 1704 375 1706 426 1709 457 1711 466 1714 451 1717 413 1719 358 1722 290 1725 215 1727 143 1730 80 1732 32 1735 5 1738 1 1740 21 1743 62 1745 121 1748 191 1751 265 1753 336 1756 397 1758 441 1761 463 1764 463 1766 439 1769 394 1771 332 1774 261 1777 186 1779 117 1782 59 1784 19 1787 1 1790 6 1792 35 1795 83 1797 147 1800 220 1803 294 1805 362 1808 416 1810 452 1813 466 1816 456 1818 423 1821 371 1824 305 1826 232 1829 158 1831 93 1834 41 1837 9 1839 0 1842 15 1844 52 1847 107 1850 175 1852 249 1855 321 1857 385 1860 433 1863 460 1865 465 1868 446 1870 405 1873 347 1876 277 1878 202 1881 131 1883 70 1886 26 1889 3 1891 3 1894 27 1896 71 1899 132 1902 204 1904 278 1907 348 1909 406 1912 446 1915 465 1917 460 1920 432 1922 384 1925 320 1928 248 1930 174 1933 106 1936 51 1938 14 1941 0 1943 10 1946 42 1949 94 1951 160 1954 233 1956 306 1959 372 1962 424 1964 456 1967 466 1969 452 1972 415 1975 360 1977 292 1980 218 1982 146 1985 82 1988 34 1990 6 1993 1 1995 20 1998 60 2001 118 2003 188 2006 262 2008 334 2011 395 2014 439 2016 463 2019 463 2021 440 2024 396 2027 335 2029 264 2032 189 2035 119 2037 61 2040 20 2042 1 2045 6 2048 33 2050 81 2053 145 2055 217 2058 291 2061 359 2063 414 2066 451 2068 466 2071 457 2074 425 2076 373 2079 308 2081 234 2084 161 2087 95 2089 43 2092 10 2094 0 2097 14 2100 50 2102 104 2105 172 2107 246 2110 319 2113 383 2115 431 2118 460 2120 465 2123 447 2126 407 2128 349 2131 280 2133 205 2136 134 2139 72 2141 27 2144 3 2147 3 2149 25 2152 69 2154 130 2157 201 2160 275 2162 345 2165 404 2167 445 2170 465 2173 461 2175 434 2178 386 2180 323 2183 251 2186 176 2188 108 2191 53 2193 15 2196 0 2199 9 2201 40 2204 91 2206 157 2209 230 2212 304 2214 370 2217 422 2219 455 2222 466 2225 453 2227 417 2230 363 2232 295 2235 221 2238 149 2240 84 2243 35 2246 7 2248 1 2251 19 2253 58 2256 116 2259 185 2261 259 2264 331 2266 392 2269 438 2272 462 2274 464 2277 441 2279 398 2282 337 2285 267 2287 192 2290 122 2292 63 2295 22 2298 1 2300 5 2303 32 2305 79 2308 142 2311 214 2313 288 2316 357 2318 413 2321 450 2324 466 2326 458 2329 427 2331 376 2334 311 2337 237 2339 164 2342 97 2344 44 2347 11 2350 0 2352 13 2355 48 2358 102 2360 169 2363 243 2365 316 2368 380 2371 430 2373 459 2376 465 2378 448 2381 409 2384 352 2386 282 2389 208 2391 136 2394 75 2397 29 2399 4 2402 2 2404 24 2407 67 2410 127 2412 198 2415 272 2417 343 2420 402 2423 444 2425 464 2428 461 2430 435 2433 388 2436 326 2438 253 2441 179 2443 111 2446 54 2449 16 2451 0 2454 8 2457 39 2459 89 2462 154 2464 227 2467 301 2470 368 2472 421 2475 455 2477 466 2480 454 2483 419 2485 365 2488 298 2490 224 2493 151 2496 87 2498 37 2501 7 2503 1 2506 17 2509 56 2511 113 2514 182 2516 256 2519 328 2522 390 2524 436 2527 462 2529 464 2532 443 2535 400 2537 340 2540 269 2542 195 2545 125 2548 65 2550 23 2553 2 2556 4 2558 30 2561 77 2563 139 2566 211 2569 285 2571 354 2574 411 2576 449 2579 466 2582 458 2584 428 2587 378 2589 313 2592 240 2595 167 2597 100 2600 46 2602 12 2605 0"/>
</g></g>
<text class="tl" x="744.4" y="345.3" text-anchor="end">-1</text>
<text class="tl" x="744.4" y="322.0" text-anchor="end">0</text>
<text class="tl" x="744.4" y="298.7" text-anchor="end">1</text>
<text class="tl" x="749.0" y="364.2" text-anchor="middle">0</text>
<text class="tl" x="879.2" y="364.2" text-anchor="middle">5</text>
<text class="tl" x="1009.5" y="364.2" text-anchor="middle">10</text>
<text class="lb" x="879.2" y="395.9" text-anchor="middle">Time (s)</text>
<text class="yl" transform="translate(714.1,315.5) rotate(-90) scale(0.95,1)" text-anchor="middle">C3</text>
<text x="687.8" y="412.2" class="pl">(f)</text>
<rect class="box" x="749.0" y="419.0" width="260.5" height="46.6"/>
<path class="tk" d="M879.2 419.0v3.6M879.2 465.6v-3.6M749.0 442.3h3.6M1009.5 442.3h-3.6"/>
<g clip-path="url(#k23)"><g transform="translate(749.0,419.0) scale(0.1)">
<path class="b" d="M0 23L10 31 21 55 31 91 42 139 52 194 63 251 73 308 83 358 94 399 104 428 115 442 125 439 135 422 146 389 156 345 167 293 177 236 188 178 198 125 208 80 219 47 229 28 240 24 250 36 260 63 271 103 281 153 292 209 302 267 313 322 323 371 333 409 344 433 354 443 365 436 375 414 386 378 396 332 406 277 417 220 427 163 438 112 448 70 458 40 469 25 479 26 490 42 500 73 511 116 521 168 531 225 542 283 552 336 563 382 573 417 584 437 594 442 604 432 615 406 625 367 636 317 646 262 656 204 667 149 677 99 688 60 698 34 709 24 719 29 729 49 740 84 750 130 761 183 771 241 781 298 792 350 802 393 813 424 823 440 834 440 844 425 854 396 865 353 875 302 886 246 896 189 907 136 917 90 927 56 938 35 948 30 959 41 969 66 979 103 990 150 1000 202 1011 254 1021 304 1032 346 1042 378 1052 397 1063 402 1073 394 1084 373 1094 343 1105 307 1115 269 1125 231 1136 198 1146 172 1157 154 1167 146 1177 145 1188 153 1198 165 1209 181 1219 198 1230 215 1240 229 1250 241 1261 249 1271 255 1282 258 1292 260 1302 261 1313 260 1323 258 1334 255 1344 249 1355 241 1365 229 1375 215 1386 198 1396 181 1407 165 1417 153 1428 145 1438 146 1448 154 1459 172 1469 198 1480 231 1490 269 1500 307 1511 343 1521 373 1532 394 1542 402 1553 397 1563 378 1573 346 1584 304 1594 254 1605 202 1615 150 1626 103 1636 66 1646 41 1657 30 1667 35 1678 56 1688 90 1698 136 1709 189 1719 246 1730 302 1740 353 1751 396 1761 425 1771 440 1782 440 1792 424 1803 393 1813 350 1824 298 1834 241 1844 183 1855 130 1865 84 1876 49 1886 29 1896 24 1907 34 1917 60 1928 99 1938 149 1949 204 1959 262 1969 317 1980 367 1990 406 2001 432 2011 442 2021 437 2032 417 2042 382 2053 336 2063 283 2074 225 2084 168 2094 116 2105 73 2115 42 2126 26 2136 25 2147 40 2157 70 2167 112 2178 163 2188 220 2199 277 2209 332 2219 378 2230 414 2240 436 2251 443 2261 433 2272 409 2282 371 2292 322 2303 267 2313 209 2324 153 2334 103 2344 63 2355 36 2365 24 2376 28 2386 47 2397 80 2407 125 2417 178 2428 236 2438 293 2449 345 2459 389 2470 422 2480 439 2490 442 2501 428 2511 399 2522 358 2532 308 2542 251 2553 194 2563 139 2574 91 2584 55 2595 31 2605 23"/>
<path class="rd" stroke-dasharray="111.66 111.66" stroke-dashoffset="4.98" d="M0 23L10 31 21 55 31 91 42 139 52 194 63 251 73 308 83 358 94 399 104 428 115 442 125 439 135 422 146 389 156 345 167 293 177 236 188 178 198 125 208 80 219 47 229 28 240 24 250 36 260 63 271 103 281 153 292 209 302 267 313 322 323 371 333 409 344 433 354 443 365 436 375 414 386 378 396 332 406 277 417 220 427 163 438 112 448 70 458 40 469 25 479 26 490 42 500 73 511 116 521 168 531 225 542 283 552 336 563 382 573 417 584 437 594 442 604 432 615 406 625 367 636 317 646 262 656 204 667 149 677 99 688 60 698 34 709 24 719 29 729 49 740 84 750 130 761 183 771 241 781 298 792 350 802 393 813 424 823 440 834 441 844 426 854 396 865 354 875 303 886 246 896 189 907 135 917 88 927 53 938 31 948 25 959 34 969 59 979 97 990 145 1000 199 1011 256 1021 311 1032 360 1042 399 1052 425 1063 437 1073 432 1084 413 1094 380 1105 337 1115 285 1125 230 1136 176 1146 127 1157 86 1167 57 1177 41 1188 40 1198 53 1209 80 1219 118 1230 165 1240 216 1250 269 1261 318 1271 361 1282 394 1292 415 1302 422 1313 415 1323 394 1334 361 1344 318 1355 269 1365 216 1375 165 1386 118 1396 80 1407 53 1417 40 1428 41 1438 57 1448 86 1459 127 1469 176 1480 230 1490 285 1500 337 1511 380 1521 413 1532 432 1542 437 1553 425 1563 399 1573 360 1584 311 1594 256 1605 199 1615 145 1626 97 1636 59 1646 34 1657 25 1667 31 1678 53 1688 88 1698 135 1709 189 1719 246 1730 303 1740 354 1751 396 1761 426 1771 441 1782 440 1792 424 1803 393 1813 350 1824 298 1834 241 1844 183 1855 130 1865 84 1876 49 1886 29 1896 24 1907 34 1917 60 1928 99 1938 149 1949 204 1959 262 1969 317 1980 367 1990 406 2001 432 2011 442 2021 437 2032 417 2042 382 2053 336 2063 283 2074 225 2084 168 2094 116 2105 73 2115 42 2126 26 2136 25 2147 40 2157 70 2167 112 2178 163 2188 220 2199 277 2209 332 2219 378 2230 414 2240 436 2251 443 2261 433 2272 409 2282 371 2292 322 2303 267 2313 209 2324 153 2334 103 2344 63 2355 36 2365 24 2376 28 2386 47 2397 80 2407 125 2417 178 2428 236 2438 293 2449 345 2459 389 2470 422 2480 439 2490 442 2501 428 2511 399 2522 358 2532 308 2542 251 2553 194 2563 139 2574 91 2584 55 2595 31 2605 23"/>
</g></g>
<text class="tl" x="744.4" y="475.8" text-anchor="end">-1</text>
<text class="tl" x="744.4" y="452.5" text-anchor="end">0</text>
<text class="tl" x="744.4" y="429.2" text-anchor="end">1</text>
<text class="tl" x="749.0" y="494.7" text-anchor="middle">0</text>
<text class="tl" x="879.2" y="494.7" text-anchor="middle">5</text>
<text class="tl" x="1009.5" y="494.7" text-anchor="middle">10</text>
<text class="lb" x="879.2" y="526.4" text-anchor="middle">Time (s)</text>
<text class="yl" transform="translate(714.1,446.0) rotate(-90) scale(0.95,1)" text-anchor="middle">C1</text>
<rect class="box" x="749.0" y="549.5" width="260.5" height="46.6"/>
<path class="tk" d="M879.2 549.5v3.6M879.2 596.1v-3.6M749.0 580.6h3.6M1009.5 580.6h-3.6M749.0 565.0h3.6M1009.5 565.0h-3.6"/>
<g clip-path="url(#k24)"><g transform="translate(749.0,549.5) scale(0.1)">
<path class="b" d="M0 116L4 118 8 123 12 132 16 142 20 153 24 165 28 176 33 185 37 191 41 194 45 193 49 189 53 182 57 172 61 161 65 149 69 138 73 128 77 121 81 117 85 117 90 120 94 126 98 135 102 146 106 158 110 169 114 179 118 187 122 192 126 194 130 192 134 187 138 179 142 168 147 157 151 145 155 134 159 126 163 119 167 117 171 117 175 122 179 129 183 139 187 150 191 162 195 173 199 183 204 190 208 193 212 194 216 191 220 184 224 175 228 164 232 153 236 141 240 131 244 123 248 118 252 117 256 119 260 124 265 132 269 143 273 154 277 166 281 177 285 185 289 191 293 194 297 193 301 189 305 181 309 172 313 160 317 149 322 137 326 128 330 121 334 117 338 117 342 120 346 127 350 136 354 147 358 158 362 170 366 180 370 188 374 193 379 194 383 192 387 187 391 178 395 168 399 156 403 144 407 134 411 125 415 119 419 117 423 118 427 122 431 130 436 139 440 151 444 163 448 174 452 183 456 190 460 194 464 194 468 190 472 184 476 175 480 164 484 152 488 140 493 130 497 123 501 118 505 117 509 119 513 124 517 133 521 143 525 155 529 167 533 177 537 186 541 192 545 194 549 193 554 188 558 181 562 171 566 160 570 148 574 137 578 127 582 121 586 117 590 117 594 120 598 127 602 136 606 147 611 159 615 171 619 181 623 188 627 193 631 194 635 192 639 186 643 178 647 167 651 155 655 144 659 133 663 125 668 119 672 117 676 118 680 122 684 130 688 140 692 152 696 163 700 174 704 184 708 190 712 194 716 194 720 190 725 183 729 174 733 163 737 151 741 140 745 130 749 122 753 118 757 117 761 119 765 125 769 133 773 144 777 156 781 167 786 178 790 186 794 192 798 194 802 193 806 188 810 180 814 170 818 159 822 147 826 136 830 127 834 120 838 117 843 117 847 121 851 128 855 137 859 148 863 160 867 171 871 181 875 189 879 193 883 194 887 191 891 186 895 177 900 166 904 155 908 143 912 133 916 124 920 119 924 117 928 118 932 123 936 131 940 141 944 152 948 164 952 175 957 184 961 191 965 194 969 194 973 190 977 183 981 173 985 162 989 150 993 139 997 129 1001 122 1005 117 1009 117 1014 119 1018 125 1022 134 1026 145 1030 156 1034 168 1038 178 1042 187 1046 192 1050 194 1054 193 1058 188 1062 180 1066 169 1070 158 1075 146 1079 135 1083 126 1087 120 1091 117 1095 117 1099 121 1103 128 1107 138 1111 149 1115 161 1119 172 1123 182 1127 189 1132 194 1136 195 1140 192 1144 186 1148 178 1152 167 1156 156 1160 145 1164 136 1168 129 1172 124 1176 124 1180 127 1184 134 1189 145 1193 158 1197 172 1201 188 1205 203 1209 216 1213 228 1217 237 1221 242 1225 245 1229 245 1233 243 1237 240 1241 237 1246 235 1250 235 1254 237 1258 242 1262 250 1266 262 1270 276 1274 293 1278 311 1282 329 1286 345 1290 360 1294 371 1298 378 1302 381 1307 378 1311 372 1315 361 1319 347 1323 331 1327 315 1331 298 1335 282 1339 269 1343 259 1347 251 1351 247 1355 245 1359 246 1364 247 1368 249 1372 250 1376 248 1380 243 1384 233 1388 220 1392 202 1396 181 1400 157 1404 132 1408 108 1412 86 1416 69 1421 57 1425 51 1429 52 1433 58 1437 70 1441 86 1445 104 1449 124 1453 143 1457 160 1461 173 1465 183 1469 189 1473 190 1478 187 1482 181 1486 172 1490 161 1494 149 1498 138 1502 128 1506 121 1510 117 1514 117 1518 120 1522 126 1526 135 1530 146 1535 158 1539 170 1543 180 1547 188 1551 193 1555 194 1559 192 1563 187 1567 178 1571 168 1575 156 1579 145 1583 134 1587 125 1591 119 1596 117 1600 117 1604 122 1608 129 1612 139 1616 150 1620 162 1624 173 1628 183 1632 190 1636 194 1640 194 1644 191 1648 184 1653 175 1657 164 1661 152 1665 141 1669 131 1673 123 1677 118 1681 117 1685 119 1689 124 1693 133 1697 143 1701 155 1705 166 1710 177 1714 186 1718 191 1722 194 1726 193 1730 189 1734 181 1738 171 1742 160 1746 148 1750 137 1754 128 1758 121 1762 117 1767 117 1771 120 1775 127 1779 136 1783 147 1787 159 1791 170 1795 180 1799 188 1803 193 1807 194 1811 192 1815 186 1819 178 1824 167 1828 156 1832 144 1836 133 1840 125 1844 119 1848 117 1852 118 1856 122 1860 130 1864 140 1868 151 1872 163 1876 174 1880 183 1885 190 1889 194 1893 194 1897 190 1901 184 1905 174 1909 163 1913 152 1917 140 1921 130 1925 122 1929 118 1933 117 1937 119 1942 125 1946 133 1950 144 1954 155 1958 167 1962 178 1966 186 1970 192 1974 194 1978 193 1982 188 1986 181 1990 171 1994 159 1999 147 2003 136 2007 127 2011 120 2015 117 2019 117 2023 121 2027 127 2031 137 2035 148 2039 160 2043 171 2047 181 2051 188 2056 193 2060 194 2064 192 2068 186 2072 177 2076 167 2080 155 2084 143 2088 133 2092 124 2096 119 2100 117 2104 118 2108 123 2112 130 2117 140 2121 152 2125 164 2129 175 2133 184 2137 190 2141 194 2145 194 2149 190 2153 183 2157 174 2161 163 2165 151 2169 139 2174 130 2178 122 2182 118 2186 117 2190 119 2194 125 2198 134 2202 144 2206 156 2210 168 2214 178 2218 187 2222 192 2226 194 2231 193 2235 188 2239 180 2243 170 2247 158 2251 147 2255 136 2259 127 2263 120 2267 117 2271 117 2275 121 2279 128 2283 137 2288 149 2292 160 2296 172 2300 181 2304 189 2308 193 2312 194 2316 191 2320 185 2324 177 2328 166 2332 154 2336 143 2340 132 2344 124 2349 119 2353 117 2357 118 2361 123 2365 131 2369 141 2373 153 2377 164 2381 175 2385 184 2389 191 2393 194 2397 193 2401 190 2406 183 2410 173 2414 162 2418 150 2422 139 2426 129 2430 122 2434 117 2438 117 2442 119 2446 126 2450 134 2454 145 2458 157 2463 168 2467 179 2471 187 2475 192 2479 194 2483 192 2487 187 2491 179 2495 169 2499 158 2503 146 2507 135 2511 126 2515 120 2520 117 2524 117 2528 121 2532 128 2536 138 2540 149 2544 161 2548 172 2552 182 2556 189 2560 193 2564 194 2568 191 2572 185 2577 176 2581 165 2585 153 2589 142 2593 132 2597 123 2601 118 2605 116"/>
<path class="rd" stroke-dasharray="111.63 111.63" stroke-dashoffset="4.98" d="M0 0L4 7 8 28 12 60 16 102 20 148 24 195 28 238 33 273 37 298 41 310 45 307 49 291 53 262 57 223 61 178 65 131 69 86 73 48 77 19 81 3 85 1 90 13 94 38 98 74 102 118 106 164 110 211 114 251 118 284 122 304 126 311 130 303 134 282 138 249 142 208 147 161 151 115 155 72 159 36 163 12 167 1 171 4 175 21 179 50 183 89 187 134 191 181 195 226 199 264 204 292 208 308 212 310 216 297 220 271 224 235 228 192 232 145 236 99 240 58 244 26 248 6 252 0 256 8 260 30 265 63 269 104 273 151 277 197 281 240 285 275 289 299 293 310 297 307 301 289 305 260 309 220 313 175 317 128 322 83 326 45 330 18 334 2 338 1 342 14 346 40 350 77 354 121 358 168 362 213 366 254 370 285 374 305 379 311 383 302 387 280 391 247 395 205 399 158 403 112 407 69 411 34 415 11 419 0 423 4 427 22 431 52 436 92 440 137 444 184 448 229 452 266 456 294 460 309 464 309 468 296 472 269 476 233 480 189 484 142 488 96 493 56 497 25 501 5 505 0 509 9 513 31 517 65 521 107 525 154 529 200 533 243 537 277 541 301 545 310 549 306 554 288 558 257 562 218 566 172 570 125 574 81 578 43 582 16 586 2 590 2 594 16 598 42 602 79 606 124 611 171 615 216 619 256 623 287 627 306 631 310 635 301 639 278 643 244 647 202 651 155 655 109 659 67 663 32 668 10 672 0 676 5 680 24 684 54 688 94 692 140 696 187 700 231 704 268 708 295 712 309 716 309 720 294 725 267 729 230 733 186 737 139 741 93 745 53 749 23 753 5 757 0 761 10 765 33 769 68 773 110 777 157 781 203 786 245 790 279 794 302 798 311 802 305 806 286 810 255 814 215 818 169 822 122 826 78 830 41 834 15 838 1 843 2 847 17 851 44 855 82 859 127 863 174 867 219 871 259 875 289 879 306 883 310 887 300 891 276 895 242 900 199 904 152 908 106 912 64 916 31 920 9 924 0 928 6 932 25 936 57 940 97 944 143 948 190 952 234 957 270 961 296 965 309 969 308 973 293 977 265 981 227 985 183 989 136 993 90 997 51 1001 21 1005 4 1009 0 1014 11 1018 35 1022 70 1026 113 1030 160 1034 206 1038 248 1042 281 1046 303 1050 311 1054 304 1058 284 1062 253 1066 212 1070 166 1075 119 1079 75 1083 39 1087 14 1091 1 1095 3 1099 18 1103 47 1107 85 1111 130 1115 177 1119 222 1123 261 1127 290 1132 307 1136 310 1140 299 1144 274 1148 239 1152 196 1156 149 1160 103 1164 62 1168 29 1172 8 1176 0 1180 7 1184 27 1189 59 1193 100 1197 146 1201 193 1205 236 1209 272 1213 298 1217 310 1221 308 1225 292 1229 263 1233 224 1237 180 1241 133 1246 88 1250 49 1254 20 1258 3 1262 1 1266 12 1270 37 1274 73 1278 116 1282 163 1286 209 1290 250 1294 283 1298 304 1302 311 1307 304 1311 283 1315 250 1319 209 1323 163 1327 116 1331 73 1335 37 1339 12 1343 1 1347 3 1351 20 1355 49 1359 88 1364 133 1368 180 1372 224 1376 263 1380 292 1384 308 1388 310 1392 298 1396 272 1400 236 1404 193 1408 146 1412 100 1416 59 1421 27 1425 7 1429 0 1433 8 1437 29 1441 62 1445 103 1449 149 1453 196 1457 239 1461 274 1465 299 1469 310 1473 307 1478 290 1482 261 1486 222 1490 177 1494 130 1498 85 1502 47 1506 18 1510 3 1514 1 1518 14 1522 39 1526 75 1530 119 1535 166 1539 212 1543 253 1547 284 1551 304 1555 311 1559 303 1563 281 1567 248 1571 206 1575 160 1579 113 1583 70 1587 35 1591 11 1596 0 1600 4 1604 21 1608 51 1612 90 1616 136 1620 183 1624 227 1628 265 1632 293 1636 308 1640 309 1644 296 1648 270 1653 234 1657 190 1661 143 1665 97 1669 57 1673 25 1677 6 1681 0 1685 9 1689 31 1693 64 1697 106 1701 152 1705 199 1710 242 1714 276 1718 300 1722 310 1726 306 1730 289 1734 259 1738 219 1742 174 1746 127 1750 82 1754 44 1758 17 1762 2 1767 1 1771 15 1775 41 1779 78 1783 122 1787 169 1791 215 1795 255 1799 286 1803 305 1807 311 1811 302 1815 279 1819 245 1824 203 1828 157 1832 110 1836 68 1840 33 1844 10 1848 0 1852 5 1856 23 1860 53 1864 93 1868 139 1872 186 1876 230 1880 267 1885 294 1889 309 1893 309 1897 295 1901 268 1905 231 1909 187 1913 140 1917 94 1921 54 1925 24 1929 5 1933 0 1937 10 1942 32 1946 67 1950 109 1954 155 1958 202 1962 244 1966 278 1970 301 1974 310 1978 306 1982 287 1986 256 1990 216 1994 171 1999 124 2003 79 2007 42 2011 16 2015 2 2019 2 2023 16 2027 43 2031 81 2035 125 2039 172 2043 218 2047 257 2051 288 2056 306 2060 310 2064 301 2068 277 2072 243 2076 200 2080 154 2084 107 2088 65 2092 31 2096 9 2100 0 2104 5 2108 25 2112 56 2117 96 2121 142 2125 189 2129 233 2133 269 2137 296 2141 309 2145 309 2149 294 2153 266 2157 229 2161 184 2165 137 2169 92 2174 52 2178 22 2182 4 2186 0 2190 11 2194 34 2198 69 2202 112 2206 158 2210 205 2214 247 2218 280 2222 302 2226 311 2231 305 2235 285 2239 254 2243 213 2247 168 2251 121 2255 77 2259 40 2263 14 2267 1 2271 2 2275 18 2279 45 2283 83 2288 128 2292 175 2296 220 2300 260 2304 289 2308 307 2312 310 2316 299 2320 275 2324 240 2328 197 2332 151 2336 104 2340 63 2344 30 2349 8 2353 0 2357 6 2361 26 2365 58 2369 99 2373 145 2377 192 2381 235 2385 271 2389 297 2393 310 2397 308 2401 292 2406 264 2410 226 2414 181 2418 134 2422 89 2426 50 2430 21 2434 4 2438 1 2442 12 2446 36 2450 72 2454 115 2458 161 2463 208 2467 249 2471 282 2475 303 2479 311 2483 304 2487 284 2491 251 2495 211 2499 164 2503 118 2507 74 2511 38 2515 13 2520 1 2524 3 2528 19 2532 48 2536 86 2540 131 2544 178 2548 223 2552 262 2556 291 2560 307 2564 310 2568 298 2572 273 2577 238 2581 195 2585 148 2589 102 2593 60 2597 28 2601 7 2605 0"/>
</g></g>
<text class="tl" x="744.4" y="606.3" text-anchor="end">-2</text>
<text class="tl" x="744.4" y="590.8" text-anchor="end">-1</text>
<text class="tl" x="744.4" y="575.2" text-anchor="end">0</text>
<text class="tl" x="744.4" y="559.7" text-anchor="end">1</text>
<text class="tl" x="749.0" y="625.2" text-anchor="middle">0</text>
<text class="tl" x="879.2" y="625.2" text-anchor="middle">5</text>
<text class="tl" x="1009.5" y="625.2" text-anchor="middle">10</text>
<text class="lb" x="879.2" y="656.9" text-anchor="middle">Time (s)</text>
<text class="yl" transform="translate(714.1,576.5) rotate(-90) scale(0.95,1)" text-anchor="middle">C2</text>
<rect class="box" x="749.0" y="680.0" width="260.5" height="46.6"/>
<path class="tk" d="M879.2 680.0v3.6M879.2 726.6v-3.6M749.0 703.3h3.6M1009.5 703.3h-3.6"/>
<g clip-path="url(#k25)"><g transform="translate(749.0,680.0) scale(0.1)">
<path class="b" d="M0 134L3 139 5 153 8 176 10 204 13 235 16 266 18 294 21 316 23 330 26 335 29 330 31 316 34 295 36 269 39 240 42 212 44 187 47 168 49 157 52 155 55 161 57 175 60 195 63 218 65 242 68 264 70 281 73 290 76 292 78 284 81 267 83 244 86 216 89 186 91 158 94 134 96 118 99 111 102 116 104 133 107 159 109 195 112 237 115 281 117 324 120 362 122 392 125 410 128 416 130 409 133 389 135 357 138 317 141 272 143 225 146 180 148 141 151 110 154 90 156 81 159 84 162 97 164 119 167 147 169 177 172 207 175 233 177 255 180 269 182 276 185 275 188 269 190 258 193 245 195 233 198 223 201 219 203 220 206 229 208 244 211 264 214 287 216 311 219 332 221 349 224 357 227 357 229 345 232 323 234 292 237 253 240 209 242 164 245 121 247 84 250 57 253 41 255 38 258 49 260 73 263 108 266 152 268 200 271 250 274 297 276 337 279 369 281 389 284 397 287 393 289 378 292 354 294 324 297 291 300 258 302 229 305 205 307 189 310 180 313 179 315 185 318 196 320 209 323 222 326 233 328 239 331 240 333 233 336 221 339 204 341 183 344 161 346 142 349 127 352 119 354 121 357 132 359 154 362 185 365 223 367 265 370 309 373 350 375 385 378 410 380 424 383 425 386 412 388 386 391 349 393 305 396 255 399 205 401 158 404 118 406 87 409 68 412 61 414 67 417 84 419 110 422 142 425 178 427 212 430 244 432 270 435 288 438 297 440 299 443 293 445 282 448 268 451 254 453 241 456 233 458 230 461 234 464 244 466 259 469 278 472 297 474 315 477 328 479 335 482 333 485 322 487 301 490 271 492 234 495 193 498 152 500 113 503 80 505 56 508 45 511 46 513 61 516 88 518 126 521 172 524 222 526 272 529 319 531 359 534 389 537 407 539 412 542 404 544 385 547 356 550 322 552 284 555 247 557 214 560 187 563 167 565 157 568 155 570 161 573 172 576 187 578 203 581 218 584 228 586 233 589 232 591 224 594 212 597 195 599 178 602 161 604 149 607 143 610 145 612 156 615 176 617 205 620 240 623 279 625 319 628 356 630 386 633 407 636 417 638 414 641 397 643 369 646 330 649 283 651 233 654 183 656 136 659 97 662 69 664 52 667 49 669 59 672 80 675 110 677 147 680 187 683 226 685 261 688 290 690 310 693 321 696 323 698 317 701 305 703 288 706 271 709 254 711 242 714 234 716 233 719 238 722 248 724 263 727 279 729 294 732 305 735 311 737 309 740 299 742 279 745 252 748 219 750 182 753 144 755 110 758 81 761 62 763 54 766 59 768 77 771 107 774 147 776 194 779 244 781 294 784 340 787 378 789 405 792 420 795 421 797 410 800 386 802 353 805 314 808 273 810 232 813 195 815 165 818 144 821 133 823 131 826 138 828 151 831 169 834 188 836 207 839 222 841 232 844 236 847 233 849 225 852 212 854 198 857 184 860 173 862 167 865 169 867 178 870 196 873 222 875 254 878 288 880 324 883 356 886 382 888 399 891 405 894 398 896 379 899 348 901 308 904 261 907 211 909 161 912 117 914 80 917 54 920 41 922 42 925 56 927 81 930 116 933 157 935 201 938 243 940 281 943 312 946 334 948 345 951 347 953 339 956 324 959 305 961 283 964 262 966 245 969 233 972 226 974 227 977 233 979 244 982 257 985 270 987 281 990 287 993 286 995 277 998 261 1000 237 1003 208 1006 175 1008 142 1011 112 1013 88 1016 73 1019 69 1021 77 1024 97 1026 129 1029 169 1032 216 1034 266 1037 314 1039 358 1042 393 1045 417 1047 428 1050 426 1052 410 1055 382 1058 345 1060 302 1063 257 1065 213 1068 174 1071 143 1073 121 1076 109 1078 108 1081 117 1084 133 1086 155 1089 178 1091 202 1094 222 1097 236 1099 245 1102 247 1105 242 1107 233 1110 221 1112 208 1115 198 1118 191 1120 191 1123 198 1125 213 1128 235 1131 262 1133 292 1136 323 1138 351 1141 372 1144 386 1146 388 1149 379 1151 358 1154 326 1157 285 1159 239 1162 190 1164 143 1167 100 1170 67 1172 45 1175 36 1177 40 1180 59 1183 88 1185 127 1188 172 1190 218 1193 263 1196 303 1198 335 1201 357 1204 368 1206 368 1209 358 1211 340 1214 316 1217 291 1219 265 1222 243 1224 225 1227 215 1230 211 1232 214 1235 222 1237 233 1240 245 1243 256 1245 263 1248 265 1250 259 1253 246 1256 227 1258 202 1261 174 1263 146 1266 120 1269 100 1271 89 1274 88 1276 98 1279 119 1282 151 1284 192 1287 238 1289 286 1292 332 1295 372 1297 404 1300 424 1302 431 1305 424 1308 404 1310 372 1313 332 1316 286 1318 238 1321 192 1323 151 1326 119 1329 98 1331 88 1334 89 1336 100 1339 120 1342 146 1344 174 1347 202 1349 227 1352 246 1355 259 1357 265 1360 263 1362 256 1365 245 1368 233 1370 222 1373 214 1375 211 1378 215 1381 225 1383 243 1386 265 1388 291 1391 316 1394 340 1396 358 1399 368 1401 368 1404 357 1407 335 1409 303 1412 263 1415 218 1417 172 1420 127 1422 88 1425 59 1428 40 1430 36 1433 45 1435 67 1438 100 1441 143 1443 190 1446 239 1448 285 1451 326 1454 358 1456 379 1459 388 1461 386 1464 372 1467 351 1469 323 1472 292 1474 262 1477 235 1480 213 1482 198 1485 191 1487 191 1490 198 1493 208 1495 221 1498 233 1500 242 1503 247 1506 245 1508 236 1511 222 1514 202 1516 178 1519 155 1521 133 1524 117 1527 108 1529 109 1532 121 1534 143 1537 174 1540 213 1542 257 1545 302 1547 345 1550 382 1553 410 1555 426 1558 428 1560 417 1563 393 1566 358 1568 314 1571 266 1573 216 1576 169 1579 129 1581 97 1584 77 1586 69 1589 73 1592 88 1594 112 1597 142 1599 175 1602 208 1605 237 1607 261 1610 277 1612 286 1615 287 1618 281 1620 270 1623 257 1626 244 1628 233 1631 227 1633 226 1636 233 1639 245 1641 262 1644 283 1646 305 1649 324 1652 339 1654 347 1657 345 1659 334 1662 312 1665 281 1667 243 1670 201 1672 157 1675 116 1678 81 1680 56 1683 42 1685 41 1688 54 1691 80 1693 117 1696 161 1698 211 1701 261 1704 308 1706 348 1709 379 1711 398 1714 405 1717 399 1719 382 1722 356 1725 324 1727 288 1730 254 1732 222 1735 196 1738 178 1740 169 1743 167 1745 173 1748 184 1751 198 1753 212 1756 225 1758 233 1761 236 1764 232 1766 222 1769 207 1771 188 1774 169 1777 151 1779 138 1782 131 1784 133 1787 144 1790 165 1792 195 1795 232 1797 273 1800 314 1803 353 1805 386 1808 410 1810 421 1813 420 1816 405 1818 378 1821 340 1824 294 1826 244 1829 194 1831 147 1834 107 1837 77 1839 59 1842 54 1844 62 1847 81 1850 110 1852 144 1855 182 1857 219 1860 252 1863 279 1865 299 1868 309 1870 311 1873 305 1876 294 1878 279 1881 263 1883 248 1886 238 1889 233 1891 234 1894 242 1896 254 1899 271 1902 288 1904 305 1907 317 1909 323 1912 321 1915 310 1917 290 1920 261 1922 226 1925 187 1928 147 1930 110 1933 80 1936 59 1938 49 1941 52 1943 69 1946 97 1949 136 1951 183 1954 233 1956 283 1959 330 1962 369 1964 397 1967 414 1969 417 1972 407 1975 386 1977 356 1980 319 1982 279 1985 240 1988 205 1990 176 1993 156 1995 145 1998 143 2001 149 2003 161 2006 178 2008 195 2011 212 2014 224 2016 232 2019 233 2021 228 2024 218 2027 203 2029 187 2032 172 2035 161 2037 155 2040 157 2042 167 2045 187 2048 214 2050 247 2053 284 2055 322 2058 356 2061 385 2063 404 2066 412 2068 407 2071 389 2074 359 2076 319 2079 272 2081 222 2084 172 2087 126 2089 88 2092 61 2094 46 2097 45 2100 56 2102 80 2105 113 2107 152 2110 193 2113 234 2115 271 2118 301 2120 322 2123 333 2126 335 2128 328 2131 315 2133 297 2136 278 2139 259 2141 244 2144 234 2147 230 2149 233 2152 241 2154 254 2157 268 2160 282 2162 293 2165 299 2167 297 2170 288 2173 270 2175 244 2178 212 2180 178 2183 142 2186 110 2188 84 2191 67 2193 61 2196 68 2199 87 2201 118 2204 158 2206 205 2209 255 2212 305 2214 349 2217 386 2219 412 2222 425 2225 424 2227 410 2230 385 2232 350 2235 309 2238 265 2240 223 2243 185 2246 154 2248 132 2251 121 2253 119 2256 127 2259 142 2261 161 2264 183 2266 204 2269 221 2272 233 2274 240 2277 239 2279 233 2282 222 2285 209 2287 196 2290 185 2292 179 2295 180 2298 189 2300 205 2303 229 2305 258 2308 291 2311 324 2313 354 2316 378 2318 393 2321 397 2324 389 2326 369 2329 337 2331 297 2334 250 2337 200 2339 152 2342 108 2344 73 2347 49 2350 38 2352 40 2355 56 2358 84 2360 121 2363 164 2365 209 2368 253 2371 292 2373 323 2376 345 2378 357 2381 358 2384 349 2386 333 2389 311 2391 288 2394 264 2397 244 2399 230 2402 221 2404 219 2407 224 2410 233 2412 245 2415 258 2417 268 2420 275 2423 275 2425 268 2428 253 2430 231 2433 204 2436 174 2438 143 2441 115 2443 94 2446 80 2449 78 2451 87 2454 108 2457 140 2459 181 2462 227 2464 276 2467 323 2470 366 2472 399 2475 421 2477 430 2480 426 2483 407 2485 378 2488 339 2490 294 2493 248 2496 203 2498 163 2501 131 2503 109 2506 98 2509 98 2511 108 2514 126 2516 150 2519 175 2522 201 2524 223 2527 241 2529 251 2532 255 2535 252 2537 244 2540 233 2542 221 2545 210 2548 203 2550 201 2553 207 2556 220 2558 239 2561 264 2563 292 2566 320 2569 346 2571 366 2574 377 2576 378 2579 368 2582 347 2584 315 2587 274 2589 228 2592 180 2595 134 2597 94 2600 62 2602 42 2605 35"/>
<path class="rd" stroke-dasharray="111.26 111.26" stroke-dashoffset="4.97" d="M0 116L3 122 5 140 8 166 10 200 13 237 16 273 18 306 21 331 23 346 26 349 29 341 31 322 34 294 36 259 39 222 42 186 44 155 47 132 49 119 52 117 55 128 57 149 60 179 63 214 65 251 68 287 70 316 73 338 76 348 78 347 81 335 83 312 86 281 89 245 91 208 94 173 96 145 99 125 102 117 104 120 107 135 109 160 112 192 115 229 117 266 120 299 122 326 125 343 128 349 130 344 133 327 135 300 138 267 141 230 143 194 146 161 148 136 151 121 154 117 156 125 159 144 162 172 164 206 167 243 169 279 172 311 175 334 177 347 180 349 182 338 185 317 188 288 190 253 193 215 195 180 198 150 201 129 203 118 206 118 208 131 211 154 214 185 216 221 219 258 221 292 224 321 227 340 229 349 232 346 234 331 237 307 240 275 242 238 245 201 247 168 250 141 253 123 255 117 258 122 260 139 263 165 266 198 268 235 271 272 274 304 276 330 279 345 281 349 284 342 287 323 289 295 292 261 294 223 297 187 300 156 302 132 305 119 307 117 310 127 313 148 315 178 318 213 320 250 323 285 326 315 328 337 331 348 333 348 336 335 339 313 341 282 344 246 346 209 349 174 352 146 354 126 357 117 359 120 362 134 365 159 367 191 370 227 373 264 375 298 378 325 380 343 383 349 386 344 388 328 391 301 393 268 396 232 399 195 401 162 404 137 406 121 409 117 412 124 414 143 417 171 419 205 422 242 425 278 427 309 430 333 432 347 435 349 438 339 440 318 443 289 445 254 448 217 451 181 453 151 456 129 458 118 461 118 464 130 466 153 469 183 472 219 474 256 477 291 479 320 482 340 485 349 487 346 490 332 492 308 495 276 498 240 500 203 503 169 505 141 508 123 511 117 513 122 516 138 518 164 521 197 524 234 526 270 529 303 531 329 534 345 537 349 539 342 542 324 544 296 547 262 550 225 552 189 555 157 557 133 560 119 563 117 565 127 568 147 570 176 573 211 576 248 578 284 581 314 584 336 586 348 589 348 591 336 594 314 597 283 599 248 602 210 604 176 607 147 610 126 612 117 615 119 617 133 620 158 623 189 625 226 628 263 630 297 633 324 636 342 638 349 641 345 643 329 646 303 649 270 651 233 654 196 656 163 659 137 662 121 664 117 667 124 669 142 672 169 675 203 677 240 680 277 683 308 685 333 688 347 690 349 693 340 696 319 698 290 701 256 703 218 706 183 709 152 711 130 714 118 716 118 719 130 722 152 724 182 727 218 729 255 732 290 735 319 737 339 740 349 742 347 745 333 748 309 750 277 753 241 755 204 758 170 761 142 763 124 766 117 768 121 771 137 774 163 776 196 779 232 781 269 784 302 787 328 789 344 792 349 795 343 797 325 800 297 802 263 805 226 808 190 810 158 813 134 815 120 818 117 821 126 823 146 826 175 828 210 831 247 834 283 836 313 839 336 841 348 844 348 847 337 849 315 852 285 854 249 857 212 860 177 862 148 865 127 867 117 870 119 873 133 875 157 878 188 880 224 883 261 886 295 888 323 891 342 894 349 896 345 899 329 901 304 904 271 907 234 909 198 912 165 914 138 917 122 920 117 922 123 925 141 927 168 930 202 933 239 935 275 938 307 940 332 943 346 946 349 948 340 951 320 953 292 956 257 959 220 961 184 964 153 966 131 969 118 972 118 974 129 977 151 979 181 982 216 985 253 987 288 990 318 993 339 995 349 998 347 1000 334 1003 310 1006 279 1008 243 1011 205 1013 171 1016 143 1019 124 1021 117 1024 121 1026 136 1029 162 1032 194 1034 231 1037 268 1039 301 1042 327 1045 344 1047 349 1050 343 1052 325 1055 298 1058 265 1060 228 1063 191 1065 159 1068 135 1071 120 1073 117 1076 126 1078 145 1081 174 1084 208 1086 245 1089 281 1091 312 1094 335 1097 348 1099 348 1102 337 1105 316 1107 286 1110 251 1112 213 1115 178 1118 149 1120 128 1123 117 1125 119 1128 132 1131 155 1133 187 1136 223 1138 260 1141 294 1144 322 1146 341 1149 349 1151 345 1154 330 1157 305 1159 272 1162 236 1164 199 1167 166 1170 139 1172 122 1175 117 1177 123 1180 140 1183 167 1185 200 1188 237 1190 274 1193 306 1196 331 1198 346 1201 349 1204 341 1206 321 1209 293 1211 258 1214 221 1217 185 1219 154 1222 131 1224 119 1227 118 1230 128 1232 150 1235 179 1237 215 1240 252 1243 287 1245 317 1248 338 1250 349 1253 347 1256 334 1258 311 1261 280 1263 244 1266 207 1269 172 1271 144 1274 125 1276 117 1279 120 1282 135 1284 160 1287 193 1289 229 1292 266 1295 300 1297 326 1300 344 1302 350 1305 344 1308 326 1310 300 1313 266 1316 229 1318 193 1321 160 1323 135 1326 120 1329 117 1331 125 1334 144 1336 172 1339 207 1342 244 1344 280 1347 311 1349 334 1352 347 1355 349 1357 338 1360 317 1362 287 1365 252 1368 215 1370 179 1373 150 1375 128 1378 118 1381 119 1383 131 1386 154 1388 185 1391 221 1394 258 1396 293 1399 321 1401 341 1404 349 1407 346 1409 331 1412 306 1415 274 1417 237 1420 200 1422 167 1425 140 1428 123 1430 117 1433 122 1435 139 1438 166 1441 199 1443 236 1446 272 1448 305 1451 330 1454 345 1456 349 1459 341 1461 322 1464 294 1467 260 1469 223 1472 187 1474 155 1477 132 1480 119 1482 117 1485 128 1487 149 1490 178 1493 213 1495 251 1498 286 1500 316 1503 337 1506 348 1508 348 1511 335 1514 312 1516 281 1519 245 1521 208 1524 174 1527 145 1529 126 1532 117 1534 120 1537 135 1540 159 1542 191 1545 228 1547 265 1550 298 1553 325 1555 343 1558 349 1560 344 1563 327 1566 301 1568 268 1571 231 1573 194 1576 162 1579 136 1581 121 1584 117 1586 124 1589 143 1592 171 1594 205 1597 243 1599 279 1602 310 1605 334 1607 347 1610 349 1612 339 1615 318 1618 288 1620 253 1623 216 1626 181 1628 151 1631 129 1633 118 1636 118 1639 131 1641 153 1644 184 1646 220 1649 257 1652 292 1654 320 1657 340 1659 349 1662 346 1665 332 1667 307 1670 275 1672 239 1675 202 1678 168 1680 141 1683 123 1685 117 1688 122 1691 138 1693 165 1696 198 1698 234 1701 271 1704 304 1706 329 1709 345 1711 349 1714 342 1717 323 1719 295 1722 261 1725 224 1727 188 1730 157 1732 133 1735 119 1738 117 1740 127 1743 148 1745 177 1748 212 1751 249 1753 285 1756 315 1758 337 1761 348 1764 348 1766 336 1769 313 1771 283 1774 247 1777 210 1779 175 1782 146 1784 126 1787 117 1790 120 1792 134 1795 158 1797 190 1800 226 1803 263 1805 297 1808 325 1810 343 1813 349 1816 344 1818 328 1821 302 1824 269 1826 232 1829 196 1831 163 1834 137 1837 121 1839 117 1842 124 1844 142 1847 170 1850 204 1852 241 1855 277 1857 309 1860 333 1863 347 1865 349 1868 339 1870 319 1873 290 1876 255 1878 218 1881 182 1883 152 1886 130 1889 118 1891 118 1894 130 1896 152 1899 183 1902 218 1904 256 1907 290 1909 319 1912 340 1915 349 1917 347 1920 333 1922 308 1925 277 1928 240 1930 203 1933 169 1936 142 1938 124 1941 117 1943 121 1946 137 1949 163 1951 196 1954 233 1956 270 1959 303 1962 329 1964 345 1967 349 1969 342 1972 324 1975 297 1977 263 1980 226 1982 189 1985 158 1988 133 1990 119 1993 117 1995 126 1998 147 2001 176 2003 210 2006 248 2008 283 2011 314 2014 336 2016 348 2019 348 2021 336 2024 314 2027 284 2029 248 2032 211 2035 176 2037 147 2040 127 2042 117 2045 119 2048 133 2050 157 2053 189 2055 225 2058 262 2061 296 2063 324 2066 342 2068 349 2071 345 2074 329 2076 303 2079 270 2081 234 2084 197 2087 164 2089 138 2092 122 2094 117 2097 123 2100 141 2102 169 2105 203 2107 240 2110 276 2113 308 2115 332 2118 346 2120 349 2123 340 2126 320 2128 291 2131 256 2133 219 2136 183 2139 153 2141 130 2144 118 2147 118 2149 129 2152 151 2154 181 2157 217 2160 254 2162 289 2165 318 2167 339 2170 349 2173 347 2175 333 2178 309 2180 278 2183 242 2186 205 2188 171 2191 143 2193 124 2196 117 2199 121 2201 137 2204 162 2206 195 2209 232 2212 268 2214 301 2217 328 2219 344 2222 349 2225 343 2227 325 2230 298 2232 264 2235 227 2238 191 2240 159 2243 134 2246 120 2248 117 2251 126 2253 146 2256 174 2259 209 2261 246 2264 282 2266 313 2269 335 2272 348 2274 348 2277 337 2279 315 2282 285 2285 250 2287 213 2290 178 2292 148 2295 127 2298 117 2300 119 2303 132 2305 156 2308 187 2311 223 2313 261 2316 295 2318 323 2321 342 2324 349 2326 345 2329 330 2331 304 2334 272 2337 235 2339 198 2342 165 2344 139 2347 122 2350 117 2352 123 2355 141 2358 168 2360 201 2363 238 2365 275 2368 307 2371 331 2373 346 2376 349 2378 340 2381 321 2384 292 2386 258 2389 221 2391 185 2394 154 2397 131 2399 118 2402 118 2404 129 2407 150 2410 180 2412 215 2415 253 2417 288 2420 317 2423 338 2425 349 2428 347 2430 334 2433 311 2436 279 2438 243 2441 206 2443 172 2446 144 2449 125 2451 117 2454 121 2457 136 2459 161 2462 194 2464 230 2467 267 2470 300 2472 327 2475 344 2477 349 2480 343 2483 326 2485 299 2488 266 2490 229 2493 192 2496 160 2498 135 2501 120 2503 117 2506 125 2509 145 2511 173 2514 208 2516 245 2519 281 2522 312 2524 335 2527 347 2529 348 2532 338 2535 316 2537 287 2540 251 2542 214 2545 179 2548 149 2550 128 2553 117 2556 119 2558 132 2561 155 2563 186 2566 222 2569 259 2571 294 2574 322 2576 341 2579 349 2582 346 2584 331 2587 306 2589 273 2592 237 2595 200 2597 166 2600 140 2602 122 2605 116"/>
</g></g>
<text class="tl" x="744.4" y="736.8" text-anchor="end">-2</text>
<text class="tl" x="744.4" y="713.5" text-anchor="end">0</text>
<text class="tl" x="744.4" y="690.2" text-anchor="end">2</text>
<text class="tl" x="749.0" y="755.7" text-anchor="middle">0</text>
<text class="tl" x="879.2" y="755.7" text-anchor="middle">5</text>
<text class="tl" x="1009.5" y="755.7" text-anchor="middle">10</text>
<text class="lb" x="879.2" y="787.4" text-anchor="middle">Time (s)</text>
<text class="yl" transform="translate(714.1,707.0) rotate(-90) scale(0.95,1)" text-anchor="middle">C3</text>
</svg>
</body></html>
